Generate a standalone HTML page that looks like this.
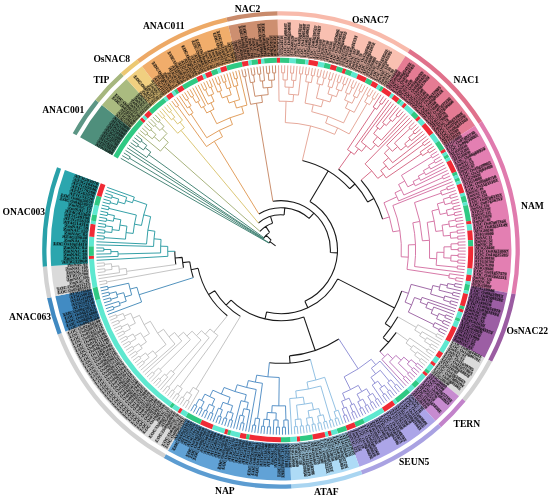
<!DOCTYPE html>
<html><head><meta charset="utf-8"><title>NAC phylogenetic tree</title>
<style>html,body{margin:0;padding:0;background:#fff}svg{display:block}</style></head>
<body>
<svg width="550" height="498" viewBox="0 0 550 498">
<rect width="550" height="498" fill="#fff"/>
<path d="M72.75 133.14A238.8 238.8 0 0 1 95.42 99.72L98.76 102.42A234.5 234.5 0 0 0 76.5 135.24Z" fill="#5c9685"/>
<path d="M80.08 137.25A230.4 230.4 0 0 1 101.95 105L130.7 128.29A193.4 193.4 0 0 0 112.34 155.35Z" fill="#4f8f7c"/>
<path d="M95.42 99.72A238.8 238.8 0 0 1 120.9 72.82L123.78 76.01A234.5 234.5 0 0 0 98.76 102.42Z" fill="#a6b77e"/>
<path d="M101.95 105A230.4 230.4 0 0 1 126.53 79.05L151.34 106.5A193.4 193.4 0 0 0 130.7 128.29Z" fill="#aabb80"/>
<path d="M120.9 72.82A238.8 238.8 0 0 1 136.95 59.54L139.55 62.97A234.5 234.5 0 0 0 123.78 76.01Z" fill="#ecc872"/>
<path d="M126.53 79.05A230.4 230.4 0 0 1 142.02 66.24L164.34 95.75A193.4 193.4 0 0 0 151.34 106.5Z" fill="#f0cf80"/>
<path d="M136.95 59.54A238.8 238.8 0 0 1 226.47 17.51L227.45 21.7A234.5 234.5 0 0 0 139.55 62.97Z" fill="#eda966"/>
<path d="M142.02 66.24A230.4 230.4 0 0 1 228.39 25.69L236.84 61.71A193.4 193.4 0 0 0 164.34 95.75Z" fill="#f1ad6b"/>
<path d="M226.47 17.51A238.8 238.8 0 0 1 277.67 11.22L277.73 15.52A234.5 234.5 0 0 0 227.45 21.7Z" fill="#c98b6c"/>
<path d="M228.39 25.69A230.4 230.4 0 0 1 277.78 19.62L278.3 56.62A193.4 193.4 0 0 0 236.84 61.71Z" fill="#cd8f70"/>
<path d="M277.67 11.22A238.8 238.8 0 0 1 410.01 49.05L407.69 52.67A234.5 234.5 0 0 0 277.73 15.52Z" fill="#f8baab"/>
<path d="M277.78 19.62A230.4 230.4 0 0 1 405.47 56.12L385.48 87.25A193.4 193.4 0 0 0 278.3 56.62Z" fill="#f9c0b1"/>
<path d="M410.01 49.05A238.8 238.8 0 0 1 482.18 121.34L478.56 123.66A234.5 234.5 0 0 0 407.69 52.67Z" fill="#e0718b"/>
<path d="M405.47 56.12A230.4 230.4 0 0 1 475.1 125.87L443.93 145.8A193.4 193.4 0 0 0 385.48 87.25Z" fill="#e57b93"/>
<path d="M482.18 121.34A238.8 238.8 0 0 1 515.65 294.34L511.42 293.54A234.5 234.5 0 0 0 478.56 123.66Z" fill="#e07bae"/>
<path d="M475.1 125.87A230.4 230.4 0 0 1 507.39 292.78L471.04 285.91A193.4 193.4 0 0 0 443.93 145.8Z" fill="#e37fb2"/>
<path d="M515.65 294.34A238.8 238.8 0 0 1 492.04 361.74L488.24 359.73A234.5 234.5 0 0 0 511.42 293.54Z" fill="#9b5ca2"/>
<path d="M507.39 292.78A230.4 230.4 0 0 1 484.62 357.81L451.92 340.5A193.4 193.4 0 0 0 471.04 285.91Z" fill="#9c5ea4"/>
<path d="M492.04 361.74A238.8 238.8 0 0 1 465.53 401.57L462.21 398.84A234.5 234.5 0 0 0 488.24 359.73Z" fill="#d2d2d2"/>
<path d="M484.62 357.81A230.4 230.4 0 0 1 459.04 396.24L430.45 372.76A193.4 193.4 0 0 0 451.92 340.5Z" fill="#dadada"/>
<path d="M465.53 401.57A238.8 238.8 0 0 1 441.1 427.18L438.22 423.99A234.5 234.5 0 0 0 462.21 398.84Z" fill="#c283ca"/>
<path d="M459.04 396.24A230.4 230.4 0 0 1 435.47 420.95L410.66 393.5A193.4 193.4 0 0 0 430.45 372.76Z" fill="#c78bd0"/>
<path d="M441.1 427.18A238.8 238.8 0 0 1 362.28 474.54L360.82 470.5A234.5 234.5 0 0 0 438.22 423.99Z" fill="#a9a2e2"/>
<path d="M435.47 420.95A230.4 230.4 0 0 1 359.42 466.64L346.83 431.85A193.4 193.4 0 0 0 410.66 393.5Z" fill="#aca5e8"/>
<path d="M362.28 474.54A238.8 238.8 0 0 1 291.42 488.57L291.23 484.28A234.5 234.5 0 0 0 360.82 470.5Z" fill="#a9d5f1"/>
<path d="M359.42 466.64A230.4 230.4 0 0 1 291.05 480.18L289.44 443.22A193.4 193.4 0 0 0 346.83 431.85Z" fill="#aedbf6"/>
<path d="M291.42 488.57A238.8 238.8 0 0 1 163.77 458.05L165.88 454.3A234.5 234.5 0 0 0 291.23 484.28Z" fill="#5c9cd1"/>
<path d="M291.05 480.18A230.4 230.4 0 0 1 167.9 450.73L186.06 418.49A193.4 193.4 0 0 0 289.44 443.22Z" fill="#61a2d6"/>
<path d="M163.77 458.05A238.8 238.8 0 0 1 57.62 334.41L61.64 332.89A234.5 234.5 0 0 0 165.88 454.3Z" fill="#d2d2d2"/>
<path d="M167.9 450.73A230.4 230.4 0 0 1 65.47 331.44L100.09 318.36A193.4 193.4 0 0 0 186.06 418.49Z" fill="#dadada"/>
<path d="M57.62 334.41A238.8 238.8 0 0 1 47.08 298.02L51.29 297.15A234.5 234.5 0 0 0 61.64 332.89Z" fill="#4089c1"/>
<path d="M65.47 331.44A230.4 230.4 0 0 1 55.31 296.33L91.55 288.89A193.4 193.4 0 0 0 100.09 318.36Z" fill="#418bc3"/>
<path d="M47.08 298.02A238.8 238.8 0 0 1 42.78 266.66L47.07 266.36A234.5 234.5 0 0 0 51.29 297.15Z" fill="#d2d2d2"/>
<path d="M55.31 296.33A230.4 230.4 0 0 1 51.16 266.07L88.07 263.49A193.4 193.4 0 0 0 91.55 288.89Z" fill="#dadada"/>
<path d="M42.78 266.66A238.8 238.8 0 0 1 57.03 167.15L61.07 168.64A234.5 234.5 0 0 0 47.07 266.36Z" fill="#29a1a9"/>
<path d="M51.16 266.07A230.4 230.4 0 0 1 64.91 170.07L99.61 182.9A193.4 193.4 0 0 0 88.07 263.49Z" fill="#2ba6ae"/>
<path d="M113.39 155.94A192.2 192.2 0 0 1 139.81 119.59L143.48 122.99A187.2 187.2 0 0 0 117.75 158.39Z" fill="#2fc983"/>
<path d="M139.81 119.59A192.2 192.2 0 0 1 142.01 117.25L145.63 120.7A187.2 187.2 0 0 0 143.48 122.99Z" fill="#f02a35"/>
<path d="M142.01 117.25A192.2 192.2 0 0 1 144.25 114.94L147.81 118.45A187.2 187.2 0 0 0 145.63 120.7Z" fill="#5ee8d0"/>
<path d="M144.25 114.94A192.2 192.2 0 0 1 148.85 110.44L152.29 114.07A187.2 187.2 0 0 0 147.81 118.45Z" fill="#f02a35"/>
<path d="M148.85 110.44A192.2 192.2 0 0 1 163.51 97.89L166.56 101.85A187.2 187.2 0 0 0 152.29 114.07Z" fill="#2fc983"/>
<path d="M163.51 97.89A192.2 192.2 0 0 1 166.07 95.95L169.06 99.96A187.2 187.2 0 0 0 166.56 101.85Z" fill="#5ee8d0"/>
<path d="M166.07 95.95A192.2 192.2 0 0 1 171.29 92.19L174.14 96.29A187.2 187.2 0 0 0 169.06 99.96Z" fill="#f02a35"/>
<path d="M171.29 92.19A192.2 192.2 0 0 1 173.95 90.37L176.73 94.53A187.2 187.2 0 0 0 174.14 96.29Z" fill="#5ee8d0"/>
<path d="M173.95 90.37A192.2 192.2 0 0 1 176.63 88.6L179.35 92.8A187.2 187.2 0 0 0 176.73 94.53Z" fill="#2fc983"/>
<path d="M176.63 88.6A192.2 192.2 0 0 1 182.09 85.2L184.67 89.49A187.2 187.2 0 0 0 179.35 92.8Z" fill="#f02a35"/>
<path d="M182.09 85.2A192.2 192.2 0 0 1 196.22 77.51L198.42 82A187.2 187.2 0 0 0 184.67 89.49Z" fill="#2fc983"/>
<path d="M196.22 77.51A192.2 192.2 0 0 1 202.04 74.77L204.09 79.33A187.2 187.2 0 0 0 198.42 82Z" fill="#f02a35"/>
<path d="M202.04 74.77A192.2 192.2 0 0 1 204.98 73.47L206.96 78.06A187.2 187.2 0 0 0 204.09 79.33Z" fill="#5ee8d0"/>
<path d="M204.98 73.47A192.2 192.2 0 0 1 210.93 71.03L212.75 75.68A187.2 187.2 0 0 0 206.96 78.06Z" fill="#f02a35"/>
<path d="M210.93 71.03A192.2 192.2 0 0 1 216.96 68.78L218.63 73.5A187.2 187.2 0 0 0 212.75 75.68Z" fill="#2fc983"/>
<path d="M216.96 68.78A192.2 192.2 0 0 1 220 67.74L221.59 72.48A187.2 187.2 0 0 0 218.63 73.5Z" fill="#5ee8d0"/>
<path d="M220 67.74A192.2 192.2 0 0 1 226.14 65.8L227.57 70.59A187.2 187.2 0 0 0 221.59 72.48Z" fill="#f02a35"/>
<path d="M226.14 65.8A192.2 192.2 0 0 1 241.73 61.85L242.75 66.75A187.2 187.2 0 0 0 227.57 70.59Z" fill="#2fc983"/>
<path d="M241.73 61.85A192.2 192.2 0 0 1 248.05 60.65L248.9 65.57A187.2 187.2 0 0 0 242.75 66.75Z" fill="#f02a35"/>
<path d="M248.05 60.65A192.2 192.2 0 0 1 251.22 60.12L252 65.06A187.2 187.2 0 0 0 248.9 65.57Z" fill="#5ee8d0"/>
<path d="M251.22 60.12A192.2 192.2 0 0 1 257.59 59.23L258.2 64.19A187.2 187.2 0 0 0 252 65.06Z" fill="#2fc983"/>
<path d="M257.59 59.23A192.2 192.2 0 0 1 260.79 58.87L261.32 63.84A187.2 187.2 0 0 0 258.2 64.19Z" fill="#f02a35"/>
<path d="M260.79 58.87A192.2 192.2 0 0 1 263.99 58.55L264.43 63.53A187.2 187.2 0 0 0 261.32 63.84Z" fill="#5ee8d0"/>
<path d="M263.99 58.55A192.2 192.2 0 0 1 276.84 57.85L276.95 62.84A187.2 187.2 0 0 0 264.43 63.53Z" fill="#2fc983"/>
<path d="M276.84 57.85A192.2 192.2 0 0 1 280.05 57.8L280.08 62.8A187.2 187.2 0 0 0 276.95 62.84Z" fill="#f02a35"/>
<path d="M280.05 57.8A192.2 192.2 0 0 1 289.7 58L289.48 62.99A187.2 187.2 0 0 0 280.08 62.8Z" fill="#2fc983"/>
<path d="M289.7 58A192.2 192.2 0 0 1 296.12 58.4L295.73 63.38A187.2 187.2 0 0 0 289.48 62.99Z" fill="#5ee8d0"/>
<path d="M296.12 58.4A192.2 192.2 0 0 1 305.72 59.4L305.08 64.36A187.2 187.2 0 0 0 295.73 63.38Z" fill="#2fc983"/>
<path d="M305.72 59.4A192.2 192.2 0 0 1 308.91 59.84L308.18 64.78A187.2 187.2 0 0 0 305.08 64.36Z" fill="#5ee8d0"/>
<path d="M308.91 59.84A192.2 192.2 0 0 1 318.42 61.48L317.44 66.38A187.2 187.2 0 0 0 308.18 64.78Z" fill="#f02a35"/>
<path d="M318.42 61.48A192.2 192.2 0 0 1 324.71 62.84L323.57 67.7A187.2 187.2 0 0 0 317.44 66.38Z" fill="#5ee8d0"/>
<path d="M324.71 62.84A192.2 192.2 0 0 1 330.95 64.4L329.65 69.23A187.2 187.2 0 0 0 323.57 67.7Z" fill="#2fc983"/>
<path d="M330.95 64.4A192.2 192.2 0 0 1 337.13 66.18L335.67 70.96A187.2 187.2 0 0 0 329.65 69.23Z" fill="#f02a35"/>
<path d="M337.13 66.18A192.2 192.2 0 0 1 343.25 68.16L341.63 72.89A187.2 187.2 0 0 0 335.67 70.96Z" fill="#2fc983"/>
<path d="M343.25 68.16A192.2 192.2 0 0 1 346.29 69.23L344.59 73.93A187.2 187.2 0 0 0 341.63 72.89Z" fill="#f02a35"/>
<path d="M346.29 69.23A192.2 192.2 0 0 1 352.3 71.51L350.45 76.16A187.2 187.2 0 0 0 344.59 73.93Z" fill="#2fc983"/>
<path d="M352.3 71.51A192.2 192.2 0 0 1 358.23 74L356.23 78.58A187.2 187.2 0 0 0 350.45 76.16Z" fill="#5ee8d0"/>
<path d="M358.23 74A192.2 192.2 0 0 1 366.97 78.1L364.73 82.57A187.2 187.2 0 0 0 356.23 78.58Z" fill="#f02a35"/>
<path d="M366.97 78.1A192.2 192.2 0 0 1 372.68 81.07L370.29 85.47A187.2 187.2 0 0 0 364.73 82.57Z" fill="#2fc983"/>
<path d="M372.68 81.07A192.2 192.2 0 0 1 378.28 84.24L375.75 88.55A187.2 187.2 0 0 0 370.29 85.47Z" fill="#f02a35"/>
<path d="M378.28 84.24A192.2 192.2 0 0 1 381.04 85.89L378.44 90.16A187.2 187.2 0 0 0 375.75 88.55Z" fill="#5ee8d0"/>
<path d="M381.04 85.89A192.2 192.2 0 0 1 383.77 87.58L381.1 91.81A187.2 187.2 0 0 0 378.44 90.16Z" fill="#2fc983"/>
<path d="M383.77 87.58A192.2 192.2 0 0 1 391.79 92.95L388.91 97.03A187.2 187.2 0 0 0 381.1 91.81Z" fill="#f02a35"/>
<path d="M391.79 92.95A192.2 192.2 0 0 1 394.41 94.82L391.46 98.86A187.2 187.2 0 0 0 388.91 97.03Z" fill="#5ee8d0"/>
<path d="M394.41 94.82A192.2 192.2 0 0 1 399.54 98.71L396.45 102.64A187.2 187.2 0 0 0 391.46 98.86Z" fill="#f02a35"/>
<path d="M399.54 98.71A192.2 192.2 0 0 1 402.05 100.71L398.9 104.6A187.2 187.2 0 0 0 396.45 102.64Z" fill="#2fc983"/>
<path d="M402.05 100.71A192.2 192.2 0 0 1 404.54 102.76L401.32 106.59A187.2 187.2 0 0 0 398.9 104.6Z" fill="#5ee8d0"/>
<path d="M404.54 102.76A192.2 192.2 0 0 1 406.98 104.85L403.71 108.62A187.2 187.2 0 0 0 401.32 106.59Z" fill="#f02a35"/>
<path d="M406.98 104.85A192.2 192.2 0 0 1 414.11 111.35L410.65 114.96A187.2 187.2 0 0 0 403.71 108.62Z" fill="#5ee8d0"/>
<path d="M414.11 111.35A192.2 192.2 0 0 1 418.68 115.89L415.09 119.38A187.2 187.2 0 0 0 410.65 114.96Z" fill="#2fc983"/>
<path d="M418.68 115.89A192.2 192.2 0 0 1 420.9 118.21L417.26 121.64A187.2 187.2 0 0 0 415.09 119.38Z" fill="#f02a35"/>
<path d="M420.9 118.21A192.2 192.2 0 0 1 425.23 122.97L421.48 126.27A187.2 187.2 0 0 0 417.26 121.64Z" fill="#5ee8d0"/>
<path d="M425.23 122.97A192.2 192.2 0 0 1 433.41 132.9L429.44 135.95A187.2 187.2 0 0 0 421.48 126.27Z" fill="#f02a35"/>
<path d="M433.41 132.9A192.2 192.2 0 0 1 439.09 140.7L434.98 143.54A187.2 187.2 0 0 0 429.44 135.95Z" fill="#5ee8d0"/>
<path d="M439.09 140.7A192.2 192.2 0 0 1 444.38 148.77L440.13 151.4A187.2 187.2 0 0 0 434.98 143.54Z" fill="#2fc983"/>
<path d="M444.38 148.77A192.2 192.2 0 0 1 446.05 151.52L441.76 154.08A187.2 187.2 0 0 0 440.13 151.4Z" fill="#f02a35"/>
<path d="M446.05 151.52A192.2 192.2 0 0 1 447.68 154.3L443.34 156.79A187.2 187.2 0 0 0 441.76 154.08Z" fill="#5ee8d0"/>
<path d="M447.68 154.3A192.2 192.2 0 0 1 449.26 157.1L444.88 159.52A187.2 187.2 0 0 0 443.34 156.79Z" fill="#2fc983"/>
<path d="M449.26 157.1A192.2 192.2 0 0 1 450.79 159.93L446.37 162.27A187.2 187.2 0 0 0 444.88 159.52Z" fill="#5ee8d0"/>
<path d="M450.79 159.93A192.2 192.2 0 0 1 456.43 171.49L451.87 173.53A187.2 187.2 0 0 0 446.37 162.27Z" fill="#f02a35"/>
<path d="M456.43 171.49A192.2 192.2 0 0 1 457.72 174.44L453.13 176.4A187.2 187.2 0 0 0 451.87 173.53Z" fill="#2fc983"/>
<path d="M457.72 174.44A192.2 192.2 0 0 1 458.96 177.4L454.33 179.29A187.2 187.2 0 0 0 453.13 176.4Z" fill="#5ee8d0"/>
<path d="M458.96 177.4A192.2 192.2 0 0 1 460.15 180.39L455.49 182.2A187.2 187.2 0 0 0 454.33 179.29Z" fill="#2fc983"/>
<path d="M460.15 180.39A192.2 192.2 0 0 1 461.29 183.4L456.6 185.13A187.2 187.2 0 0 0 455.49 182.2Z" fill="#5ee8d0"/>
<path d="M461.29 183.4A192.2 192.2 0 0 1 464.41 192.53L459.64 194.03A187.2 187.2 0 0 0 456.6 185.13Z" fill="#f02a35"/>
<path d="M464.41 192.53A192.2 192.2 0 0 1 465.34 195.61L460.55 197.03A187.2 187.2 0 0 0 459.64 194.03Z" fill="#5ee8d0"/>
<path d="M465.34 195.61A192.2 192.2 0 0 1 467.06 201.81L462.22 203.07A187.2 187.2 0 0 0 460.55 197.03Z" fill="#2fc983"/>
<path d="M467.06 201.81A192.2 192.2 0 0 1 467.84 204.93L462.98 206.11A187.2 187.2 0 0 0 462.22 203.07Z" fill="#5ee8d0"/>
<path d="M467.84 204.93A192.2 192.2 0 0 1 470.96 220.71L466.01 221.47A187.2 187.2 0 0 0 462.98 206.11Z" fill="#2fc983"/>
<path d="M470.96 220.71A192.2 192.2 0 0 1 471.42 223.89L466.47 224.57A187.2 187.2 0 0 0 466.01 221.47Z" fill="#f02a35"/>
<path d="M471.42 223.89A192.2 192.2 0 0 1 472.19 230.28L467.21 230.79A187.2 187.2 0 0 0 466.47 224.57Z" fill="#5ee8d0"/>
<path d="M472.19 230.28A192.2 192.2 0 0 1 472.93 239.9L467.94 240.17A187.2 187.2 0 0 0 467.21 230.79Z" fill="#f02a35"/>
<path d="M472.93 239.9A192.2 192.2 0 0 1 473.17 246.33L468.17 246.43A187.2 187.2 0 0 0 467.94 240.17Z" fill="#2fc983"/>
<path d="M473.17 246.33A192.2 192.2 0 0 1 472.28 268.82L467.3 268.33A187.2 187.2 0 0 0 468.17 246.43Z" fill="#f02a35"/>
<path d="M472.28 268.82A192.2 192.2 0 0 1 471.54 275.21L466.58 274.56A187.2 187.2 0 0 0 467.3 268.33Z" fill="#5ee8d0"/>
<path d="M471.54 275.21A192.2 192.2 0 0 1 470.59 281.58L465.66 280.75A187.2 187.2 0 0 0 466.58 274.56Z" fill="#f02a35"/>
<path d="M470.59 281.58A192.2 192.2 0 0 1 470.03 284.74L465.12 283.84A187.2 187.2 0 0 0 465.66 280.75Z" fill="#5ee8d0"/>
<path d="M470.03 284.74A192.2 192.2 0 0 1 468.76 291.05L463.88 289.98A187.2 187.2 0 0 0 465.12 283.84Z" fill="#2fc983"/>
<path d="M468.76 291.05A192.2 192.2 0 0 1 468.05 294.19L463.19 293.04A187.2 187.2 0 0 0 463.88 289.98Z" fill="#5ee8d0"/>
<path d="M468.05 294.19A192.2 192.2 0 0 1 464.68 306.6L459.9 305.13A187.2 187.2 0 0 0 463.19 293.04Z" fill="#f02a35"/>
<path d="M464.68 306.6A192.2 192.2 0 0 1 463.7 309.67L458.95 308.12A187.2 187.2 0 0 0 459.9 305.13Z" fill="#2fc983"/>
<path d="M463.7 309.67A192.2 192.2 0 0 1 462.68 312.72L457.95 311.09A187.2 187.2 0 0 0 458.95 308.12Z" fill="#f02a35"/>
<path d="M462.68 312.72A192.2 192.2 0 0 1 460.48 318.77L455.81 316.98A187.2 187.2 0 0 0 457.95 311.09Z" fill="#5ee8d0"/>
<path d="M460.48 318.77A192.2 192.2 0 0 1 459.3 321.76L454.66 319.89A187.2 187.2 0 0 0 455.81 316.98Z" fill="#2fc983"/>
<path d="M459.3 321.76A192.2 192.2 0 0 1 456.8 327.69L452.23 325.67A187.2 187.2 0 0 0 454.66 319.89Z" fill="#5ee8d0"/>
<path d="M456.8 327.69A192.2 192.2 0 0 1 449.69 342.11L445.3 339.71A187.2 187.2 0 0 0 452.23 325.67Z" fill="#f02a35"/>
<path d="M449.69 342.11A192.2 192.2 0 0 1 443.15 353.19L438.93 350.51A187.2 187.2 0 0 0 445.3 339.71Z" fill="#5ee8d0"/>
<path d="M443.15 353.19A192.2 192.2 0 0 1 439.61 358.56L435.48 355.74A187.2 187.2 0 0 0 438.93 350.51Z" fill="#f02a35"/>
<path d="M439.61 358.56A192.2 192.2 0 0 1 435.88 363.81L431.85 360.85A187.2 187.2 0 0 0 435.48 355.74Z" fill="#5ee8d0"/>
<path d="M435.88 363.81A192.2 192.2 0 0 1 433.96 366.38L429.98 363.36A187.2 187.2 0 0 0 431.85 360.85Z" fill="#f02a35"/>
<path d="M433.96 366.38A192.2 192.2 0 0 1 429.98 371.44L426.1 368.28A187.2 187.2 0 0 0 429.98 363.36Z" fill="#5ee8d0"/>
<path d="M429.98 371.44A192.2 192.2 0 0 1 427.92 373.91L424.1 370.69A187.2 187.2 0 0 0 426.1 368.28Z" fill="#2fc983"/>
<path d="M427.92 373.91A192.2 192.2 0 0 1 425.83 376.36L422.06 373.07A187.2 187.2 0 0 0 424.1 370.69Z" fill="#f02a35"/>
<path d="M425.83 376.36A192.2 192.2 0 0 1 419.3 383.47L415.71 379.99A187.2 187.2 0 0 0 422.06 373.07Z" fill="#5ee8d0"/>
<path d="M419.3 383.47A192.2 192.2 0 0 1 414.76 388.02L411.28 384.43A187.2 187.2 0 0 0 415.71 379.99Z" fill="#2fc983"/>
<path d="M414.76 388.02A192.2 192.2 0 0 1 410.06 392.42L406.71 388.71A187.2 187.2 0 0 0 411.28 384.43Z" fill="#5ee8d0"/>
<path d="M410.06 392.42A192.2 192.2 0 0 1 397.71 402.71L394.67 398.74A187.2 187.2 0 0 0 406.71 388.71Z" fill="#2fc983"/>
<path d="M397.71 402.71A192.2 192.2 0 0 1 395.13 404.64L392.17 400.62A187.2 187.2 0 0 0 394.67 398.74Z" fill="#5ee8d0"/>
<path d="M395.13 404.64A192.2 192.2 0 0 1 384.53 411.93L381.84 407.72A187.2 187.2 0 0 0 392.17 400.62Z" fill="#f02a35"/>
<path d="M384.53 411.93A192.2 192.2 0 0 1 364.89 422.92L362.71 418.43A187.2 187.2 0 0 0 381.84 407.72Z" fill="#5ee8d0"/>
<path d="M364.89 422.92A192.2 192.2 0 0 1 356.11 426.92L354.15 422.31A187.2 187.2 0 0 0 362.71 418.43Z" fill="#2fc983"/>
<path d="M356.11 426.92A192.2 192.2 0 0 1 347.13 430.46L345.41 425.77A187.2 187.2 0 0 0 354.15 422.31Z" fill="#f02a35"/>
<path d="M347.13 430.46A192.2 192.2 0 0 1 337.99 433.56L336.51 428.78A187.2 187.2 0 0 0 345.41 425.77Z" fill="#2fc983"/>
<path d="M337.99 433.56A192.2 192.2 0 0 1 331.82 435.36L330.5 430.54A187.2 187.2 0 0 0 336.51 428.78Z" fill="#5ee8d0"/>
<path d="M331.82 435.36A192.2 192.2 0 0 1 328.71 436.18L327.47 431.34A187.2 187.2 0 0 0 330.5 430.54Z" fill="#f02a35"/>
<path d="M328.71 436.18A192.2 192.2 0 0 1 325.58 436.96L324.42 432.09A187.2 187.2 0 0 0 327.47 431.34Z" fill="#5ee8d0"/>
<path d="M325.58 436.96A192.2 192.2 0 0 1 312.98 439.52L312.15 434.59A187.2 187.2 0 0 0 324.42 432.09Z" fill="#f02a35"/>
<path d="M312.98 439.52A192.2 192.2 0 0 1 300.23 441.24L299.73 436.26A187.2 187.2 0 0 0 312.15 434.59Z" fill="#2fc983"/>
<path d="M300.23 441.24A192.2 192.2 0 0 1 297.02 441.53L296.61 436.55A187.2 187.2 0 0 0 299.73 436.26Z" fill="#f02a35"/>
<path d="M297.02 441.53A192.2 192.2 0 0 1 290.6 441.96L290.35 436.97A187.2 187.2 0 0 0 296.61 436.55Z" fill="#5ee8d0"/>
<path d="M290.6 441.96A192.2 192.2 0 0 1 280.96 442.2L280.96 437.2A187.2 187.2 0 0 0 290.35 436.97Z" fill="#2fc983"/>
<path d="M280.96 442.2A192.2 192.2 0 0 1 248.94 439.51L249.77 434.58A187.2 187.2 0 0 0 280.96 437.2Z" fill="#f02a35"/>
<path d="M248.94 439.51A192.2 192.2 0 0 1 245.77 438.94L246.69 434.03A187.2 187.2 0 0 0 249.77 434.58Z" fill="#2fc983"/>
<path d="M245.77 438.94A192.2 192.2 0 0 1 239.46 437.66L240.55 432.78A187.2 187.2 0 0 0 246.69 434.03Z" fill="#f02a35"/>
<path d="M239.46 437.66A192.2 192.2 0 0 1 230.1 435.34L231.42 430.52A187.2 187.2 0 0 0 240.55 432.78Z" fill="#5ee8d0"/>
<path d="M230.1 435.34A192.2 192.2 0 0 1 227 434.46L228.41 429.66A187.2 187.2 0 0 0 231.42 430.52Z" fill="#2fc983"/>
<path d="M227 434.46A192.2 192.2 0 0 1 223.92 433.53L225.41 428.76A187.2 187.2 0 0 0 228.41 429.66Z" fill="#f02a35"/>
<path d="M223.92 433.53A192.2 192.2 0 0 1 211.77 429.3L213.57 424.64A187.2 187.2 0 0 0 225.41 428.76Z" fill="#5ee8d0"/>
<path d="M211.77 429.3A192.2 192.2 0 0 1 199.93 424.27L202.04 419.73A187.2 187.2 0 0 0 213.57 424.64Z" fill="#f02a35"/>
<path d="M199.93 424.27A192.2 192.2 0 0 1 185.65 416.88L188.13 412.54A187.2 187.2 0 0 0 202.04 419.73Z" fill="#2fc983"/>
<path d="M185.65 416.88A192.2 192.2 0 0 1 180.12 413.6L182.74 409.34A187.2 187.2 0 0 0 188.13 412.54Z" fill="#5ee8d0"/>
<path d="M180.12 413.6A192.2 192.2 0 0 1 177.39 411.88L180.09 407.67A187.2 187.2 0 0 0 182.74 409.34Z" fill="#f02a35"/>
<path d="M177.39 411.88A192.2 192.2 0 0 1 172.03 408.33L174.87 404.21A187.2 187.2 0 0 0 180.09 407.67Z" fill="#5ee8d0"/>
<path d="M172.03 408.33A192.2 192.2 0 0 1 169.4 406.48L172.3 402.41A187.2 187.2 0 0 0 174.87 404.21Z" fill="#2fc983"/>
<path d="M169.4 406.48A192.2 192.2 0 0 1 95.51 300.34L100.33 299.03A187.2 187.2 0 0 0 172.3 402.41Z" fill="#5ee8d0"/>
<path d="M95.51 300.34A192.2 192.2 0 0 1 92.56 287.82L97.46 286.83A187.2 187.2 0 0 0 100.33 299.03Z" fill="#2fc983"/>
<path d="M92.56 287.82A192.2 192.2 0 0 1 89.02 259.11L94.01 258.87A187.2 187.2 0 0 0 97.46 286.83Z" fill="#5ee8d0"/>
<path d="M89.02 259.11A192.2 192.2 0 0 1 88.89 255.89L93.89 255.74A187.2 187.2 0 0 0 94.01 258.87Z" fill="#f02a35"/>
<path d="M88.89 255.89A192.2 192.2 0 0 1 88.84 246.24L93.84 246.34A187.2 187.2 0 0 0 93.89 255.74Z" fill="#2fc983"/>
<path d="M88.84 246.24A192.2 192.2 0 0 1 89.27 236.6L94.26 236.95A187.2 187.2 0 0 0 93.84 246.34Z" fill="#5ee8d0"/>
<path d="M89.27 236.6A192.2 192.2 0 0 1 90.59 223.81L95.55 224.49A187.2 187.2 0 0 0 94.26 236.95Z" fill="#f02a35"/>
<path d="M90.59 223.81A192.2 192.2 0 0 1 91.06 220.62L96 221.39A187.2 187.2 0 0 0 95.55 224.49Z" fill="#5ee8d0"/>
<path d="M91.06 220.62A192.2 192.2 0 0 1 92.15 214.28L97.06 215.21A187.2 187.2 0 0 0 96 221.39Z" fill="#2fc983"/>
<path d="M92.15 214.28A192.2 192.2 0 0 1 94.18 204.85L99.04 206.02A187.2 187.2 0 0 0 97.06 215.21Z" fill="#5ee8d0"/>
<path d="M94.18 204.85A192.2 192.2 0 0 1 96.68 195.53L101.48 196.95A187.2 187.2 0 0 0 99.04 206.02Z" fill="#2fc983"/>
<path d="M96.68 195.53A192.2 192.2 0 0 1 100.74 183.32L105.43 185.05A187.2 187.2 0 0 0 101.48 196.95Z" fill="#f02a35"/>
<path d="M268.94 243.1A13.9 13.9 0 0 1 271.15 240.2M271.15 240.2L266.11 235.19M263.32 238.67A21 21 0 0 1 269.58 232.38M269.58 232.38L265.72 226.42M259.96 231.37A28.1 28.1 0 0 1 272.59 223.19M272.59 223.19L270.47 216.41M258.42 223A35.2 35.2 0 0 1 284.12 214.94M284.12 214.94L284.75 207.87M258.87 213.95A42.3 42.3 0 0 1 309.15 218.43M309.15 218.43L313.88 213.13M272.86 201.28A49.4 49.4 0 0 1 330.34 252.52M330.34 252.52L337.43 252.89M309.95 201.48A56.5 56.5 0 0 1 304.85 301.22M309.95 201.48L328.14 171M302.34 160.51A92 92 0 0 1 349.63 188.73M349.63 188.73L354.92 184M338.55 169.32A99.1 99.1 0 0 1 367.66 201.93M367.66 201.93L373.87 198.48M361.04 180.2A106.2 106.2 0 0 1 382.59 219.05M304.85 301.22L307.85 307.66M337.67 278.88A63.6 63.6 0 0 1 266.63 311.96M337.67 278.88L394.6 307.89M401.7 291.07A127.5 127.5 0 0 1 385.17 323.52M385.17 323.52L390.97 327.62M397.83 316.84A134.6 134.6 0 0 1 383.12 337.69M383.12 337.69L388.5 342.32M396.32 332.34A141.7 141.7 0 0 1 379.83 351.55M266.63 311.96L265.03 318.87M303.78 316.93A70.7 70.7 0 0 1 231.09 300.07M303.78 316.93L315.21 350.54M338.86 339.05A106.2 106.2 0 0 1 289.47 355.86M289.47 355.86L290.03 362.94M310.38 359.42A113.3 113.3 0 0 1 269.38 362.7M231.09 300.07L226.07 305.1M240.44 316.39A77.8 77.8 0 0 1 214.74 290.77M214.74 290.77L208.69 294.49M227.33 315.78A84.9 84.9 0 0 1 198.08 268.25M198.08 268.25L191.15 269.78M193.25 277.65A92 92 0 0 1 189.75 261.74M189.75 261.74L182.71 262.65M183.52 267.87A99.1 99.1 0 0 1 182.18 257.4M182.18 257.4L175.1 257.93M175.8 264.54A106.2 106.2 0 0 1 174.81 251.28M269.95 241.57L275.59 245.88" fill="none" stroke="#1a1a1a" stroke-width="1.1"/>
<path d="M268.94 243.1L120.69 158.27M269.11 242.8L129.46 158.16M128.7 159.43A177.2 177.2 0 0 1 130.23 156.89M128.7 159.43L122.25 155.6M130.23 156.89L123.85 152.95M263.32 238.67L125.5 150.34M263.51 238.37L127.19 147.75M263.96 237.72L148.75 154.71M146.79 157.5A163 163 0 0 1 150.77 151.97M146.79 157.5L128.92 145.19M150.77 151.97L145.1 147.7M143.41 149.99A170.1 170.1 0 0 1 146.83 145.44M143.41 149.99L137.67 145.81M136.8 147.01A177.2 177.2 0 0 1 138.54 144.62M136.8 147.01L130.7 142.66M138.54 144.62L132.51 140.16M146.83 145.44L141.23 141.07M140.33 142.25A177.2 177.2 0 0 1 142.15 139.91M140.33 142.25L134.37 137.69M142.15 139.91L136.27 135.25" fill="none" stroke="#377b6b" stroke-width="0.9"/>
<path d="M259.96 231.37L164.29 146.64M160.48 151.11A155.9 155.9 0 0 1 168.26 142.32M160.48 151.11L138.21 132.84M168.26 142.32L163.13 137.42M159.43 141.42A163 163 0 0 1 166.96 133.53M159.43 141.42L154.13 136.7M152.25 138.83A170.1 170.1 0 0 1 156.04 134.59M152.25 138.83L146.88 134.19M145.91 135.32A177.2 177.2 0 0 1 147.85 133.08M145.91 135.32L140.19 130.47M147.85 133.08L142.22 128.13M156.04 134.59L150.83 129.77M149.83 130.86A177.2 177.2 0 0 1 151.84 128.69M149.83 130.86L144.27 125.82M151.84 128.69L146.37 123.55M166.96 133.53L161.99 128.46M159.98 130.47A170.1 170.1 0 0 1 164.05 126.49M159.98 130.47L154.93 125.48M153.89 126.54A177.2 177.2 0 0 1 155.97 124.43M153.89 126.54L148.51 121.32M155.97 124.43L150.68 119.12M164.05 126.49L159.16 121.33M158.09 122.36A177.2 177.2 0 0 1 160.24 120.32M158.09 122.36L152.89 116.95M160.24 120.32L155.13 114.83" fill="none" stroke="#9eaa6e" stroke-width="0.9"/>
<path d="M258.42 223L181 130.4M177.66 133.27A155.9 155.9 0 0 1 184.41 127.62M177.66 133.27L163.54 117.33M162.43 118.31A177.2 177.2 0 0 1 164.65 116.35M162.43 118.31L157.41 112.74M164.65 116.35L159.73 110.69M184.41 127.62L180.01 122.05M177.62 123.98A163 163 0 0 1 182.44 120.17M177.62 123.98L173.12 118.49M171.48 119.85A170.1 170.1 0 0 1 174.78 117.14M171.48 119.85L162.08 108.68M174.78 117.14L170.35 111.6M169.19 112.53A177.2 177.2 0 0 1 171.51 110.68M169.19 112.53L164.46 106.71M171.51 110.68L166.87 104.78M182.44 120.17L169.32 102.89" fill="none" stroke="#d8c166" stroke-width="0.9"/>
<path d="M258.87 213.95L214.31 141.33M206.48 146.54A127.5 127.5 0 0 1 222.49 136.72M206.48 146.54L177.43 106.22M176.23 107.09A177.2 177.2 0 0 1 178.64 105.36M176.23 107.09L171.8 101.04M178.64 105.36L174.31 99.23M222.49 136.72L219.24 130.41M206.73 137.74A134.6 134.6 0 0 1 232.46 124.46M206.73 137.74L191.06 114.06M189.08 115.39A163 163 0 0 1 193.06 112.76M189.08 115.39L176.84 97.47M193.06 112.76L189.23 106.78M187.44 107.94A170.1 170.1 0 0 1 191.04 105.64M187.44 107.94L179.41 95.75M191.04 105.64L187.28 99.61M186.03 100.4A177.2 177.2 0 0 1 188.55 98.83M186.03 100.4L182.01 94.07M188.55 98.83L184.63 92.43M232.46 124.46L229.89 117.84M216.77 123.69A141.7 141.7 0 0 1 243.55 113.34M216.77 123.69L210.33 111.04M206.72 112.93A155.9 155.9 0 0 1 213.99 109.24M206.72 112.93L203.34 106.69M201.25 107.84A163 163 0 0 1 205.45 105.57M201.25 107.84L197.78 101.65M195.92 102.71A170.1 170.1 0 0 1 199.65 100.62M195.92 102.71L192.37 96.56M191.09 97.31A177.2 177.2 0 0 1 193.66 95.82M191.09 97.31L187.28 90.84M193.66 95.82L189.96 89.3M199.65 100.62L192.66 87.79M205.45 105.57L195.39 86.34M213.99 109.24L210.94 102.82M207.88 104.32A163 163 0 0 1 214.03 101.39M207.88 104.32L198.14 84.93M214.03 101.39L211.12 94.92M208.53 96.11A170.1 170.1 0 0 1 213.72 93.77M208.53 96.11L205.51 89.69M204.17 90.32A177.2 177.2 0 0 1 206.85 89.06M204.17 90.32L200.92 83.57M206.85 89.06L203.71 82.25M213.72 93.77L210.91 87.25M209.55 87.84A177.2 177.2 0 0 1 212.28 86.67M209.55 87.84L206.53 80.98M212.28 86.67L209.37 79.76M243.55 113.34L241.67 106.49M236.44 108.03A148.8 148.8 0 0 1 246.95 105.15M236.44 108.03L234.32 101.25M229.06 103.01A155.9 155.9 0 0 1 239.64 99.69M229.06 103.01L226.69 96.31M222.21 97.97A163 163 0 0 1 231.21 94.79M222.21 97.97L219.65 91.35M217.67 92.13A170.1 170.1 0 0 1 221.65 90.59M217.67 92.13L212.23 78.58M221.65 90.59L219.17 83.94M217.78 84.46A177.2 177.2 0 0 1 220.56 83.42M217.78 84.46L215.11 77.45M220.56 83.42L218.01 76.37M231.21 94.79L229.05 88.03M227.02 88.69A170.1 170.1 0 0 1 231.08 87.39M227.02 88.69L224.76 81.96M223.36 82.44A177.2 177.2 0 0 1 226.17 81.5M223.36 82.44L220.92 75.34M226.17 81.5L223.85 74.36M231.08 87.39L226.8 73.43M239.64 99.69L235.87 86M233.81 86.58A170.1 170.1 0 0 1 237.93 85.44M233.81 86.58L229.76 72.55M237.93 85.44L236.13 78.57M234.7 78.96A177.2 177.2 0 0 1 237.57 78.2M234.7 78.96L232.74 71.72M237.57 78.2L235.73 70.93M246.95 105.15L238.73 70.2" fill="none" stroke="#df954e" stroke-width="0.9"/>
<path d="M272.86 201.28L256.49 103.23M250.6 104.34A148.8 148.8 0 0 1 262.42 102.37M250.6 104.34L244.79 76.54M243.34 76.85A177.2 177.2 0 0 1 246.25 76.24M243.34 76.85L241.75 69.52M246.25 76.24L244.78 68.89M262.42 102.37L261.53 95.32M254.91 96.3A155.9 155.9 0 0 1 268.18 94.63M254.91 96.3L252.54 82.3M250.43 82.67A170.1 170.1 0 0 1 254.65 81.95M250.43 82.67L247.81 68.31M254.65 81.95L253.55 74.94M252.08 75.18A177.2 177.2 0 0 1 255.01 74.72M252.08 75.18L250.86 67.78M255.01 74.72L253.91 67.3M268.18 94.63L267.59 87.55M263.18 87.98A163 163 0 0 1 272.02 87.25M263.18 87.98L262.41 80.92M260.28 81.17A170.1 170.1 0 0 1 264.53 80.7M260.28 81.17L259.42 74.12M257.95 74.31A177.2 177.2 0 0 1 260.89 73.94M257.95 74.31L256.97 66.87M260.89 73.94L260.04 66.49M264.53 80.7L263.12 66.17M272.02 87.25L271.63 80.16M268.78 80.34A170.1 170.1 0 0 1 274.47 80.03M268.78 80.34L268.28 73.26M266.8 73.37A177.2 177.2 0 0 1 269.75 73.16M266.8 73.37L266.2 65.89M269.75 73.16L269.28 65.67M274.47 80.03L274.2 72.93M272.72 72.99A177.2 177.2 0 0 1 275.68 72.88M272.72 72.99L272.37 65.5M275.68 72.88L275.45 65.38" fill="none" stroke="#c4825e" stroke-width="0.9"/>
<path d="M302.34 160.51L310.57 125.98M285.31 122.57A127.5 127.5 0 0 1 334.65 134.34M285.31 122.57L286.03 101.28M279.02 101.21A148.8 148.8 0 0 1 293.02 101.69M279.02 101.21L278.55 65.32M293.02 101.69L293.59 94.61M288.71 94.29A155.9 155.9 0 0 1 298.46 95.08M288.71 94.29L289.06 87.2M284.97 87.05A163 163 0 0 1 293.15 87.45M284.97 87.05L285.14 79.95M283.01 79.91A170.1 170.1 0 0 1 287.28 80.02M283.01 79.91L283.09 72.81M281.61 72.8A177.2 177.2 0 0 1 284.58 72.84M281.61 72.8L281.64 65.3M284.58 72.84L284.73 65.34M287.28 80.02L287.82 65.43M293.15 87.45L293.68 80.37M291.54 80.23A170.1 170.1 0 0 1 295.8 80.55M291.54 80.23L291.98 73.14M290.5 73.06A177.2 177.2 0 0 1 293.46 73.24M290.5 73.06L290.91 65.57M293.46 73.24L293.99 65.76M295.8 80.55L297.07 66M298.46 95.08L300.85 73.92M299.37 73.76A177.2 177.2 0 0 1 302.32 74.09M299.37 73.76L300.15 66.3M302.32 74.09L303.22 66.64M334.65 134.34L337.64 127.9M325.63 123.01A134.6 134.6 0 0 1 349.13 133.91M325.63 123.01L327.98 116.31M311.71 111.67A141.7 141.7 0 0 1 343.59 122.87M311.71 111.67L313.24 104.74M305.07 103.16A148.8 148.8 0 0 1 321.32 106.77M305.07 103.16L308.51 82.14M305.7 81.7A170.1 170.1 0 0 1 311.32 82.62M305.7 81.7L306.73 74.68M305.26 74.47A177.2 177.2 0 0 1 308.2 74.9M305.26 74.47L306.29 67.04M308.2 74.9L309.35 67.49M311.32 82.62L312.58 75.64M311.12 75.38A177.2 177.2 0 0 1 314.04 75.91M311.12 75.38L312.4 67.99M314.04 75.91L315.44 68.54M321.32 106.77L323.24 99.93M316.45 98.18A155.9 155.9 0 0 1 329.95 101.98M316.45 98.18L319.68 84.36M316.9 83.73A170.1 170.1 0 0 1 322.45 85.03M316.9 83.73L318.4 76.79M316.95 76.49A177.2 177.2 0 0 1 319.85 77.11M316.95 76.49L318.47 69.14M319.85 77.11L321.49 69.79M322.45 85.03L324.18 78.14M322.74 77.79A177.2 177.2 0 0 1 325.62 78.51M322.74 77.79L324.51 70.5M325.62 78.51L327.5 71.25M329.95 101.98L332.18 95.24M327.95 93.91A163 163 0 0 1 336.37 96.69M327.95 93.91L330 87.11M327.95 86.51A170.1 170.1 0 0 1 332.04 87.74M327.95 86.51L329.91 79.68M328.48 79.28A177.2 177.2 0 0 1 331.33 80.1M328.48 79.28L330.49 72.05M331.33 80.1L333.46 72.91M332.04 87.74L336.42 73.81M336.37 96.69L338.78 90.01M336.09 89.07A170.1 170.1 0 0 1 341.45 91M336.09 89.07L338.39 82.35M336.99 81.88A177.2 177.2 0 0 1 339.79 82.84M336.99 81.88L339.36 74.76M339.79 82.84L342.28 75.76M341.45 91L343.97 84.37M342.58 83.85A177.2 177.2 0 0 1 345.36 84.9M342.58 83.85L345.19 76.81M345.36 84.9L348.08 77.91M343.59 122.87L349.86 110.13M345.43 108.04A155.9 155.9 0 0 1 354.21 112.36M345.43 108.04L348.37 101.57M344.62 99.93A163 163 0 0 1 352.07 103.31M344.62 99.93L347.39 93.39M345.42 92.57A170.1 170.1 0 0 1 349.35 94.24M345.42 92.57L350.95 79.06M349.35 94.24L352.21 87.74M350.85 87.15A177.2 177.2 0 0 1 353.56 88.34M350.85 87.15L353.8 80.25M353.56 88.34L356.63 81.5M352.07 103.31L355.17 96.92M353.24 96A170.1 170.1 0 0 1 357.09 97.87M353.24 96L359.44 82.79M357.09 97.87L360.26 91.52M358.93 90.86A177.2 177.2 0 0 1 361.58 92.18M358.93 90.86L362.23 84.12M361.58 92.18L365 85.5M354.21 112.36L367.74 86.93M349.13 133.91L367.09 103.3M364.63 101.88A170.1 170.1 0 0 1 369.54 104.76M364.63 101.88L368.12 95.69M366.82 94.97A177.2 177.2 0 0 1 369.4 96.43M366.82 94.97L370.45 88.41M369.4 96.43L373.15 89.93M369.54 104.76L373.23 98.7M371.96 97.93A177.2 177.2 0 0 1 374.5 99.47M371.96 97.93L375.81 91.49M374.5 99.47L378.45 93.1" fill="none" stroke="#e39f90" stroke-width="0.9"/>
<path d="M338.55 169.32L350.92 151.98M347.49 149.63A120.4 120.4 0 0 1 354.25 154.45M347.49 149.63L374.94 108.19M373.15 107.03A170.1 170.1 0 0 1 376.72 109.38M373.15 107.03L381.06 94.75M376.72 109.38L380.71 103.52M379.48 102.69A177.2 177.2 0 0 1 381.93 104.36M379.48 102.69L383.65 96.45M381.93 104.36L386.2 98.19M354.25 154.45L358.57 148.81M355.37 146.43A127.5 127.5 0 0 1 361.7 151.29M355.37 146.43L388.73 99.97M361.7 151.29L366.2 145.8M361.33 142A134.6 134.6 0 0 1 370.89 149.82M361.33 142L391.23 101.8M370.89 149.82L375.63 144.53M372.93 142.16A141.7 141.7 0 0 1 378.28 146.97M372.93 142.16L377.53 136.76M373.63 133.55A148.8 148.8 0 0 1 381.33 140.11M373.63 133.55L378.05 127.99M376.12 126.48A155.9 155.9 0 0 1 379.95 129.53M376.12 126.48L393.69 103.66M379.95 129.53L384.46 124.04M382.6 122.54A163 163 0 0 1 386.29 125.57M382.6 122.54L396.13 105.57M386.29 125.57L390.88 120.15M389.24 118.78A170.1 170.1 0 0 1 392.5 121.54M389.24 118.78L398.53 107.52M392.5 121.54L397.15 116.18M396.03 115.21A177.2 177.2 0 0 1 398.27 117.15M396.03 115.21L400.89 109.5M398.27 117.15L403.23 111.53M381.33 140.11L405.53 113.59M378.28 146.97L407.8 115.7M361.04 180.2L371.74 170.86M365.11 163.85A120.4 120.4 0 0 1 377.79 178.39M365.11 163.85L410.03 117.84M377.79 178.39L383.49 174.16M380.68 170.49A127.5 127.5 0 0 1 386.18 177.93M380.68 170.49L386.23 166.07M383.23 162.45A134.6 134.6 0 0 1 389.09 169.79M383.23 162.45L388.62 157.83M384.4 153.11A141.7 141.7 0 0 1 392.64 162.73M384.4 153.11L389.58 148.25M386.71 145.28A148.8 148.8 0 0 1 392.36 151.3M386.71 145.28L412.22 120.02M392.36 151.3L397.67 146.59M394.48 143.1A155.9 155.9 0 0 1 400.75 150.18M394.48 143.1L409.98 128.5M408.96 127.42A177.2 177.2 0 0 1 410.99 129.58M408.96 127.42L414.38 122.23M410.99 129.58L416.5 124.48M400.75 150.18L406.21 145.63M404.66 143.81A163 163 0 0 1 407.72 147.48M404.66 143.81L410.05 139.18M408.65 137.57A170.1 170.1 0 0 1 411.43 140.81M408.65 137.57L413.98 132.88M412.99 131.77A177.2 177.2 0 0 1 414.95 134M412.99 131.77L418.58 126.77M414.95 134L420.62 129.09M411.43 140.81L422.63 131.44M407.72 147.48L424.59 133.83M392.64 162.73L426.51 136.25M389.09 169.79L423.3 144.41M422.41 143.22A177.2 177.2 0 0 1 424.18 145.6M422.41 143.22L428.4 138.7M424.18 145.6L430.24 141.18M386.18 177.93L421.32 153.85M420.1 152.1A170.1 170.1 0 0 1 422.52 155.62M420.1 152.1L432.04 143.69M422.52 155.62L428.42 151.68M427.59 150.45A177.2 177.2 0 0 1 429.24 152.92M427.59 150.45L433.8 146.24M429.24 152.92L435.51 148.81" fill="none" stroke="#d25c7a" stroke-width="0.9"/>
<path d="M382.59 219.05L389.38 216.98M383.98 202.75A113.3 113.3 0 0 1 392.83 231.8M383.98 202.75L396.89 196.83M394.98 192.87A127.5 127.5 0 0 1 398.65 200.86M394.98 192.87L401.33 189.69M398.58 184.48A134.6 134.6 0 0 1 403.86 195.02M398.58 184.48L404.78 181.02M401.45 175.37A141.7 141.7 0 0 1 407.84 186.82M401.45 175.37L431.63 156.67M430.84 155.41A177.2 177.2 0 0 1 432.41 157.93M430.84 155.41L437.19 151.41M432.41 157.93L438.81 154.04M407.84 186.82L414.19 183.66M413.1 181.51A148.8 148.8 0 0 1 415.25 185.83M413.1 181.51L419.4 178.24M418.26 176.08A155.9 155.9 0 0 1 420.51 180.42M418.26 176.08L424.51 172.71M423.36 170.62A163 163 0 0 1 425.63 174.82M423.36 170.62L429.56 167.16M428.51 165.3A170.1 170.1 0 0 1 430.59 169.03M428.51 165.3L434.67 161.76M433.93 160.48A177.2 177.2 0 0 1 435.4 163.05M433.93 160.48L440.4 156.69M435.4 163.05L441.94 159.37M430.59 169.03L443.43 162.08M425.63 174.82L444.88 164.81M420.51 180.42L446.28 167.57M415.25 185.83L447.64 170.34M403.86 195.02L442.74 177.62M442.13 176.27A177.2 177.2 0 0 1 443.34 178.97M442.13 176.27L448.95 173.14M443.34 178.97L450.21 175.97M398.65 200.86L451.43 178.81M392.83 231.8L399.84 230.66M392.86 205.46A120.4 120.4 0 0 1 401.21 256.77M392.86 205.46L452.6 181.67M401.21 256.77L408.3 257.17M408.4 244.9A127.5 127.5 0 0 1 407.02 269.37M408.4 244.9L415.49 244.62M412.83 222.84A134.6 134.6 0 0 1 414.58 266.54M412.83 222.84L419.78 221.4M414.53 202.57A141.7 141.7 0 0 1 422.4 240.78M414.53 202.57L441.29 193.07M440.56 191.06A170.1 170.1 0 0 1 441.99 195.08M440.56 191.06L447.22 188.6M446.7 187.21A177.2 177.2 0 0 1 447.73 189.99M446.7 187.21L453.72 184.55M447.73 189.99L454.79 187.45M441.99 195.08L455.81 190.37M422.4 240.78L429.48 240.32M427.22 222.41A148.8 148.8 0 0 1 429.56 258.36M427.22 222.41L434.2 221.1M431.92 210.91A155.9 155.9 0 0 1 435.79 231.41M431.92 210.91L438.79 209.13M437.34 203.88A163 163 0 0 1 440.07 214.44M437.34 203.88L444.15 201.87M443.32 199.14A170.1 170.1 0 0 1 444.93 204.6M443.32 199.14L450.09 197.02M449.65 195.61A177.2 177.2 0 0 1 450.53 198.44M449.65 195.61L456.78 193.3M450.53 198.44L457.71 196.25M444.93 204.6L451.77 202.71M451.37 201.28A177.2 177.2 0 0 1 452.16 204.14M451.37 201.28L458.58 199.22M452.16 204.14L459.41 202.2M440.07 214.44L447 212.89M446.36 210.12A170.1 170.1 0 0 1 447.6 215.67M446.36 210.12L453.26 208.45M452.91 207.01A177.2 177.2 0 0 1 453.6 209.89M452.91 207.01L460.18 205.19M453.6 209.89L460.91 208.2M447.6 215.67L454.55 214.24M454.25 212.79A177.2 177.2 0 0 1 454.85 215.69M454.25 212.79L461.58 211.21M454.85 215.69L462.21 214.24M435.79 231.41L442.84 230.57M442.1 225.16A163 163 0 0 1 443.4 235.99M442.1 225.16L449.11 224.08M448.66 221.27A170.1 170.1 0 0 1 449.52 226.9M448.66 221.27L455.65 220.07M455.4 218.61A177.2 177.2 0 0 1 455.9 221.53M455.4 218.61L462.78 217.28M455.9 221.53L463.3 220.33M449.52 226.9L456.56 225.93M456.35 224.46A177.2 177.2 0 0 1 456.75 227.4M456.35 224.46L463.77 223.38M456.75 227.4L464.19 226.44M443.4 235.99L450.47 235.38M450.2 232.55A170.1 170.1 0 0 1 450.69 238.22M450.2 232.55L457.26 231.82M457.11 230.35A177.2 177.2 0 0 1 457.41 233.3M457.11 230.35L464.56 229.51M457.41 233.3L464.88 232.59M450.69 238.22L457.77 237.73M457.67 236.25A177.2 177.2 0 0 1 457.87 239.21M457.67 236.25L465.14 235.67M457.87 239.21L465.36 238.75M429.56 258.36L436.65 258.76M436.88 252.24A155.9 155.9 0 0 1 436.15 265.27M436.88 252.24L443.98 252.35M443.97 246.89A163 163 0 0 1 443.81 257.8M443.97 246.89L451.07 246.75M450.99 243.91A170.1 170.1 0 0 1 451.1 249.6M450.99 243.91L458.09 243.65M458.03 242.17A177.2 177.2 0 0 1 458.13 245.14M458.03 242.17L465.52 241.84M458.13 245.14L465.63 244.93M451.1 249.6L458.2 249.58M458.19 248.1A177.2 177.2 0 0 1 458.2 251.07M458.19 248.1L465.69 248.02M458.2 251.07L465.7 251.11M443.81 257.8L450.91 258.14M451.02 255.29A170.1 170.1 0 0 1 450.75 260.98M451.02 255.29L458.11 255.52M458.15 254.03A177.2 177.2 0 0 1 458.06 257M458.15 254.03L465.65 254.2M458.06 257L465.56 257.29M450.75 260.98L457.83 261.44M457.92 259.96A177.2 177.2 0 0 1 457.73 262.92M457.92 259.96L465.41 260.38M457.73 262.92L465.21 263.47M436.15 265.27L457.35 267.35M457.49 265.88A177.2 177.2 0 0 1 457.2 268.83M457.49 265.88L464.96 266.55M457.2 268.83L464.65 269.62M414.58 266.54L464.3 272.7M407.02 269.37L449.13 275.84M449.44 273.72A170.1 170.1 0 0 1 448.79 277.94M449.44 273.72L463.89 275.76M448.79 277.94L455.79 279.11M456.03 277.65A177.2 177.2 0 0 1 455.54 280.57M456.03 277.65L463.44 278.82M455.54 280.57L462.93 281.87" fill="none" stroke="#d36a9e" stroke-width="0.9"/>
<path d="M401.7 291.07L408.43 293.36M411.14 284.36A134.6 134.6 0 0 1 405.09 302.14M411.14 284.36L431.73 289.8M432.8 285.53A155.9 155.9 0 0 1 430.55 294.04M432.8 285.53L439.71 287.14M440.38 284.15A163 163 0 0 1 438.98 290.13M440.38 284.15L447.33 285.64M447.76 283.55A170.1 170.1 0 0 1 446.86 287.72M447.76 283.55L454.72 284.95M455.01 283.49A177.2 177.2 0 0 1 454.42 286.4M455.01 283.49L462.37 284.91M454.42 286.4L461.76 287.94M446.86 287.72L461.1 290.96M438.98 290.13L452.75 293.62M453.11 292.18A177.2 177.2 0 0 1 452.38 295.06M453.11 292.18L460.39 293.97M452.38 295.06L459.63 296.96M430.55 294.04L444.17 298.05M444.76 296A170.1 170.1 0 0 1 443.56 300.1M444.76 296L458.82 299.95M443.56 300.1L450.34 302.19M450.77 300.77A177.2 177.2 0 0 1 449.9 303.6M450.77 300.77L457.96 302.92M449.9 303.6L457.05 305.87M405.09 302.14L411.64 304.89M414.5 297.5A141.7 141.7 0 0 1 408.36 312.11M414.5 297.5L421.19 299.88M422.06 297.38A148.8 148.8 0 0 1 420.28 302.36M422.06 297.38L456.09 308.81M420.28 302.36L426.93 304.86M427.93 302.11A155.9 155.9 0 0 1 425.87 307.6M427.93 302.11L455.08 311.73M425.87 307.6L432.47 310.22M433.69 307.04A163 163 0 0 1 431.17 313.38M433.69 307.04L454.02 314.64M431.17 313.38L437.71 316.14M438.8 313.51A170.1 170.1 0 0 1 436.59 318.75M438.8 313.51L445.39 316.16M445.93 314.78A177.2 177.2 0 0 1 444.83 317.53M445.93 314.78L452.91 317.52M444.83 317.53L451.76 320.39M436.59 318.75L443.08 321.62M443.67 320.27A177.2 177.2 0 0 1 442.47 322.98M443.67 320.27L450.56 323.24M442.47 322.98L449.31 326.07M408.36 312.11L433.89 324.56M434.81 322.64A170.1 170.1 0 0 1 432.94 326.48M434.81 322.64L448.01 328.87M432.94 326.48L439.28 329.67M439.94 328.34A177.2 177.2 0 0 1 438.61 330.99M439.94 328.34L446.67 331.66M438.61 330.99L445.28 334.42" fill="none" stroke="#965b9e" stroke-width="0.9"/>
<path d="M397.83 316.84L416.32 327.42M417.83 324.71A155.9 155.9 0 0 1 414.75 330.09M417.83 324.71L436.53 334.92M437.23 333.62A177.2 177.2 0 0 1 435.81 336.22M437.23 333.62L443.84 337.16M435.81 336.22L442.36 339.87M414.75 330.09L420.84 333.74M422.06 331.68A163 163 0 0 1 419.6 335.78M422.06 331.68L440.83 342.56M419.6 335.78L425.64 339.52M426.75 337.69A170.1 170.1 0 0 1 424.51 341.32M426.75 337.69L439.26 345.22M424.51 341.32L430.5 345.14M431.29 343.88A177.2 177.2 0 0 1 429.69 346.38M431.29 343.88L437.65 347.86M429.69 346.38L435.99 350.46M396.32 332.34L407.87 340.6M409.65 338.06A155.9 155.9 0 0 1 406.05 343.1M409.65 338.06L427.23 350.09M428.06 348.86A177.2 177.2 0 0 1 426.38 351.31M428.06 348.86L434.28 353.04M426.38 351.31L432.54 355.6M406.05 343.1L411.74 347.34M413.16 345.41A163 163 0 0 1 410.3 349.24M413.16 345.41L430.75 358.12M410.3 349.24L415.94 353.57M417.23 351.86A170.1 170.1 0 0 1 414.63 355.25M417.23 351.86L428.92 360.61M414.63 355.25L420.2 359.65M421.12 358.48A177.2 177.2 0 0 1 419.28 360.81M421.12 358.48L427.05 363.07M419.28 360.81L425.13 365.5M240.44 316.39L196.02 389.1M198.95 390.85A163 163 0 0 1 193.13 387.29M198.95 390.85L188.03 409.6M193.13 387.29L189.31 393.27M191.72 394.78A170.1 170.1 0 0 1 186.92 391.71M191.72 394.78L187.99 400.83M189.26 401.6A177.2 177.2 0 0 1 186.73 400.04M189.26 401.6L185.37 408.02M186.73 400.04L182.74 406.39M186.92 391.71L182.99 397.63M184.23 398.45A177.2 177.2 0 0 1 181.76 396.8M184.23 398.45L180.14 404.73M181.76 396.8L177.56 403.02M227.33 315.78L213.86 332.29M217.9 335.42A106.2 106.2 0 0 1 209.98 328.96M217.9 335.42L179.93 386.81M182.23 388.49A170.1 170.1 0 0 1 177.65 385.1M182.23 388.49L178.11 394.27M179.32 395.12A177.2 177.2 0 0 1 176.9 393.4M179.32 395.12L175.01 401.27M176.9 393.4L172.5 399.47M177.65 385.1L173.34 390.74M174.52 391.64A177.2 177.2 0 0 1 172.16 389.84M174.52 391.64L170.01 397.63M172.16 389.84L167.56 395.76M209.98 328.96L205.24 334.24M209.19 337.64A113.3 113.3 0 0 1 201.45 330.67M209.19 337.64L168.69 387.06M169.84 388A177.2 177.2 0 0 1 167.54 386.12M169.84 388L165.13 393.84M167.54 386.12L162.74 391.88M201.45 330.67L196.46 335.73M201.05 340.02A120.4 120.4 0 0 1 192.11 331.2M201.05 340.02L172.76 371.87M174.55 373.44A163 163 0 0 1 170.98 370.27M174.55 373.44L160.38 389.88M170.98 370.27L166.19 375.51M167.78 376.94A170.1 170.1 0 0 1 164.63 374.06M167.78 376.94L158.06 387.84M164.63 374.06L159.77 379.24M160.85 380.25A177.2 177.2 0 0 1 158.69 378.22M160.85 380.25L155.77 385.76M158.69 378.22L153.51 383.65M192.11 331.2L186.86 335.99M190.33 339.64A127.5 127.5 0 0 1 183.54 332.21M190.33 339.64L160.04 369.59M161.55 371.1A170.1 170.1 0 0 1 158.55 368.06M161.55 371.1L151.3 381.49M158.55 368.06L153.43 372.99M154.47 374.05A177.2 177.2 0 0 1 152.41 371.92M154.47 374.05L149.11 379.31M152.41 371.92L146.97 377.08M183.54 332.21L178.11 336.79M181.79 340.96A134.6 134.6 0 0 1 174.62 332.46M181.79 340.96L144.86 374.82M174.62 332.46L169.01 336.81M174.97 344A141.7 141.7 0 0 1 163.53 329.25M174.97 344L142.79 372.52M163.53 329.25L157.65 333.22M166.02 344.45A148.8 148.8 0 0 1 150.37 321.25M166.02 344.45L155.04 353.46M157.23 356.07A163 163 0 0 1 152.91 350.8M157.23 356.07L140.76 370.19M152.91 350.8L147.33 355.19M149.11 357.41A170.1 170.1 0 0 1 145.58 352.94M149.11 357.41L143.6 361.9M144.54 363.04A177.2 177.2 0 0 1 142.67 360.74M144.54 363.04L138.77 367.83M142.67 360.74L136.81 365.43M145.58 352.94L139.93 357.24M140.83 358.41A177.2 177.2 0 0 1 139.04 356.05M140.83 358.41L134.9 363M139.04 356.05L133.03 360.54M150.37 321.25L144.14 324.65M149.44 333.64A155.9 155.9 0 0 1 139.45 315.33M149.44 333.64L143.44 337.45M146.45 342A163 163 0 0 1 140.59 332.8M146.45 342L140.59 346.01M142.21 348.35A170.1 170.1 0 0 1 139 343.65M142.21 348.35L136.42 352.45M137.28 353.66A177.2 177.2 0 0 1 135.57 351.24M137.28 353.66L131.2 358.05M135.57 351.24L129.41 355.53M139 343.65L133.07 347.56M133.89 348.79A177.2 177.2 0 0 1 132.26 346.32M133.89 348.79L127.67 352.97M132.26 346.32L125.97 350.39M140.59 332.8L134.48 336.4M135.95 338.84A170.1 170.1 0 0 1 133.05 333.94M135.95 338.84L129.89 342.55M130.67 343.81A177.2 177.2 0 0 1 129.12 341.28M130.67 343.81L124.31 347.78M129.12 341.28L122.69 345.15M133.05 333.94L126.88 337.44M127.62 338.73A177.2 177.2 0 0 1 126.15 336.15M127.62 338.73L121.12 342.48M126.15 336.15L119.6 339.8M139.45 315.33L133 318.3M135.37 323.22A163 163 0 0 1 130.8 313.31M135.37 323.22L129.03 326.41M130.33 328.94A170.1 170.1 0 0 1 127.77 323.85M130.33 328.94L124.04 332.24M124.73 333.55A177.2 177.2 0 0 1 123.35 330.92M124.73 333.55L118.12 337.08M123.35 330.92L116.68 334.34M127.77 323.85L121.37 326.94M122.02 328.27A177.2 177.2 0 0 1 120.73 325.6M122.02 328.27L115.29 331.58M120.73 325.6L113.95 328.8M130.8 313.31L124.26 316.07M125.38 318.68A170.1 170.1 0 0 1 123.17 313.44M125.38 318.68L118.89 321.55M119.49 322.9A177.2 177.2 0 0 1 118.29 320.19M119.49 322.9L112.66 325.99M118.29 320.19L111.41 323.16M123.17 313.44L116.58 316.08M117.14 317.46A177.2 177.2 0 0 1 116.04 314.71M117.14 317.46L110.21 320.31M116.04 314.71L109.05 317.44M183.52 267.87L106.7 281.95M106.98 283.41A177.2 177.2 0 0 1 106.44 280.49M106.98 283.41L99.61 284.82M106.44 280.49L99.06 281.78M175.8 264.54L126.57 271.35M127 274.25A155.9 155.9 0 0 1 126.19 268.44M127 274.25L98.55 278.73M126.19 268.44L119.14 269.28M119.58 272.66A163 163 0 0 1 118.78 265.89M119.58 272.66L98.09 275.68M118.78 265.89L111.71 266.58M112.01 269.41A170.1 170.1 0 0 1 111.46 263.74M112.01 269.41L104.96 270.22M105.13 271.69A177.2 177.2 0 0 1 104.79 268.75M105.13 271.69L97.69 272.61M104.79 268.75L97.34 269.54M111.46 263.74L104.38 264.32M104.51 265.79A177.2 177.2 0 0 1 104.27 262.84M104.51 265.79L97.04 266.46M104.27 262.84L96.79 263.38" fill="none" stroke="#bdbdbd" stroke-width="0.9"/>
<path d="M379.83 351.55L384.78 356.64M387.64 353.78A148.8 148.8 0 0 1 381.84 359.42M387.64 353.78L392.73 358.73M395.86 355.41A155.9 155.9 0 0 1 389.5 361.95M395.86 355.41L401.1 360.21M403.82 357.16A163 163 0 0 1 398.29 363.19M403.82 357.16L409.17 361.83M411.03 359.67A170.1 170.1 0 0 1 407.29 363.96M411.03 359.67L416.46 364.24M417.41 363.11A177.2 177.2 0 0 1 415.5 365.37M417.41 363.11L423.18 367.89M415.5 365.37L421.19 370.26M407.29 363.96L412.56 368.71M413.55 367.61A177.2 177.2 0 0 1 411.56 369.81M413.55 367.61L419.16 372.59M411.56 369.81L417.08 374.88M398.29 363.19L408.51 373.05M409.53 371.98A177.2 177.2 0 0 1 407.48 374.11M409.53 371.98L414.97 377.14M407.48 374.11L412.83 379.37M389.5 361.95L404.32 377.25M405.38 376.21A177.2 177.2 0 0 1 403.25 378.28M405.38 376.21L410.64 381.55M403.25 378.28L408.42 383.71M381.84 359.42L406.17 385.82" fill="none" stroke="#b46bb6" stroke-width="0.9"/>
<path d="M338.86 339.05L358.2 368.82M371.22 359.27A141.7 141.7 0 0 1 344.18 376.83M371.22 359.27L375.74 364.74M379.99 361.09A148.8 148.8 0 0 1 371.35 368.23M379.99 361.09L403.88 387.9M371.35 368.23L375.67 373.87M380.26 370.22A155.9 155.9 0 0 1 370.93 377.34M380.26 370.22L389.3 381.17M390.94 379.8A170.1 170.1 0 0 1 387.65 382.52M390.94 379.8L395.53 385.21M396.66 384.25A177.2 177.2 0 0 1 394.39 386.17M396.66 384.25L401.55 389.93M394.39 386.17L399.19 391.93M387.65 382.52L396.8 393.89M370.93 377.34L375.03 383.14M377.79 381.15A163 163 0 0 1 372.22 385.08M377.79 381.15L382.01 386.86M384.29 385.15A170.1 170.1 0 0 1 379.71 388.53M384.29 385.15L388.6 390.79M389.77 389.89A177.2 177.2 0 0 1 387.42 391.69M389.77 389.89L394.38 395.81M387.42 391.69L391.92 397.68M379.71 388.53L383.83 394.31M385.03 393.45A177.2 177.2 0 0 1 382.61 395.17M385.03 393.45L389.43 399.52M382.61 395.17L386.92 401.31M372.22 385.08L384.37 403.07M344.18 376.83L350.51 389.54M358.28 385.4A155.9 155.9 0 0 1 342.52 393.25M358.28 385.4L361.8 391.56M366.49 388.78A163 163 0 0 1 357.02 394.19M366.49 388.78L370.22 394.83M372.63 393.31A170.1 170.1 0 0 1 367.78 396.3M372.63 393.31L376.45 399.29M377.7 398.49A177.2 177.2 0 0 1 375.2 400.09M377.7 398.49L381.79 404.77M375.2 400.09L379.19 406.44M367.78 396.3L371.4 402.4M372.68 401.64A177.2 177.2 0 0 1 370.12 403.16M372.68 401.64L376.56 408.06M370.12 403.16L373.9 409.64M357.02 394.19L360.33 400.47M362.84 399.12A170.1 170.1 0 0 1 357.8 401.78M362.84 399.12L366.25 405.35M367.55 404.63A177.2 177.2 0 0 1 364.95 406.05M367.55 404.63L371.21 411.17M364.95 406.05L368.5 412.66M357.8 401.78L361 408.11M362.32 407.44A177.2 177.2 0 0 1 359.68 408.78M362.32 407.44L365.77 414.1M359.68 408.78L363.01 415.5M342.52 393.25L345.33 399.77M349.06 398.11A163 163 0 0 1 341.54 401.34M349.06 398.11L352.03 404.56M353.96 403.66A170.1 170.1 0 0 1 350.08 405.44M353.96 403.66L360.23 416.84M350.08 405.44L352.97 411.93M354.32 411.32A177.2 177.2 0 0 1 351.61 412.52M354.32 411.32L357.42 418.15M351.61 412.52L354.6 419.4M341.54 401.34L344.18 407.93M346.16 407.12A170.1 170.1 0 0 1 342.19 408.71M346.16 407.12L351.75 420.61M342.19 408.71L344.75 415.34M346.13 414.8A177.2 177.2 0 0 1 343.36 415.86M346.13 414.8L348.89 421.77M343.36 415.86L346 422.88" fill="none" stroke="#8888d2" stroke-width="0.9"/>
<path d="M310.38 359.42L315.91 379.99M324.66 377.32A134.6 134.6 0 0 1 307 382.07M324.66 377.32L336.18 410.9M338.19 410.2A170.1 170.1 0 0 1 334.15 411.58M338.19 410.2L343.1 423.95M334.15 411.58L336.37 418.33M337.78 417.86A177.2 177.2 0 0 1 334.96 418.78M337.78 417.86L340.18 424.96M334.96 418.78L337.24 425.93M307 382.07L308.37 389.03M320.75 386.01A141.7 141.7 0 0 1 295.76 390.93M320.75 386.01L330.7 420.09M332.13 419.66A177.2 177.2 0 0 1 329.28 420.5M332.13 419.66L334.29 426.85M329.28 420.5L331.32 427.71M295.76 390.93L296.5 397.99M303.3 397.12A148.8 148.8 0 0 1 289.68 398.55M303.3 397.12L304.36 404.14M312.07 402.77A155.9 155.9 0 0 1 296.59 405.12M312.07 402.77L313.48 409.73M318.81 408.55A163 163 0 0 1 308.12 410.73M318.81 408.55L320.46 415.46M323.22 414.78A170.1 170.1 0 0 1 317.68 416.1M323.22 414.78L324.98 421.65M326.42 421.28A177.2 177.2 0 0 1 323.55 422.02M326.42 421.28L328.34 428.53M323.55 422.02L325.35 429.3M317.68 416.1L319.21 423.03M320.66 422.7A177.2 177.2 0 0 1 317.77 423.34M320.66 422.7L322.34 430.01M317.77 423.34L319.32 430.68M308.12 410.73L309.3 417.73M312.1 417.23A170.1 170.1 0 0 1 306.49 418.18M312.1 417.23L313.4 424.21M314.86 423.94A177.2 177.2 0 0 1 311.94 424.48M314.86 423.94L316.29 431.3M311.94 424.48L313.25 431.86M306.49 418.18L307.55 425.2M309.02 424.97A177.2 177.2 0 0 1 306.09 425.42M309.02 424.97L310.2 432.38M306.09 425.42L307.15 432.84M296.59 405.12L298.02 419.25M300.85 418.94A170.1 170.1 0 0 1 295.18 419.51M300.85 418.94L301.67 425.99M303.15 425.81A177.2 177.2 0 0 1 300.2 426.16M303.15 425.81L304.08 433.25M300.2 426.16L301.01 433.61M295.18 419.51L295.77 426.58M297.25 426.45A177.2 177.2 0 0 1 294.29 426.7M297.25 426.45L297.94 433.92M294.29 426.7L294.86 434.18M289.68 398.55L291.77 434.39" fill="none" stroke="#87bae0" stroke-width="0.9"/>
<path d="M269.38 362.7L267.92 376.83M279.24 377.49A127.5 127.5 0 0 1 256.71 375.17M279.24 377.49L278.84 405.89M285.53 405.83A155.9 155.9 0 0 1 272.16 405.65M285.53 405.83L285.94 420.03M288.08 419.95A170.1 170.1 0 0 1 283.81 420.08M288.08 419.95L288.68 434.54M283.81 420.08L283.93 427.18M285.41 427.15A177.2 177.2 0 0 1 282.44 427.19M285.41 427.15L285.59 434.64M282.44 427.19L282.5 434.69M272.16 405.65L271.76 412.74M276.19 412.93A163 163 0 0 1 267.34 412.43M276.19 412.93L275.98 420.03M278.11 420.08A170.1 170.1 0 0 1 273.85 419.95M278.11 420.08L277.99 427.17M279.48 427.19A177.2 177.2 0 0 1 276.51 427.14M279.48 427.19L279.41 434.69M276.51 427.14L276.32 434.64M273.85 419.95L273.23 434.54M267.34 412.43L266.74 419.5M269.58 419.72A170.1 170.1 0 0 1 263.91 419.24M269.58 419.72L269.1 426.8M270.58 426.89A177.2 177.2 0 0 1 267.63 426.69M270.58 426.89L270.14 434.38M267.63 426.69L267.06 434.17M263.91 419.24L263.19 426.3M264.67 426.45A177.2 177.2 0 0 1 261.72 426.15M264.67 426.45L263.98 433.91M261.72 426.15L260.9 433.6M256.71 375.17L255.36 382.14M262.44 383.31A134.6 134.6 0 0 1 248.35 380.58M262.44 383.31L257.55 418.48M259.66 418.76A170.1 170.1 0 0 1 255.43 418.17M259.66 418.76L257.83 433.24M255.43 418.17L254.37 425.19M255.83 425.4A177.2 177.2 0 0 1 252.9 424.96M255.83 425.4L254.77 432.83M252.9 424.96L251.71 432.36M248.35 380.58L246.63 387.47M256.19 389.51A141.7 141.7 0 0 1 237.22 384.77M256.19 389.51L248.66 431.85M237.22 384.77L235.03 391.52M246.27 394.69A148.8 148.8 0 0 1 224.08 387.48M246.27 394.69L244.61 401.59M248.27 402.42A155.9 155.9 0 0 1 240.97 400.67M248.27 402.42L246.77 409.37M249.78 409.98A163 163 0 0 1 243.78 408.69M249.78 409.98L245.63 431.28M243.78 408.69L242.16 415.61M244.24 416.08A170.1 170.1 0 0 1 240.08 415.11M244.24 416.08L242.71 423.01M244.16 423.33A177.2 177.2 0 0 1 241.26 422.69M244.16 423.33L242.6 430.66M241.26 422.69L239.58 430M240.08 415.11L236.57 429.28M240.97 400.67L233.58 428.51M224.08 387.48L221.36 394.04M230.05 397.34A155.9 155.9 0 0 1 212.89 390.23M230.05 397.34L227.73 404.05M232.59 405.65A163 163 0 0 1 222.93 402.3M232.59 405.65L230.49 412.43M233.21 413.25A170.1 170.1 0 0 1 227.77 411.56M233.21 413.25L231.22 420.06M232.64 420.47A177.2 177.2 0 0 1 229.8 419.64M232.64 420.47L230.6 427.69M229.8 419.64L227.63 426.82M227.77 411.56L225.55 418.3M226.96 418.76A177.2 177.2 0 0 1 224.15 417.83M226.96 418.76L224.68 425.9M224.15 417.83L221.74 424.94M222.93 402.3L220.4 408.94M222.4 409.69A170.1 170.1 0 0 1 218.41 408.16M222.4 409.69L219.95 416.35M221.35 416.86A177.2 177.2 0 0 1 218.56 415.83M221.35 416.86L218.82 423.92M218.56 415.83L215.92 422.85M218.41 408.16L213.03 421.74M212.89 390.23L209.78 396.62M214.73 398.92A163 163 0 0 1 204.92 394.15M214.73 398.92L211.85 405.41M214.46 406.54A170.1 170.1 0 0 1 209.25 404.23M214.46 406.54L211.68 413.08M213.05 413.65A177.2 177.2 0 0 1 210.32 412.49M213.05 413.65L210.17 420.58M210.32 412.49L207.32 419.37M209.25 404.23L206.26 410.67M207.61 411.29A177.2 177.2 0 0 1 204.92 410.04M207.61 411.29L204.5 418.11M204.92 410.04L201.7 416.81M204.92 394.15L201.6 400.43M204.13 401.74A170.1 170.1 0 0 1 199.1 399.08M204.13 401.74L200.92 408.07M202.25 408.74A177.2 177.2 0 0 1 199.6 407.4M202.25 408.74L198.92 415.46M199.6 407.4L196.16 414.06M199.1 399.08L195.68 405.31M196.98 406.01A177.2 177.2 0 0 1 194.38 404.59M196.98 406.01L193.42 412.62M194.38 404.59L190.71 411.13" fill="none" stroke="#4687c2" stroke-width="0.9"/>
<path d="M193.25 277.65L139.08 294.72M141.59 302.01A148.8 148.8 0 0 1 136.96 287.32M141.59 302.01L107.95 314.56M136.96 287.32L130.08 289.1M131.71 294.91A155.9 155.9 0 0 1 128.68 283.23M131.71 294.91L124.91 296.95M126.24 301.18A163 163 0 0 1 123.69 292.69M126.24 301.18L119.5 303.41M120.19 305.43A170.1 170.1 0 0 1 118.85 301.38M120.19 305.43L113.47 307.75M113.96 309.15A177.2 177.2 0 0 1 113 306.34M113.96 309.15L106.89 311.65M113 306.34L105.89 308.73M118.85 301.38L104.93 305.79M123.69 292.69L116.84 294.55M117.61 297.29A170.1 170.1 0 0 1 116.12 291.8M117.61 297.29L110.79 299.27M111.2 300.69A177.2 177.2 0 0 1 110.38 297.84M111.2 300.69L104.02 302.84M110.38 297.84L103.16 299.87M116.12 291.8L109.23 293.54M109.6 294.98A177.2 177.2 0 0 1 108.87 292.1M109.6 294.98L102.35 296.88M108.87 292.1L101.59 293.89M128.68 283.23L107.87 287.77M108.19 289.22A177.2 177.2 0 0 1 107.56 286.32M108.19 289.22L100.88 290.88M107.56 286.32L100.22 287.86" fill="none" stroke="#3d86b5" stroke-width="0.9"/>
<path d="M174.81 251.28L167.71 251.36M167.88 256.32A113.3 113.3 0 0 1 167.76 246.41M167.88 256.32L96.59 260.3M167.76 246.41L160.66 246.18M160.64 252.94A120.4 120.4 0 0 1 161.06 239.44M160.64 252.94L118.05 253.98M118.12 256.36A163 163 0 0 1 118.01 251.59M118.12 256.36L96.44 257.21M118.01 251.59L110.91 251.66M110.94 253.79A170.1 170.1 0 0 1 110.9 249.52M110.94 253.79L96.35 254.12M110.9 249.52L103.8 249.5M103.8 250.99A177.2 177.2 0 0 1 103.81 248.02M103.8 250.99L96.3 251.03M103.81 248.02L96.31 247.94M161.06 239.44L153.99 238.82M153.55 246.44A127.5 127.5 0 0 1 154.89 231.24M153.55 246.44L96.37 244.85M154.89 231.24L147.87 230.19M146.53 243.99A134.6 134.6 0 0 1 150.61 216.6M146.53 243.99L96.48 241.76M150.61 216.6L143.73 214.84M141.45 225.42A141.7 141.7 0 0 1 146.81 204.47M141.45 225.42L134.46 224.19M133.13 233.43A148.8 148.8 0 0 1 136.36 215.04M133.13 233.43L126.07 232.64M125.48 239.13A155.9 155.9 0 0 1 126.93 226.17M125.48 239.13L104.23 237.65M104.13 239.13A177.2 177.2 0 0 1 104.34 236.17M104.13 239.13L96.65 238.67M104.34 236.17L96.86 235.58M126.93 226.17L119.92 225.09M119.17 230.49A163 163 0 0 1 120.84 219.71M119.17 230.49L112.12 229.64M111.81 232.47A170.1 170.1 0 0 1 112.49 226.82M111.81 232.47L104.74 231.74M104.6 233.22A177.2 177.2 0 0 1 104.9 230.27M104.6 233.22L97.13 232.51M104.9 230.27L97.45 229.43M112.49 226.82L105.45 225.85M105.26 227.32A177.2 177.2 0 0 1 105.66 224.38M105.26 227.32L97.82 226.36M105.66 224.38L98.24 223.3M120.84 219.71L113.86 218.39M113.36 221.19A170.1 170.1 0 0 1 114.42 215.6M113.36 221.19L106.36 219.99M106.11 221.45A177.2 177.2 0 0 1 106.62 218.53M106.11 221.45L98.71 220.24M106.62 218.53L99.24 217.2M114.42 215.6L107.46 214.16M107.17 215.61A177.2 177.2 0 0 1 107.77 212.71M107.17 215.61L99.81 214.16M107.77 212.71L100.44 211.13M136.36 215.04L108.76 208.37M108.42 209.82A177.2 177.2 0 0 1 109.11 206.93M108.42 209.82L101.11 208.11M109.11 206.93L101.84 205.11M146.81 204.47L133.37 199.91M132.45 202.7A155.9 155.9 0 0 1 134.34 197.14M132.45 202.7L125.68 200.54M124.68 203.8A163 163 0 0 1 126.75 197.31M124.68 203.8L117.87 201.79M117.09 204.53A170.1 170.1 0 0 1 118.7 199.07M117.09 204.53L110.25 202.63M109.86 204.06A177.2 177.2 0 0 1 110.65 201.2M109.86 204.06L102.61 202.12M110.65 201.2L103.44 199.14M118.7 199.07L111.93 196.94M111.49 198.36A177.2 177.2 0 0 1 112.38 195.53M111.49 198.36L104.32 196.17M112.38 195.53L105.24 193.22M126.75 197.31L106.22 190.29M134.34 197.14L107.24 187.37" fill="none" stroke="#1e959d" stroke-width="0.9"/>
<g font-family="'Liberation Serif',serif" font-weight="bold" font-size="4.1" fill="#0c0c0c" lengthAdjust="spacingAndGlyphs">
<text transform="translate(112.45 153.55) rotate(29.78)" text-anchor="end" dy="1.3" textLength="19" lengthAdjust="spacingAndGlyphs">AT5G34480</text>
<text transform="translate(114.08 150.74) rotate(30.74)" text-anchor="end" dy="1.3" textLength="19" lengthAdjust="spacingAndGlyphs">AT3G70470</text>
<text transform="translate(115.77 147.96) rotate(31.7)" text-anchor="end" dy="1.3" textLength="19" lengthAdjust="spacingAndGlyphs">AT1G62030</text>
<text transform="translate(117.5 145.21) rotate(32.66)" text-anchor="end" dy="1.3" textLength="19" lengthAdjust="spacingAndGlyphs">AT2G07790</text>
<text transform="translate(119.28 142.49) rotate(33.62)" text-anchor="end" dy="1.3" textLength="19" lengthAdjust="spacingAndGlyphs">AT2G15830</text>
<text transform="translate(121.1 139.8) rotate(34.57)" text-anchor="end" dy="1.3" textLength="19" lengthAdjust="spacingAndGlyphs">AT3G62480</text>
<text transform="translate(122.96 137.13) rotate(35.53)" text-anchor="end" dy="1.3" textLength="19" lengthAdjust="spacingAndGlyphs">AT2G50900</text>
<text transform="translate(124.88 134.51) rotate(36.49)" text-anchor="end" dy="1.3" textLength="19" lengthAdjust="spacingAndGlyphs">AT5G14360</text>
<text transform="translate(126.83 131.91) rotate(37.45)" text-anchor="end" dy="1.3" textLength="19" lengthAdjust="spacingAndGlyphs">AT5G33680</text>
<text transform="translate(128.83 129.34) rotate(38.41)" text-anchor="end" dy="1.3" textLength="19" lengthAdjust="spacingAndGlyphs">AT1G29400</text>
<text transform="translate(130.87 126.81) rotate(39.37)" text-anchor="end" dy="1.3" textLength="19" lengthAdjust="spacingAndGlyphs">AT2G52040</text>
<text transform="translate(132.95 124.32) rotate(40.33)" text-anchor="end" dy="1.3" textLength="19" lengthAdjust="spacingAndGlyphs">AT1G19180</text>
<text transform="translate(135.08 121.86) rotate(41.29)" text-anchor="end" dy="1.3" textLength="19" lengthAdjust="spacingAndGlyphs">AT2G01230</text>
<text transform="translate(137.24 119.43) rotate(42.25)" text-anchor="end" dy="1.3" textLength="32.96" lengthAdjust="spacingAndGlyphs">LOC Os01g28453</text>
<text transform="translate(139.45 117.05) rotate(43.21)" text-anchor="end" dy="1.3" textLength="32.85" lengthAdjust="spacingAndGlyphs">LOC Os04g22739</text>
<text transform="translate(141.69 114.7) rotate(44.16)" text-anchor="end" dy="1.3" textLength="16.88" lengthAdjust="spacingAndGlyphs">ZmNAC 75</text>
<text transform="translate(143.98 112.38) rotate(45.12)" text-anchor="end" dy="1.3" textLength="17.32" lengthAdjust="spacingAndGlyphs">ZmNAC 51</text>
<text transform="translate(146.3 110.11) rotate(46.08)" text-anchor="end" dy="1.3" textLength="16.8" lengthAdjust="spacingAndGlyphs">ZmNAC 53</text>
<text transform="translate(148.66 107.87) rotate(47.04)" text-anchor="end" dy="1.3" textLength="17.1" lengthAdjust="spacingAndGlyphs">ZmNAC 51</text>
<text transform="translate(151.06 105.68) rotate(48)" text-anchor="end" dy="1.3" textLength="17.34" lengthAdjust="spacingAndGlyphs">ZmNAC 99</text>
<text transform="translate(153.49 103.52) rotate(48.96)" text-anchor="end" dy="1.3" textLength="16.85" lengthAdjust="spacingAndGlyphs">ZmNAC 93</text>
<text transform="translate(155.96 101.41) rotate(49.92)" text-anchor="end" dy="1.3" textLength="33.07" lengthAdjust="spacingAndGlyphs">LOC Os07g22752</text>
<text transform="translate(158.46 99.34) rotate(50.88)" text-anchor="end" dy="1.3" textLength="17.17" lengthAdjust="spacingAndGlyphs">ZmNAC 68</text>
<text transform="translate(161 97.31) rotate(51.84)" text-anchor="end" dy="1.3" textLength="16.82" lengthAdjust="spacingAndGlyphs">ZmNAC 78</text>
<text transform="translate(163.58 95.32) rotate(52.8)" text-anchor="end" dy="1.3" textLength="19" lengthAdjust="spacingAndGlyphs">AT5G45280</text>
<text transform="translate(166.18 93.38) rotate(53.75)" text-anchor="end" dy="1.3" textLength="19.5" lengthAdjust="spacingAndGlyphs">AT3G41110</text>
<text transform="translate(168.82 91.48) rotate(54.71)" text-anchor="end" dy="1.3" textLength="19.5" lengthAdjust="spacingAndGlyphs">AT3G25210</text>
<text transform="translate(171.49 89.62) rotate(55.67)" text-anchor="end" dy="1.3" textLength="32.85" lengthAdjust="spacingAndGlyphs">LOC Os08g62936</text>
<text transform="translate(174.19 87.81) rotate(56.63)" text-anchor="end" dy="1.3" textLength="17.72" lengthAdjust="spacingAndGlyphs">ZmNAC 15</text>
<text transform="translate(176.92 86.05) rotate(57.59)" text-anchor="end" dy="1.3" textLength="15.97" lengthAdjust="spacingAndGlyphs">ZmNAC 6</text>
<text transform="translate(179.68 84.33) rotate(58.55)" text-anchor="end" dy="1.3" textLength="19.5" lengthAdjust="spacingAndGlyphs">AT4G03360</text>
<text transform="translate(182.46 82.66) rotate(59.51)" text-anchor="end" dy="1.3" textLength="19.5" lengthAdjust="spacingAndGlyphs">AT4G76820</text>
<text transform="translate(185.28 81.03) rotate(60.47)" text-anchor="end" dy="1.3" textLength="33.27" lengthAdjust="spacingAndGlyphs">LOC Os01g60352</text>
<text transform="translate(188.12 79.45) rotate(61.43)" text-anchor="end" dy="1.3" textLength="19.5" lengthAdjust="spacingAndGlyphs">AT2G26750</text>
<text transform="translate(190.99 77.92) rotate(62.39)" text-anchor="end" dy="1.3" textLength="19.5" lengthAdjust="spacingAndGlyphs">AT2G61580</text>
<text transform="translate(193.88 76.44) rotate(63.35)" text-anchor="end" dy="1.3" textLength="19.5" lengthAdjust="spacingAndGlyphs">AT3G69770</text>
<text transform="translate(196.8 75) rotate(64.3)" text-anchor="end" dy="1.3" textLength="32.59" lengthAdjust="spacingAndGlyphs">LOC Os05g61666</text>
<text transform="translate(199.74 73.62) rotate(65.26)" text-anchor="end" dy="1.3" textLength="19.5" lengthAdjust="spacingAndGlyphs">AT3G39770</text>
<text transform="translate(202.7 72.28) rotate(66.22)" text-anchor="end" dy="1.3" textLength="19.5" lengthAdjust="spacingAndGlyphs">AT1G28320</text>
<text transform="translate(205.69 71) rotate(67.18)" text-anchor="end" dy="1.3" textLength="32.69" lengthAdjust="spacingAndGlyphs">LOC Os06g68224</text>
<text transform="translate(208.69 69.76) rotate(68.14)" text-anchor="end" dy="1.3" textLength="32.53" lengthAdjust="spacingAndGlyphs">LOC Os10g48530</text>
<text transform="translate(211.72 68.58) rotate(69.1)" text-anchor="end" dy="1.3" textLength="17.6" lengthAdjust="spacingAndGlyphs">ZmNAC 88</text>
<text transform="translate(214.77 67.44) rotate(70.06)" text-anchor="end" dy="1.3" textLength="17.85" lengthAdjust="spacingAndGlyphs">ZmNAC 24</text>
<text transform="translate(217.83 66.36) rotate(71.02)" text-anchor="end" dy="1.3" textLength="17.65" lengthAdjust="spacingAndGlyphs">ZmNAC 82</text>
<text transform="translate(220.91 65.33) rotate(71.98)" text-anchor="end" dy="1.3" textLength="17.76" lengthAdjust="spacingAndGlyphs">ZmNAC 21</text>
<text transform="translate(224.01 64.35) rotate(72.94)" text-anchor="end" dy="1.3" textLength="32.86" lengthAdjust="spacingAndGlyphs">LOC Os11g20512</text>
<text transform="translate(227.13 63.42) rotate(73.89)" text-anchor="end" dy="1.3" textLength="33.3" lengthAdjust="spacingAndGlyphs">LOC Os12g41541</text>
<text transform="translate(230.26 62.55) rotate(74.85)" text-anchor="end" dy="1.3" textLength="17.36" lengthAdjust="spacingAndGlyphs">ZmNAC 42</text>
<text transform="translate(233.4 61.72) rotate(75.81)" text-anchor="end" dy="1.3" textLength="19.5" lengthAdjust="spacingAndGlyphs">AT5G70930</text>
<text transform="translate(236.56 60.95) rotate(76.77)" text-anchor="end" dy="1.3" textLength="19.5" lengthAdjust="spacingAndGlyphs">AT5G46060</text>
<text transform="translate(239.73 60.24) rotate(77.73)" text-anchor="end" dy="1.3" textLength="19.57" lengthAdjust="spacingAndGlyphs">ZmNAC 117</text>
<text transform="translate(242.91 59.57) rotate(78.69)" text-anchor="end" dy="1.3" textLength="20" lengthAdjust="spacingAndGlyphs">AT1G65690</text>
<text transform="translate(246.1 58.96) rotate(79.65)" text-anchor="end" dy="1.3" textLength="33.21" lengthAdjust="spacingAndGlyphs">LOC Os06g28139</text>
<text transform="translate(249.31 58.4) rotate(80.61)" text-anchor="end" dy="1.3" textLength="33.27" lengthAdjust="spacingAndGlyphs">LOC Os03g18403</text>
<text transform="translate(252.52 57.9) rotate(81.57)" text-anchor="end" dy="1.3" textLength="19.65" lengthAdjust="spacingAndGlyphs">ZmNAC 106</text>
<text transform="translate(255.74 57.45) rotate(82.53)" text-anchor="end" dy="1.3" textLength="19.45" lengthAdjust="spacingAndGlyphs">ZmNAC 112</text>
<text transform="translate(258.96 57.05) rotate(83.48)" text-anchor="end" dy="1.3" textLength="17.96" lengthAdjust="spacingAndGlyphs">ZmNAC 16</text>
<text transform="translate(262.2 56.71) rotate(84.44)" text-anchor="end" dy="1.3" textLength="32.65" lengthAdjust="spacingAndGlyphs">LOC Os07g39641</text>
<text transform="translate(265.43 56.42) rotate(85.4)" text-anchor="end" dy="1.3" textLength="32.74" lengthAdjust="spacingAndGlyphs">LOC Os03g60395</text>
<text transform="translate(268.68 56.19) rotate(86.36)" text-anchor="end" dy="1.3" textLength="18.29" lengthAdjust="spacingAndGlyphs">ZmNAC 44</text>
<text transform="translate(271.92 56.01) rotate(87.32)" text-anchor="end" dy="1.3" textLength="20" lengthAdjust="spacingAndGlyphs">AT4G42640</text>
<text transform="translate(275.17 55.89) rotate(88.28)" text-anchor="end" dy="1.3" textLength="20" lengthAdjust="spacingAndGlyphs">AT3G62610</text>
<text transform="translate(278.42 55.82) rotate(89.24)" text-anchor="end" dy="1.3" textLength="20" lengthAdjust="spacingAndGlyphs">AT2G15750</text>
<text transform="translate(281.67 55.8) rotate(270.2)" dy="1.3" textLength="20" lengthAdjust="spacingAndGlyphs">AT5G24510</text>
<text transform="translate(284.92 55.84) rotate(271.16)" dy="1.3" textLength="32.64" lengthAdjust="spacingAndGlyphs">LOC Os11g66447</text>
<text transform="translate(288.17 55.93) rotate(272.12)" dy="1.3" textLength="33.46" lengthAdjust="spacingAndGlyphs">LOC Os06g24608</text>
<text transform="translate(291.42 56.08) rotate(273.07)" dy="1.3" textLength="20" lengthAdjust="spacingAndGlyphs">AT3G68520</text>
<text transform="translate(294.66 56.28) rotate(274.03)" dy="1.3" textLength="18.33" lengthAdjust="spacingAndGlyphs">ZmNAC 93</text>
<text transform="translate(297.9 56.54) rotate(274.99)" dy="1.3" textLength="32.47" lengthAdjust="spacingAndGlyphs">LOC Os02g47622</text>
<text transform="translate(301.14 56.85) rotate(275.95)" dy="1.3" textLength="32.85" lengthAdjust="spacingAndGlyphs">LOC Os12g05498</text>
<text transform="translate(304.37 57.21) rotate(276.91)" dy="1.3" textLength="32.99" lengthAdjust="spacingAndGlyphs">LOC Os05g48635</text>
<text transform="translate(307.59 57.63) rotate(277.87)" dy="1.3" textLength="20" lengthAdjust="spacingAndGlyphs">AT3G64650</text>
<text transform="translate(310.81 58.1) rotate(278.83)" dy="1.3" textLength="32.43" lengthAdjust="spacingAndGlyphs">LOC Os05g39515</text>
<text transform="translate(314.01 58.63) rotate(279.79)" dy="1.3" textLength="32.91" lengthAdjust="spacingAndGlyphs">LOC Os06g24415</text>
<text transform="translate(317.21 59.21) rotate(280.75)" dy="1.3" textLength="20" lengthAdjust="spacingAndGlyphs">AT1G63160</text>
<text transform="translate(320.4 59.84) rotate(281.71)" dy="1.3" textLength="20" lengthAdjust="spacingAndGlyphs">AT3G61670</text>
<text transform="translate(323.58 60.52) rotate(282.66)" dy="1.3" textLength="20" lengthAdjust="spacingAndGlyphs">AT5G47730</text>
<text transform="translate(326.74 61.26) rotate(283.62)" dy="1.3" textLength="20" lengthAdjust="spacingAndGlyphs">AT3G54530</text>
<text transform="translate(329.9 62.06) rotate(284.58)" dy="1.3" textLength="33.49" lengthAdjust="spacingAndGlyphs">LOC Os06g23606</text>
<text transform="translate(333.03 62.9) rotate(285.54)" dy="1.3" textLength="32.53" lengthAdjust="spacingAndGlyphs">LOC Os12g59954</text>
<text transform="translate(336.16 63.8) rotate(286.5)" dy="1.3" textLength="33.12" lengthAdjust="spacingAndGlyphs">LOC Os06g44822</text>
<text transform="translate(339.27 64.75) rotate(287.46)" dy="1.3" textLength="20" lengthAdjust="spacingAndGlyphs">AT5G22780</text>
<text transform="translate(342.36 65.75) rotate(288.42)" dy="1.3" textLength="20" lengthAdjust="spacingAndGlyphs">AT3G63550</text>
<text transform="translate(345.43 66.8) rotate(289.38)" dy="1.3" textLength="32.55" lengthAdjust="spacingAndGlyphs">LOC Os05g11333</text>
<text transform="translate(348.49 67.91) rotate(290.34)" dy="1.3" textLength="19.75" lengthAdjust="spacingAndGlyphs">ZmNAC 107</text>
<text transform="translate(351.53 69.06) rotate(291.3)" dy="1.3" textLength="19.94" lengthAdjust="spacingAndGlyphs">ZmNAC 108</text>
<text transform="translate(354.55 70.27) rotate(292.25)" dy="1.3" textLength="17.92" lengthAdjust="spacingAndGlyphs">ZmNAC 70</text>
<text transform="translate(357.55 71.52) rotate(293.21)" dy="1.3" textLength="32.41" lengthAdjust="spacingAndGlyphs">LOC Os12g04620</text>
<text transform="translate(360.52 72.83) rotate(294.17)" dy="1.3" textLength="32.5" lengthAdjust="spacingAndGlyphs">LOC Os04g21974</text>
<text transform="translate(363.48 74.18) rotate(295.13)" dy="1.3" textLength="20" lengthAdjust="spacingAndGlyphs">AT5G24690</text>
<text transform="translate(366.41 75.59) rotate(296.09)" dy="1.3" textLength="20" lengthAdjust="spacingAndGlyphs">AT2G06480</text>
<text transform="translate(369.32 77.04) rotate(297.05)" dy="1.3" textLength="18.12" lengthAdjust="spacingAndGlyphs">ZmNAC 43</text>
<text transform="translate(372.2 78.55) rotate(298.01)" dy="1.3" textLength="32.42" lengthAdjust="spacingAndGlyphs">LOC Os01g18501</text>
<text transform="translate(375.06 80.1) rotate(298.97)" dy="1.3" textLength="32.5" lengthAdjust="spacingAndGlyphs">LOC Os02g42595</text>
<text transform="translate(377.89 81.69) rotate(299.93)" dy="1.3" textLength="19.7" lengthAdjust="spacingAndGlyphs">ZmNAC 124</text>
<text transform="translate(380.69 83.34) rotate(300.89)" dy="1.3" textLength="18.35" lengthAdjust="spacingAndGlyphs">ZmNAC 10</text>
<text transform="translate(383.46 85.03) rotate(301.85)" dy="1.3" textLength="18.05" lengthAdjust="spacingAndGlyphs">ZmNAC 90</text>
<text transform="translate(386.21 86.77) rotate(302.8)" dy="1.3" textLength="20" lengthAdjust="spacingAndGlyphs">AT5G10430</text>
<text transform="translate(388.93 88.55) rotate(303.76)" dy="1.3" textLength="20" lengthAdjust="spacingAndGlyphs">AT3G01080</text>
<text transform="translate(391.62 90.38) rotate(304.72)" dy="1.3" textLength="32.88" lengthAdjust="spacingAndGlyphs">LOC Os06g54133</text>
<text transform="translate(394.27 92.26) rotate(305.68)" dy="1.3" textLength="33.17" lengthAdjust="spacingAndGlyphs">LOC Os05g54745</text>
<text transform="translate(396.9 94.17) rotate(306.64)" dy="1.3" textLength="17.86" lengthAdjust="spacingAndGlyphs">ZmNAC 96</text>
<text transform="translate(399.49 96.14) rotate(307.6)" dy="1.3" textLength="20" lengthAdjust="spacingAndGlyphs">AT3G13420</text>
<text transform="translate(402.05 98.14) rotate(308.56)" dy="1.3" textLength="33.1" lengthAdjust="spacingAndGlyphs">LOC Os05g68193</text>
<text transform="translate(404.57 100.19) rotate(309.52)" dy="1.3" textLength="32.61" lengthAdjust="spacingAndGlyphs">LOC Os06g39429</text>
<text transform="translate(407.06 102.28) rotate(310.48)" dy="1.3" textLength="33.13" lengthAdjust="spacingAndGlyphs">LOC Os06g17929</text>
<text transform="translate(409.52 104.41) rotate(311.44)" dy="1.3" textLength="20" lengthAdjust="spacingAndGlyphs">AT5G71560</text>
<text transform="translate(411.94 106.58) rotate(312.39)" dy="1.3" textLength="20" lengthAdjust="spacingAndGlyphs">AT2G21540</text>
<text transform="translate(414.32 108.79) rotate(313.35)" dy="1.3" textLength="20" lengthAdjust="spacingAndGlyphs">AT2G18430</text>
<text transform="translate(416.66 111.04) rotate(314.31)" dy="1.3" textLength="33.55" lengthAdjust="spacingAndGlyphs">LOC Os10g12905</text>
<text transform="translate(418.97 113.33) rotate(315.27)" dy="1.3" textLength="32.47" lengthAdjust="spacingAndGlyphs">LOC Os06g01124</text>
<text transform="translate(421.24 115.66) rotate(316.23)" dy="1.3" textLength="20" lengthAdjust="spacingAndGlyphs">AT3G75160</text>
<text transform="translate(423.47 118.03) rotate(317.19)" dy="1.3" textLength="20" lengthAdjust="spacingAndGlyphs">AT3G74960</text>
<text transform="translate(425.65 120.43) rotate(318.15)" dy="1.3" textLength="33.07" lengthAdjust="spacingAndGlyphs">LOC Os07g57256</text>
<text transform="translate(427.8 122.87) rotate(319.11)" dy="1.3" textLength="33.13" lengthAdjust="spacingAndGlyphs">LOC Os07g30666</text>
<text transform="translate(429.91 125.34) rotate(320.07)" dy="1.3" textLength="20" lengthAdjust="spacingAndGlyphs">AT4G50770</text>
<text transform="translate(431.98 127.85) rotate(321.03)" dy="1.3" textLength="20" lengthAdjust="spacingAndGlyphs">AT2G79090</text>
<text transform="translate(434 130.4) rotate(321.98)" dy="1.3" textLength="17.89" lengthAdjust="spacingAndGlyphs">ZmNAC 78</text>
<text transform="translate(435.98 132.97) rotate(322.94)" dy="1.3" textLength="32.72" lengthAdjust="spacingAndGlyphs">LOC Os08g33908</text>
<text transform="translate(437.92 135.58) rotate(323.9)" dy="1.3" textLength="33.59" lengthAdjust="spacingAndGlyphs">LOC Os07g03578</text>
<text transform="translate(439.81 138.23) rotate(324.86)" dy="1.3" textLength="33.6" lengthAdjust="spacingAndGlyphs">LOC Os06g41303</text>
<text transform="translate(441.66 140.9) rotate(325.82)" dy="1.3" textLength="20" lengthAdjust="spacingAndGlyphs">AT3G19780</text>
<text transform="translate(443.46 143.61) rotate(326.78)" dy="1.3" textLength="20" lengthAdjust="spacingAndGlyphs">AT1G59120</text>
<text transform="translate(445.22 146.34) rotate(327.74)" dy="1.3" textLength="19" lengthAdjust="spacingAndGlyphs">AT1G18880</text>
<text transform="translate(446.93 149.1) rotate(328.7)" dy="1.3" textLength="32.55" lengthAdjust="spacingAndGlyphs">LOC Os07g02730</text>
<text transform="translate(448.6 151.89) rotate(329.66)" dy="1.3" textLength="33.25" lengthAdjust="spacingAndGlyphs">LOC Os08g36885</text>
<text transform="translate(450.22 154.71) rotate(330.62)" dy="1.3" textLength="19" lengthAdjust="spacingAndGlyphs">AT4G05810</text>
<text transform="translate(451.79 157.56) rotate(331.57)" dy="1.3" textLength="19" lengthAdjust="spacingAndGlyphs">AT3G21280</text>
<text transform="translate(453.31 160.43) rotate(332.53)" dy="1.3" textLength="19" lengthAdjust="spacingAndGlyphs">AT4G80690</text>
<text transform="translate(454.79 163.33) rotate(333.49)" dy="1.3" textLength="33.54" lengthAdjust="spacingAndGlyphs">LOC Os08g68924</text>
<text transform="translate(456.21 166.25) rotate(334.45)" dy="1.3" textLength="16.94" lengthAdjust="spacingAndGlyphs">ZmNAC 31</text>
<text transform="translate(457.59 169.19) rotate(335.41)" dy="1.3" textLength="17.17" lengthAdjust="spacingAndGlyphs">ZmNAC 33</text>
<text transform="translate(458.92 172.16) rotate(336.37)" dy="1.3" textLength="16.83" lengthAdjust="spacingAndGlyphs">ZmNAC 87</text>
<text transform="translate(460.19 175.15) rotate(337.33)" dy="1.3" textLength="32.84" lengthAdjust="spacingAndGlyphs">LOC Os10g39905</text>
<text transform="translate(461.42 178.16) rotate(338.29)" dy="1.3" textLength="33.21" lengthAdjust="spacingAndGlyphs">LOC Os12g04488</text>
<text transform="translate(462.6 181.19) rotate(339.25)" dy="1.3" textLength="19" lengthAdjust="spacingAndGlyphs">AT3G78430</text>
<text transform="translate(463.73 184.24) rotate(340.21)" dy="1.3" textLength="19" lengthAdjust="spacingAndGlyphs">AT1G34080</text>
<text transform="translate(464.8 187.3) rotate(341.16)" dy="1.3" textLength="33.11" lengthAdjust="spacingAndGlyphs">LOC Os09g60718</text>
<text transform="translate(465.82 190.39) rotate(342.12)" dy="1.3" textLength="33.33" lengthAdjust="spacingAndGlyphs">LOC Os11g15103</text>
<text transform="translate(466.8 193.49) rotate(343.08)" dy="1.3" textLength="16.85" lengthAdjust="spacingAndGlyphs">ZmNAC 49</text>
<text transform="translate(467.72 196.61) rotate(344.04)" dy="1.3" textLength="18.61" lengthAdjust="spacingAndGlyphs">ZmNAC 110</text>
<text transform="translate(468.58 199.74) rotate(345)" dy="1.3" textLength="18.92" lengthAdjust="spacingAndGlyphs">ZmNAC 124</text>
<text transform="translate(469.4 202.89) rotate(345.96)" dy="1.3" textLength="33.1" lengthAdjust="spacingAndGlyphs">LOC Os07g63353</text>
<text transform="translate(470.16 206.05) rotate(346.92)" dy="1.3" textLength="32.94" lengthAdjust="spacingAndGlyphs">LOC Os07g26751</text>
<text transform="translate(470.87 209.22) rotate(347.88)" dy="1.3" textLength="18.64" lengthAdjust="spacingAndGlyphs">ZmNAC 120</text>
<text transform="translate(471.53 212.4) rotate(348.84)" dy="1.3" textLength="19" lengthAdjust="spacingAndGlyphs">AT1G57730</text>
<text transform="translate(472.13 215.6) rotate(349.8)" dy="1.3" textLength="18.99" lengthAdjust="spacingAndGlyphs">ZmNAC 121</text>
<text transform="translate(472.68 218.8) rotate(350.75)" dy="1.3" textLength="19" lengthAdjust="spacingAndGlyphs">AT4G72970</text>
<text transform="translate(473.17 222.01) rotate(351.71)" dy="1.3" textLength="17.14" lengthAdjust="spacingAndGlyphs">ZmNAC 40</text>
<text transform="translate(473.61 225.23) rotate(352.67)" dy="1.3" textLength="32.42" lengthAdjust="spacingAndGlyphs">LOC Os07g07364</text>
<text transform="translate(474 228.46) rotate(353.63)" dy="1.3" textLength="33.36" lengthAdjust="spacingAndGlyphs">LOC Os02g31149</text>
<text transform="translate(474.34 231.69) rotate(354.59)" dy="1.3" textLength="19" lengthAdjust="spacingAndGlyphs">AT1G09240</text>
<text transform="translate(474.61 234.93) rotate(355.55)" dy="1.3" textLength="19" lengthAdjust="spacingAndGlyphs">AT4G10000</text>
<text transform="translate(474.84 238.17) rotate(356.51)" dy="1.3" textLength="17" lengthAdjust="spacingAndGlyphs">ZmNAC 13</text>
<text transform="translate(475.01 241.42) rotate(357.47)" dy="1.3" textLength="17.06" lengthAdjust="spacingAndGlyphs">ZmNAC 32</text>
<text transform="translate(475.13 244.67) rotate(358.43)" dy="1.3" textLength="16.93" lengthAdjust="spacingAndGlyphs">ZmNAC 29</text>
<text transform="translate(475.19 247.92) rotate(359.39)" dy="1.3" textLength="19" lengthAdjust="spacingAndGlyphs">AT3G58400</text>
<text transform="translate(475.2 251.17) rotate(0.35)" dy="1.3" textLength="32.93" lengthAdjust="spacingAndGlyphs">LOC Os03g24997</text>
<text transform="translate(475.15 254.42) rotate(1.3)" dy="1.3" textLength="32.79" lengthAdjust="spacingAndGlyphs">LOC Os10g25285</text>
<text transform="translate(475.05 257.67) rotate(2.26)" dy="1.3" textLength="19" lengthAdjust="spacingAndGlyphs">AT2G09810</text>
<text transform="translate(474.89 260.92) rotate(3.22)" dy="1.3" textLength="19" lengthAdjust="spacingAndGlyphs">AT1G50700</text>
<text transform="translate(474.68 264.16) rotate(4.18)" dy="1.3" textLength="19" lengthAdjust="spacingAndGlyphs">AT5G76390</text>
<text transform="translate(474.42 267.4) rotate(5.14)" dy="1.3" textLength="19" lengthAdjust="spacingAndGlyphs">AT4G18600</text>
<text transform="translate(474.1 270.63) rotate(6.1)" dy="1.3" textLength="32.51" lengthAdjust="spacingAndGlyphs">LOC Os01g57579</text>
<text transform="translate(473.73 273.86) rotate(7.06)" dy="1.3" textLength="33.16" lengthAdjust="spacingAndGlyphs">LOC Os02g42231</text>
<text transform="translate(473.3 277.09) rotate(8.02)" dy="1.3" textLength="18.46" lengthAdjust="spacingAndGlyphs">ZmNAC 126</text>
<text transform="translate(472.82 280.3) rotate(8.98)" dy="1.3" textLength="17.27" lengthAdjust="spacingAndGlyphs">ZmNAC 96</text>
<text transform="translate(472.29 283.51) rotate(9.94)" dy="1.3" textLength="19" lengthAdjust="spacingAndGlyphs">AT3G20800</text>
<text transform="translate(471.7 286.7) rotate(10.89)" dy="1.3" textLength="23" lengthAdjust="spacingAndGlyphs">AT5G39040</text>
<text transform="translate(471.06 289.89) rotate(11.85)" dy="1.3" textLength="32.43" lengthAdjust="spacingAndGlyphs">LOC Os09g29913</text>
<text transform="translate(470.36 293.07) rotate(12.81)" dy="1.3" textLength="33.34" lengthAdjust="spacingAndGlyphs">LOC Os05g09281</text>
<text transform="translate(469.62 296.23) rotate(13.77)" dy="1.3" textLength="23" lengthAdjust="spacingAndGlyphs">AT3G38150</text>
<text transform="translate(468.82 299.38) rotate(14.73)" dy="1.3" textLength="23" lengthAdjust="spacingAndGlyphs">AT2G49650</text>
<text transform="translate(467.96 302.52) rotate(15.69)" dy="1.3" textLength="33.37" lengthAdjust="spacingAndGlyphs">LOC Os08g51974</text>
<text transform="translate(467.06 305.64) rotate(16.65)" dy="1.3" textLength="33" lengthAdjust="spacingAndGlyphs">LOC Os03g18194</text>
<text transform="translate(466.1 308.74) rotate(17.61)" dy="1.3" textLength="21.23" lengthAdjust="spacingAndGlyphs">ZmNAC 88</text>
<text transform="translate(465.09 311.83) rotate(18.57)" dy="1.3" textLength="20.95" lengthAdjust="spacingAndGlyphs">ZmNAC 10</text>
<text transform="translate(464.03 314.91) rotate(19.53)" dy="1.3" textLength="21.24" lengthAdjust="spacingAndGlyphs">ZmNAC 32</text>
<text transform="translate(462.92 317.96) rotate(20.48)" dy="1.3" textLength="23" lengthAdjust="spacingAndGlyphs">AT4G61630</text>
<text transform="translate(461.76 321) rotate(21.44)" dy="1.3" textLength="32.91" lengthAdjust="spacingAndGlyphs">LOC Os08g43373</text>
<text transform="translate(460.54 324.01) rotate(22.4)" dy="1.3" textLength="23" lengthAdjust="spacingAndGlyphs">AT5G04860</text>
<text transform="translate(459.28 327.01) rotate(23.36)" dy="1.3" textLength="23" lengthAdjust="spacingAndGlyphs">AT2G57270</text>
<text transform="translate(457.97 329.98) rotate(24.32)" dy="1.3" textLength="23" lengthAdjust="spacingAndGlyphs">AT1G11980</text>
<text transform="translate(456.6 332.93) rotate(25.28)" dy="1.3" textLength="20.94" lengthAdjust="spacingAndGlyphs">ZmNAC 55</text>
<text transform="translate(455.19 335.86) rotate(26.24)" dy="1.3" textLength="21.38" lengthAdjust="spacingAndGlyphs">ZmNAC 97</text>
<text transform="translate(453.73 338.76) rotate(27.2)" dy="1.3" textLength="21.04" lengthAdjust="spacingAndGlyphs">ZmNAC 61</text>
<text transform="translate(452.22 341.64) rotate(28.16)" dy="1.3" textLength="32.85" lengthAdjust="spacingAndGlyphs">LOC Os05g44681</text>
<text transform="translate(450.66 344.49) rotate(29.12)" dy="1.3" textLength="33.43" lengthAdjust="spacingAndGlyphs">LOC Os10g46701</text>
<text transform="translate(449.06 347.32) rotate(30.07)" dy="1.3" textLength="19.02" lengthAdjust="spacingAndGlyphs">ZmNAC 97</text>
<text transform="translate(447.4 350.12) rotate(31.03)" dy="1.3" textLength="19.2" lengthAdjust="spacingAndGlyphs">ZmNAC 92</text>
<text transform="translate(445.7 352.89) rotate(31.99)" dy="1.3" textLength="32.61" lengthAdjust="spacingAndGlyphs">LOC Os11g39785</text>
<text transform="translate(443.96 355.63) rotate(32.95)" dy="1.3" textLength="33.41" lengthAdjust="spacingAndGlyphs">LOC Os11g57805</text>
<text transform="translate(442.17 358.34) rotate(33.91)" dy="1.3" textLength="32.71" lengthAdjust="spacingAndGlyphs">LOC Os06g68828</text>
<text transform="translate(440.33 361.03) rotate(34.87)" dy="1.3" textLength="21" lengthAdjust="spacingAndGlyphs">AT5G29160</text>
<text transform="translate(438.45 363.68) rotate(35.83)" dy="1.3" textLength="32.46" lengthAdjust="spacingAndGlyphs">LOC Os12g24663</text>
<text transform="translate(436.53 366.3) rotate(36.79)" dy="1.3" textLength="33.57" lengthAdjust="spacingAndGlyphs">LOC Os07g09294</text>
<text transform="translate(434.56 368.88) rotate(37.75)" dy="1.3" textLength="32.61" lengthAdjust="spacingAndGlyphs">LOC Os02g05863</text>
<text transform="translate(432.55 371.44) rotate(38.71)" dy="1.3" textLength="21" lengthAdjust="spacingAndGlyphs">AT2G26630</text>
<text transform="translate(430.49 373.96) rotate(39.66)" dy="1.3" textLength="20.5" lengthAdjust="spacingAndGlyphs">AT4G46680</text>
<text transform="translate(428.4 376.44) rotate(40.62)" dy="1.3" textLength="20.5" lengthAdjust="spacingAndGlyphs">AT4G40390</text>
<text transform="translate(426.26 378.89) rotate(41.58)" dy="1.3" textLength="33.54" lengthAdjust="spacingAndGlyphs">LOC Os10g57183</text>
<text transform="translate(424.08 381.3) rotate(42.54)" dy="1.3" textLength="33.58" lengthAdjust="spacingAndGlyphs">LOC Os06g62023</text>
<text transform="translate(421.87 383.68) rotate(43.5)" dy="1.3" textLength="20.5" lengthAdjust="spacingAndGlyphs">AT2G21270</text>
<text transform="translate(419.61 386.02) rotate(44.46)" dy="1.3" textLength="20.5" lengthAdjust="spacingAndGlyphs">AT4G62550</text>
<text transform="translate(417.31 388.32) rotate(45.42)" dy="1.3" textLength="33.13" lengthAdjust="spacingAndGlyphs">LOC Os03g34301</text>
<text transform="translate(414.98 390.58) rotate(46.38)" dy="1.3" textLength="20.5" lengthAdjust="spacingAndGlyphs">AT2G38620</text>
<text transform="translate(412.61 392.81) rotate(47.34)" dy="1.3" textLength="20.5" lengthAdjust="spacingAndGlyphs">AT1G46120</text>
<text transform="translate(410.2 394.99) rotate(48.3)" dy="1.3" textLength="19.81" lengthAdjust="spacingAndGlyphs">ZmNAC 95</text>
<text transform="translate(407.75 397.13) rotate(49.25)" dy="1.3" textLength="19.84" lengthAdjust="spacingAndGlyphs">ZmNAC 16</text>
<text transform="translate(405.27 399.23) rotate(50.21)" dy="1.3" textLength="32.65" lengthAdjust="spacingAndGlyphs">LOC Os12g03849</text>
<text transform="translate(402.76 401.29) rotate(51.17)" dy="1.3" textLength="32.87" lengthAdjust="spacingAndGlyphs">LOC Os11g60855</text>
<text transform="translate(400.21 403.31) rotate(52.13)" dy="1.3" textLength="33.13" lengthAdjust="spacingAndGlyphs">LOC Os08g21443</text>
<text transform="translate(397.63 405.28) rotate(53.09)" dy="1.3" textLength="22" lengthAdjust="spacingAndGlyphs">AT3G39150</text>
<text transform="translate(395.01 407.21) rotate(54.05)" dy="1.3" textLength="22" lengthAdjust="spacingAndGlyphs">AT2G22390</text>
<text transform="translate(392.36 409.1) rotate(55.01)" dy="1.3" textLength="22" lengthAdjust="spacingAndGlyphs">AT1G76320</text>
<text transform="translate(389.69 410.94) rotate(55.97)" dy="1.3" textLength="22" lengthAdjust="spacingAndGlyphs">AT1G53560</text>
<text transform="translate(386.98 412.74) rotate(56.93)" dy="1.3" textLength="33.56" lengthAdjust="spacingAndGlyphs">LOC Os12g48743</text>
<text transform="translate(384.24 414.49) rotate(57.89)" dy="1.3" textLength="32.83" lengthAdjust="spacingAndGlyphs">LOC Os11g41873</text>
<text transform="translate(381.47 416.19) rotate(58.85)" dy="1.3" textLength="32.57" lengthAdjust="spacingAndGlyphs">LOC Os03g62346</text>
<text transform="translate(378.67 417.85) rotate(59.8)" dy="1.3" textLength="22" lengthAdjust="spacingAndGlyphs">AT1G62340</text>
<text transform="translate(375.85 419.46) rotate(60.76)" dy="1.3" textLength="22" lengthAdjust="spacingAndGlyphs">AT2G24020</text>
<text transform="translate(373 421.02) rotate(61.72)" dy="1.3" textLength="21.74" lengthAdjust="spacingAndGlyphs">ZmNAC 111</text>
<text transform="translate(370.13 422.54) rotate(62.68)" dy="1.3" textLength="22" lengthAdjust="spacingAndGlyphs">AT4G08970</text>
<text transform="translate(367.23 424.01) rotate(63.64)" dy="1.3" textLength="22" lengthAdjust="spacingAndGlyphs">AT4G23250</text>
<text transform="translate(364.3 425.43) rotate(64.6)" dy="1.3" textLength="32.56" lengthAdjust="spacingAndGlyphs">LOC Os01g05360</text>
<text transform="translate(361.35 426.8) rotate(65.56)" dy="1.3" textLength="32.5" lengthAdjust="spacingAndGlyphs">LOC Os09g69018</text>
<text transform="translate(358.38 428.12) rotate(66.52)" dy="1.3" textLength="33.07" lengthAdjust="spacingAndGlyphs">LOC Os10g46876</text>
<text transform="translate(355.39 429.39) rotate(67.48)" dy="1.3" textLength="20.22" lengthAdjust="spacingAndGlyphs">ZmNAC 19</text>
<text transform="translate(352.38 430.61) rotate(68.44)" dy="1.3" textLength="21.44" lengthAdjust="spacingAndGlyphs">ZmNAC 126</text>
<text transform="translate(349.35 431.78) rotate(69.39)" dy="1.3" textLength="21.67" lengthAdjust="spacingAndGlyphs">ZmNAC 121</text>
<text transform="translate(346.29 432.89) rotate(70.35)" dy="1.3" textLength="23" lengthAdjust="spacingAndGlyphs">AT2G07610</text>
<text transform="translate(343.22 433.96) rotate(71.31)" dy="1.3" textLength="23" lengthAdjust="spacingAndGlyphs">AT1G07270</text>
<text transform="translate(340.14 434.98) rotate(72.27)" dy="1.3" textLength="23" lengthAdjust="spacingAndGlyphs">AT4G59440</text>
<text transform="translate(337.03 435.94) rotate(73.23)" dy="1.3" textLength="33.24" lengthAdjust="spacingAndGlyphs">LOC Os05g07729</text>
<text transform="translate(333.91 436.85) rotate(74.19)" dy="1.3" textLength="33.32" lengthAdjust="spacingAndGlyphs">LOC Os01g26493</text>
<text transform="translate(330.78 437.71) rotate(75.15)" dy="1.3" textLength="23" lengthAdjust="spacingAndGlyphs">AT5G53730</text>
<text transform="translate(327.63 438.52) rotate(76.11)" dy="1.3" textLength="23" lengthAdjust="spacingAndGlyphs">AT2G12050</text>
<text transform="translate(324.47 439.27) rotate(77.07)" dy="1.3" textLength="32.86" lengthAdjust="spacingAndGlyphs">LOC Os06g15153</text>
<text transform="translate(321.29 439.97) rotate(78.03)" dy="1.3" textLength="33.46" lengthAdjust="spacingAndGlyphs">LOC Os02g22225</text>
<text transform="translate(318.11 440.62) rotate(78.98)" dy="1.3" textLength="23" lengthAdjust="spacingAndGlyphs">AT2G03280</text>
<text transform="translate(314.91 441.22) rotate(79.94)" dy="1.3" textLength="23" lengthAdjust="spacingAndGlyphs">AT3G64770</text>
<text transform="translate(311.71 441.76) rotate(80.9)" dy="1.3" textLength="23" lengthAdjust="spacingAndGlyphs">AT4G69460</text>
<text transform="translate(308.49 442.24) rotate(81.86)" dy="1.3" textLength="32.6" lengthAdjust="spacingAndGlyphs">LOC Os11g18398</text>
<text transform="translate(305.27 442.68) rotate(82.82)" dy="1.3" textLength="33.26" lengthAdjust="spacingAndGlyphs">LOC Os12g02619</text>
<text transform="translate(302.04 443.06) rotate(83.78)" dy="1.3" textLength="33.33" lengthAdjust="spacingAndGlyphs">LOC Os05g59856</text>
<text transform="translate(298.81 443.38) rotate(84.74)" dy="1.3" textLength="21.33" lengthAdjust="spacingAndGlyphs">ZmNAC 58</text>
<text transform="translate(295.57 443.65) rotate(85.7)" dy="1.3" textLength="23" lengthAdjust="spacingAndGlyphs">AT4G12480</text>
<text transform="translate(292.33 443.87) rotate(86.66)" dy="1.3" textLength="23" lengthAdjust="spacingAndGlyphs">AT4G42000</text>
<text transform="translate(289.08 444.03) rotate(87.62)" dy="1.3" textLength="23" lengthAdjust="spacingAndGlyphs">AT5G11740</text>
<text transform="translate(285.83 444.14) rotate(88.57)" dy="1.3" textLength="23" lengthAdjust="spacingAndGlyphs">AT1G57180</text>
<text transform="translate(282.58 444.19) rotate(89.53)" dy="1.3" textLength="32.99" lengthAdjust="spacingAndGlyphs">LOC Os10g33163</text>
<text transform="translate(279.33 444.19) rotate(-89.51)" text-anchor="end" dy="1.3" textLength="32.52" lengthAdjust="spacingAndGlyphs">LOC Os05g09053</text>
<text transform="translate(276.08 444.14) rotate(-88.55)" text-anchor="end" dy="1.3" textLength="23" lengthAdjust="spacingAndGlyphs">AT2G07290</text>
<text transform="translate(272.83 444.03) rotate(-87.59)" text-anchor="end" dy="1.3" textLength="20.83" lengthAdjust="spacingAndGlyphs">ZmNAC 96</text>
<text transform="translate(269.59 443.86) rotate(-86.63)" text-anchor="end" dy="1.3" textLength="23" lengthAdjust="spacingAndGlyphs">AT3G50780</text>
<text transform="translate(266.34 443.65) rotate(-85.67)" text-anchor="end" dy="1.3" textLength="23" lengthAdjust="spacingAndGlyphs">AT3G18240</text>
<text transform="translate(263.1 443.37) rotate(-84.71)" text-anchor="end" dy="1.3" textLength="23" lengthAdjust="spacingAndGlyphs">AT1G07180</text>
<text transform="translate(259.87 443.05) rotate(-83.75)" text-anchor="end" dy="1.3" textLength="33.03" lengthAdjust="spacingAndGlyphs">LOC Os12g57045</text>
<text transform="translate(256.64 442.67) rotate(-82.79)" text-anchor="end" dy="1.3" textLength="32.61" lengthAdjust="spacingAndGlyphs">LOC Os05g14964</text>
<text transform="translate(253.42 442.23) rotate(-81.84)" text-anchor="end" dy="1.3" textLength="33.16" lengthAdjust="spacingAndGlyphs">LOC Os07g18071</text>
<text transform="translate(250.21 441.74) rotate(-80.88)" text-anchor="end" dy="1.3" textLength="23" lengthAdjust="spacingAndGlyphs">AT3G23190</text>
<text transform="translate(247 441.2) rotate(-79.92)" text-anchor="end" dy="1.3" textLength="23" lengthAdjust="spacingAndGlyphs">AT4G43360</text>
<text transform="translate(243.81 440.6) rotate(-78.96)" text-anchor="end" dy="1.3" textLength="23" lengthAdjust="spacingAndGlyphs">AT1G72090</text>
<text transform="translate(240.62 439.96) rotate(-78)" text-anchor="end" dy="1.3" textLength="23" lengthAdjust="spacingAndGlyphs">AT1G16940</text>
<text transform="translate(237.45 439.25) rotate(-77.04)" text-anchor="end" dy="1.3" textLength="23" lengthAdjust="spacingAndGlyphs">AT2G47810</text>
<text transform="translate(234.29 438.5) rotate(-76.08)" text-anchor="end" dy="1.3" textLength="23" lengthAdjust="spacingAndGlyphs">AT3G03170</text>
<text transform="translate(231.14 437.69) rotate(-75.12)" text-anchor="end" dy="1.3" textLength="32.5" lengthAdjust="spacingAndGlyphs">LOC Os04g57217</text>
<text transform="translate(228 436.83) rotate(-74.16)" text-anchor="end" dy="1.3" textLength="33.34" lengthAdjust="spacingAndGlyphs">LOC Os03g48501</text>
<text transform="translate(224.88 435.92) rotate(-73.2)" text-anchor="end" dy="1.3" textLength="23" lengthAdjust="spacingAndGlyphs">AT3G02630</text>
<text transform="translate(221.78 434.95) rotate(-72.25)" text-anchor="end" dy="1.3" textLength="23" lengthAdjust="spacingAndGlyphs">AT5G22380</text>
<text transform="translate(218.69 433.93) rotate(-71.29)" text-anchor="end" dy="1.3" textLength="23" lengthAdjust="spacingAndGlyphs">AT5G80410</text>
<text transform="translate(215.62 432.86) rotate(-70.33)" text-anchor="end" dy="1.3" textLength="23" lengthAdjust="spacingAndGlyphs">AT2G59480</text>
<text transform="translate(212.57 431.74) rotate(-69.37)" text-anchor="end" dy="1.3" textLength="23" lengthAdjust="spacingAndGlyphs">AT4G16490</text>
<text transform="translate(209.54 430.57) rotate(-68.41)" text-anchor="end" dy="1.3" textLength="23" lengthAdjust="spacingAndGlyphs">AT4G30920</text>
<text transform="translate(206.53 429.35) rotate(-67.45)" text-anchor="end" dy="1.3" textLength="32.67" lengthAdjust="spacingAndGlyphs">LOC Os08g57905</text>
<text transform="translate(203.53 428.08) rotate(-66.49)" text-anchor="end" dy="1.3" textLength="32.42" lengthAdjust="spacingAndGlyphs">LOC Os03g58858</text>
<text transform="translate(200.57 426.76) rotate(-65.53)" text-anchor="end" dy="1.3" textLength="32.61" lengthAdjust="spacingAndGlyphs">LOC Os01g22048</text>
<text transform="translate(197.62 425.39) rotate(-64.57)" text-anchor="end" dy="1.3" textLength="23" lengthAdjust="spacingAndGlyphs">AT4G79120</text>
<text transform="translate(194.69 423.97) rotate(-63.61)" text-anchor="end" dy="1.3" textLength="23" lengthAdjust="spacingAndGlyphs">AT2G55970</text>
<text transform="translate(191.79 422.5) rotate(-62.65)" text-anchor="end" dy="1.3" textLength="23" lengthAdjust="spacingAndGlyphs">AT1G05300</text>
<text transform="translate(188.92 420.98) rotate(-61.7)" text-anchor="end" dy="1.3" textLength="32.95" lengthAdjust="spacingAndGlyphs">LOC Os10g31910</text>
<text transform="translate(186.07 419.42) rotate(-60.74)" text-anchor="end" dy="1.3" textLength="23" lengthAdjust="spacingAndGlyphs">AT3G52470</text>
<text transform="translate(183.25 417.8) rotate(-59.78)" text-anchor="end" dy="1.3" textLength="34.6" lengthAdjust="spacingAndGlyphs">LOC Os08g29261</text>
<text transform="translate(180.45 416.14) rotate(-58.82)" text-anchor="end" dy="1.3" textLength="34.6" lengthAdjust="spacingAndGlyphs">LOC Os04g37312</text>
<text transform="translate(177.69 414.44) rotate(-57.86)" text-anchor="end" dy="1.3" textLength="16.9" lengthAdjust="spacingAndGlyphs">ZmNAC 78</text>
<text transform="translate(174.95 412.69) rotate(-56.9)" text-anchor="end" dy="1.3" textLength="34.6" lengthAdjust="spacingAndGlyphs">LOC Os09g68610</text>
<text transform="translate(172.24 410.89) rotate(-55.94)" text-anchor="end" dy="1.3" textLength="19" lengthAdjust="spacingAndGlyphs">AT2G49050</text>
<text transform="translate(169.56 409.05) rotate(-54.98)" text-anchor="end" dy="1.3" textLength="34.6" lengthAdjust="spacingAndGlyphs">LOC Os06g33537</text>
<text transform="translate(166.92 407.16) rotate(-54.02)" text-anchor="end" dy="1.3" textLength="17.12" lengthAdjust="spacingAndGlyphs">ZmNAC 16</text>
<text transform="translate(164.3 405.23) rotate(-53.06)" text-anchor="end" dy="1.3" textLength="34.6" lengthAdjust="spacingAndGlyphs">LOC Os10g65798</text>
<text transform="translate(161.72 403.25) rotate(-52.11)" text-anchor="end" dy="1.3" textLength="34.6" lengthAdjust="spacingAndGlyphs">LOC Os07g46766</text>
<text transform="translate(159.17 401.23) rotate(-51.15)" text-anchor="end" dy="1.3" textLength="34.6" lengthAdjust="spacingAndGlyphs">LOC Os03g19720</text>
<text transform="translate(156.66 399.17) rotate(-50.19)" text-anchor="end" dy="1.3" textLength="34.6" lengthAdjust="spacingAndGlyphs">LOC Os04g65240</text>
<text transform="translate(154.18 397.07) rotate(-49.23)" text-anchor="end" dy="1.3" textLength="34.6" lengthAdjust="spacingAndGlyphs">LOC Os07g05947</text>
<text transform="translate(151.74 394.93) rotate(-48.27)" text-anchor="end" dy="1.3" textLength="34.6" lengthAdjust="spacingAndGlyphs">LOC Os02g23224</text>
<text transform="translate(149.33 392.74) rotate(-47.31)" text-anchor="end" dy="1.3" textLength="34.6" lengthAdjust="spacingAndGlyphs">LOC Os07g13939</text>
<text transform="translate(146.96 390.52) rotate(-46.35)" text-anchor="end" dy="1.3" textLength="34.6" lengthAdjust="spacingAndGlyphs">LOC Os12g37889</text>
<text transform="translate(144.62 388.26) rotate(-45.39)" text-anchor="end" dy="1.3" textLength="34.6" lengthAdjust="spacingAndGlyphs">LOC Os04g43475</text>
<text transform="translate(142.33 385.96) rotate(-44.43)" text-anchor="end" dy="1.3" textLength="34.6" lengthAdjust="spacingAndGlyphs">LOC Os08g62622</text>
<text transform="translate(140.07 383.62) rotate(-43.47)" text-anchor="end" dy="1.3" textLength="34.6" lengthAdjust="spacingAndGlyphs">LOC Os09g12941</text>
<text transform="translate(137.86 381.24) rotate(-42.52)" text-anchor="end" dy="1.3" textLength="34.6" lengthAdjust="spacingAndGlyphs">LOC Os04g50340</text>
<text transform="translate(135.68 378.82) rotate(-41.56)" text-anchor="end" dy="1.3" textLength="34.6" lengthAdjust="spacingAndGlyphs">LOC Os12g02321</text>
<text transform="translate(133.54 376.37) rotate(-40.6)" text-anchor="end" dy="1.3" textLength="34.6" lengthAdjust="spacingAndGlyphs">LOC Os02g68075</text>
<text transform="translate(131.45 373.89) rotate(-39.64)" text-anchor="end" dy="1.3" textLength="34.6" lengthAdjust="spacingAndGlyphs">LOC Os10g25214</text>
<text transform="translate(129.4 371.37) rotate(-38.68)" text-anchor="end" dy="1.3" textLength="34.6" lengthAdjust="spacingAndGlyphs">LOC Os07g03912</text>
<text transform="translate(127.39 368.81) rotate(-37.72)" text-anchor="end" dy="1.3" textLength="34.6" lengthAdjust="spacingAndGlyphs">LOC Os06g04545</text>
<text transform="translate(125.42 366.23) rotate(-36.76)" text-anchor="end" dy="1.3" textLength="34.6" lengthAdjust="spacingAndGlyphs">LOC Os10g41904</text>
<text transform="translate(123.5 363.61) rotate(-35.8)" text-anchor="end" dy="1.3" textLength="34.6" lengthAdjust="spacingAndGlyphs">LOC Os09g51179</text>
<text transform="translate(121.62 360.95) rotate(-34.84)" text-anchor="end" dy="1.3" textLength="34.6" lengthAdjust="spacingAndGlyphs">LOC Os09g63403</text>
<text transform="translate(119.78 358.27) rotate(-33.88)" text-anchor="end" dy="1.3" textLength="34.6" lengthAdjust="spacingAndGlyphs">LOC Os09g53311</text>
<text transform="translate(117.99 355.56) rotate(-32.93)" text-anchor="end" dy="1.3" textLength="34.6" lengthAdjust="spacingAndGlyphs">LOC Os08g09012</text>
<text transform="translate(116.25 352.81) rotate(-31.97)" text-anchor="end" dy="1.3" textLength="34.6" lengthAdjust="spacingAndGlyphs">LOC Os09g20218</text>
<text transform="translate(114.55 350.04) rotate(-31.01)" text-anchor="end" dy="1.3" textLength="34.6" lengthAdjust="spacingAndGlyphs">LOC Os07g48552</text>
<text transform="translate(112.9 347.24) rotate(-30.05)" text-anchor="end" dy="1.3" textLength="34.6" lengthAdjust="spacingAndGlyphs">LOC Os10g03642</text>
<text transform="translate(111.3 344.41) rotate(-29.09)" text-anchor="end" dy="1.3" textLength="34.6" lengthAdjust="spacingAndGlyphs">LOC Os11g69446</text>
<text transform="translate(109.74 341.56) rotate(-28.13)" text-anchor="end" dy="1.3" textLength="34.6" lengthAdjust="spacingAndGlyphs">LOC Os04g38247</text>
<text transform="translate(108.23 338.68) rotate(-27.17)" text-anchor="end" dy="1.3" textLength="34.6" lengthAdjust="spacingAndGlyphs">LOC Os05g11190</text>
<text transform="translate(106.77 335.78) rotate(-26.21)" text-anchor="end" dy="1.3" textLength="34.6" lengthAdjust="spacingAndGlyphs">LOC Os01g12438</text>
<text transform="translate(105.36 332.85) rotate(-25.25)" text-anchor="end" dy="1.3" textLength="34.6" lengthAdjust="spacingAndGlyphs">LOC Os06g55146</text>
<text transform="translate(104 329.9) rotate(-24.29)" text-anchor="end" dy="1.3" textLength="34.6" lengthAdjust="spacingAndGlyphs">LOC Os05g02895</text>
<text transform="translate(102.68 326.92) rotate(-23.34)" text-anchor="end" dy="1.3" textLength="34.6" lengthAdjust="spacingAndGlyphs">LOC Os05g31724</text>
<text transform="translate(101.42 323.93) rotate(-22.38)" text-anchor="end" dy="1.3" textLength="34.6" lengthAdjust="spacingAndGlyphs">LOC Os02g05953</text>
<text transform="translate(100.21 320.91) rotate(-21.42)" text-anchor="end" dy="1.3" textLength="34.6" lengthAdjust="spacingAndGlyphs">LOC Os02g40399</text>
<text transform="translate(99.05 317.88) rotate(-20.46)" text-anchor="end" dy="1.3" textLength="32.63" lengthAdjust="spacingAndGlyphs">LOC Os06g28360</text>
<text transform="translate(97.94 314.82) rotate(-19.5)" text-anchor="end" dy="1.3" textLength="33.13" lengthAdjust="spacingAndGlyphs">LOC Os08g68723</text>
<text transform="translate(96.88 311.75) rotate(-18.54)" text-anchor="end" dy="1.3" textLength="32.62" lengthAdjust="spacingAndGlyphs">LOC Os02g16868</text>
<text transform="translate(95.87 308.66) rotate(-17.58)" text-anchor="end" dy="1.3" textLength="32.48" lengthAdjust="spacingAndGlyphs">LOC Os04g45821</text>
<text transform="translate(94.92 305.55) rotate(-16.62)" text-anchor="end" dy="1.3" textLength="32.83" lengthAdjust="spacingAndGlyphs">LOC Os09g56519</text>
<text transform="translate(94.01 302.43) rotate(-15.66)" text-anchor="end" dy="1.3" textLength="22" lengthAdjust="spacingAndGlyphs">AT1G52130</text>
<text transform="translate(93.16 299.29) rotate(-14.7)" text-anchor="end" dy="1.3" textLength="22" lengthAdjust="spacingAndGlyphs">AT5G28150</text>
<text transform="translate(92.36 296.14) rotate(-13.75)" text-anchor="end" dy="1.3" textLength="22" lengthAdjust="spacingAndGlyphs">AT4G43490</text>
<text transform="translate(91.62 292.98) rotate(-12.79)" text-anchor="end" dy="1.3" textLength="22" lengthAdjust="spacingAndGlyphs">AT5G50020</text>
<text transform="translate(90.92 289.8) rotate(-11.83)" text-anchor="end" dy="1.3" textLength="22" lengthAdjust="spacingAndGlyphs">AT1G28880</text>
<text transform="translate(90.28 286.62) rotate(-10.87)" text-anchor="end" dy="1.3" textLength="32.96" lengthAdjust="spacingAndGlyphs">LOC Os05g41052</text>
<text transform="translate(89.7 283.42) rotate(-9.91)" text-anchor="end" dy="1.3" textLength="33.04" lengthAdjust="spacingAndGlyphs">LOC Os05g11215</text>
<text transform="translate(89.16 280.21) rotate(-8.95)" text-anchor="end" dy="1.3" textLength="19.82" lengthAdjust="spacingAndGlyphs">ZmNAC 43</text>
<text transform="translate(88.69 277) rotate(-7.99)" text-anchor="end" dy="1.3" textLength="21.87" lengthAdjust="spacingAndGlyphs">ZmNAC 106</text>
<text transform="translate(88.26 273.77) rotate(-7.03)" text-anchor="end" dy="1.3" textLength="22" lengthAdjust="spacingAndGlyphs">AT1G75700</text>
<text transform="translate(87.89 270.55) rotate(-6.07)" text-anchor="end" dy="1.3" textLength="21.6" lengthAdjust="spacingAndGlyphs">ZmNAC 105</text>
<text transform="translate(87.57 267.31) rotate(-5.11)" text-anchor="end" dy="1.3" textLength="21.87" lengthAdjust="spacingAndGlyphs">ZmNAC 109</text>
<text transform="translate(87.31 264.07) rotate(-4.15)" text-anchor="end" dy="1.3" textLength="19.81" lengthAdjust="spacingAndGlyphs">ZmNAC 63</text>
<text transform="translate(87.1 260.83) rotate(-3.2)" text-anchor="end" dy="1.3" textLength="25" lengthAdjust="spacingAndGlyphs">AT3G12060</text>
<text transform="translate(86.95 257.58) rotate(-2.24)" text-anchor="end" dy="1.3" textLength="23.37" lengthAdjust="spacingAndGlyphs">ZmNAC 48</text>
<text transform="translate(86.85 254.33) rotate(-1.28)" text-anchor="end" dy="1.3" textLength="23.15" lengthAdjust="spacingAndGlyphs">ZmNAC 39</text>
<text transform="translate(86.8 251.08) rotate(-0.32)" text-anchor="end" dy="1.3" textLength="23.39" lengthAdjust="spacingAndGlyphs">ZmNAC 48</text>
<text transform="translate(86.81 247.83) rotate(0.64)" text-anchor="end" dy="1.3" textLength="23.39" lengthAdjust="spacingAndGlyphs">ZmNAC 84</text>
<text transform="translate(86.88 244.58) rotate(1.6)" text-anchor="end" dy="1.3" textLength="33.4" lengthAdjust="spacingAndGlyphs">LOC Os10g14410</text>
<text transform="translate(86.99 241.33) rotate(2.56)" text-anchor="end" dy="1.3" textLength="22.86" lengthAdjust="spacingAndGlyphs">ZmNAC 85</text>
<text transform="translate(87.17 238.09) rotate(3.52)" text-anchor="end" dy="1.3" textLength="25" lengthAdjust="spacingAndGlyphs">AT4G19040</text>
<text transform="translate(87.39 234.84) rotate(4.48)" text-anchor="end" dy="1.3" textLength="23.01" lengthAdjust="spacingAndGlyphs">ZmNAC 82</text>
<text transform="translate(87.67 231.61) rotate(5.44)" text-anchor="end" dy="1.3" textLength="24.54" lengthAdjust="spacingAndGlyphs">ZmNAC 120</text>
<text transform="translate(88.01 228.37) rotate(6.39)" text-anchor="end" dy="1.3" textLength="23.27" lengthAdjust="spacingAndGlyphs">ZmNAC 59</text>
<text transform="translate(88.4 225.14) rotate(7.35)" text-anchor="end" dy="1.3" textLength="25" lengthAdjust="spacingAndGlyphs">AT4G14210</text>
<text transform="translate(88.84 221.92) rotate(8.31)" text-anchor="end" dy="1.3" textLength="25" lengthAdjust="spacingAndGlyphs">AT2G15620</text>
<text transform="translate(89.34 218.71) rotate(9.27)" text-anchor="end" dy="1.3" textLength="25" lengthAdjust="spacingAndGlyphs">AT2G49190</text>
<text transform="translate(89.89 215.51) rotate(10.23)" text-anchor="end" dy="1.3" textLength="25" lengthAdjust="spacingAndGlyphs">AT4G43300</text>
<text transform="translate(90.49 212.32) rotate(11.19)" text-anchor="end" dy="1.3" textLength="22.92" lengthAdjust="spacingAndGlyphs">ZmNAC 27</text>
<text transform="translate(91.15 209.13) rotate(12.15)" text-anchor="end" dy="1.3" textLength="22.93" lengthAdjust="spacingAndGlyphs">ZmNAC 17</text>
<text transform="translate(91.86 205.96) rotate(13.11)" text-anchor="end" dy="1.3" textLength="32.53" lengthAdjust="spacingAndGlyphs">LOC Os04g28055</text>
<text transform="translate(92.62 202.8) rotate(14.07)" text-anchor="end" dy="1.3" textLength="32.54" lengthAdjust="spacingAndGlyphs">LOC Os06g50078</text>
<text transform="translate(93.44 199.65) rotate(15.03)" text-anchor="end" dy="1.3" textLength="25" lengthAdjust="spacingAndGlyphs">AT1G33220</text>
<text transform="translate(94.31 196.52) rotate(15.98)" text-anchor="end" dy="1.3" textLength="25" lengthAdjust="spacingAndGlyphs">AT5G62070</text>
<text transform="translate(95.23 193.4) rotate(16.94)" text-anchor="end" dy="1.3" textLength="25" lengthAdjust="spacingAndGlyphs">AT1G79260</text>
<text transform="translate(96.2 190.3) rotate(17.9)" text-anchor="end" dy="1.3" textLength="25" lengthAdjust="spacingAndGlyphs">AT1G65940</text>
<text transform="translate(97.23 187.22) rotate(18.86)" text-anchor="end" dy="1.3" textLength="25" lengthAdjust="spacingAndGlyphs">AT3G10460</text>
<text transform="translate(98.3 184.15) rotate(19.82)" text-anchor="end" dy="1.3" textLength="25" lengthAdjust="spacingAndGlyphs">AT3G03070</text>
</g>
<g opacity="0.22" shape-rendering="crispEdges"><path d="M94.55 145.37A213.8 213.8 0 0 1 96.33 142.26L113.95 152.54A193.4 193.4 0 0 0 112.34 155.35Z" fill="#000"/><path d="M96.33 142.26A213.8 213.8 0 0 1 98.16 139.19L115.6 149.76A193.4 193.4 0 0 0 113.95 152.54Z" fill="#000"/><path d="M98.16 139.19A213.8 213.8 0 0 1 100.04 136.14L117.3 147.01A193.4 193.4 0 0 0 115.6 149.76Z" fill="#000"/><path d="M100.04 136.14A213.8 213.8 0 0 1 101.97 133.13L119.05 144.28A193.4 193.4 0 0 0 117.3 147.01Z" fill="#000"/><path d="M101.97 133.13A213.8 213.8 0 0 1 103.95 130.15L120.84 141.59A193.4 193.4 0 0 0 119.05 144.28Z" fill="#000"/><path d="M103.95 130.15A213.8 213.8 0 0 1 105.98 127.2L122.68 138.92A193.4 193.4 0 0 0 120.84 141.59Z" fill="#000"/><path d="M105.98 127.2A213.8 213.8 0 0 1 108.06 124.29L124.56 136.29A193.4 193.4 0 0 0 122.68 138.92Z" fill="#000"/><path d="M108.06 124.29A213.8 213.8 0 0 1 110.19 121.42L126.49 133.68A193.4 193.4 0 0 0 124.56 136.29Z" fill="#000"/><path d="M110.19 121.42A213.8 213.8 0 0 1 112.37 118.57L128.46 131.11A193.4 193.4 0 0 0 126.49 133.68Z" fill="#000"/><path d="M112.37 118.57A213.8 213.8 0 0 1 114.59 115.77L130.47 128.58A193.4 193.4 0 0 0 128.46 131.11Z" fill="#000"/><path d="M114.59 115.77A213.8 213.8 0 0 1 116.86 113L132.52 126.08A193.4 193.4 0 0 0 130.47 128.58Z" fill="#000"/><path d="M116.86 113A213.8 213.8 0 0 1 119.17 110.28L134.62 123.61A193.4 193.4 0 0 0 132.52 126.08Z" fill="#000"/><path d="M119.17 110.28A213.8 213.8 0 0 1 121.54 107.59L136.75 121.18A193.4 193.4 0 0 0 134.62 123.61Z" fill="#000"/><path d="M111.13 98.29A227.76 227.76 0 0 1 113.69 95.47L138.93 118.78A193.4 193.4 0 0 0 136.75 121.18Z" fill="#000"/><path d="M113.77 95.54A227.65 227.65 0 0 1 116.38 92.76L141.14 116.42A193.4 193.4 0 0 0 138.93 118.78Z" fill="#000"/><path d="M127.92 103.79A211.68 211.68 0 0 1 130.39 101.25L143.4 114.1A193.4 193.4 0 0 0 141.14 116.42Z" fill="#000"/><path d="M130.08 100.94A212.12 212.12 0 0 1 132.6 98.44L145.69 111.81A193.4 193.4 0 0 0 143.4 114.1Z" fill="#000"/><path d="M132.96 98.81A211.6 211.6 0 0 1 135.51 96.35L148.02 109.57A193.4 193.4 0 0 0 145.69 111.81Z" fill="#000"/><path d="M135.3 96.13A211.9 211.9 0 0 1 137.9 93.72L150.39 107.36A193.4 193.4 0 0 0 148.02 109.57Z" fill="#000"/><path d="M137.74 93.54A212.14 212.14 0 0 1 140.38 91.17L152.8 105.2A193.4 193.4 0 0 0 150.39 107.36Z" fill="#000"/><path d="M140.7 91.53A211.65 211.65 0 0 1 143.38 89.21L155.24 103.07A193.4 193.4 0 0 0 152.8 105.2Z" fill="#000"/><path d="M132.83 76.89A227.87 227.87 0 0 1 135.75 74.43L157.72 100.99A193.4 193.4 0 0 0 155.24 103.07Z" fill="#000"/><path d="M145.88 86.68A211.97 211.97 0 0 1 148.63 84.44L160.23 98.94A193.4 193.4 0 0 0 157.72 100.99Z" fill="#000"/><path d="M148.85 84.71A211.62 211.62 0 0 1 151.63 82.52L162.77 96.94A193.4 193.4 0 0 0 160.23 98.94Z" fill="#000"/><path d="M150.3 80.8A213.8 213.8 0 0 1 153.15 78.64L165.35 94.99A193.4 193.4 0 0 0 162.77 96.94Z" fill="#000"/><path d="M152.86 78.23A214.3 214.3 0 0 1 155.75 76.11L167.96 93.07A193.4 193.4 0 0 0 165.35 94.99Z" fill="#000"/><path d="M155.75 76.11A214.3 214.3 0 0 1 158.68 74.04L170.61 91.2A193.4 193.4 0 0 0 167.96 93.07Z" fill="#000"/><path d="M151.05 63.08A227.65 227.65 0 0 1 154.2 60.93L173.28 89.38A193.4 193.4 0 0 0 170.61 91.2Z" fill="#000"/><path d="M162.63 73.5A212.52 212.52 0 0 1 165.6 71.54L175.98 87.6A193.4 193.4 0 0 0 173.28 89.38Z" fill="#000"/><path d="M166.55 73.01A210.77 210.77 0 0 1 169.53 71.12L178.72 85.86A193.4 193.4 0 0 0 175.98 87.6Z" fill="#000"/><path d="M167.66 68.12A214.3 214.3 0 0 1 170.72 66.25L181.48 84.17A193.4 193.4 0 0 0 178.72 85.86Z" fill="#000"/><path d="M170.72 66.25A214.3 214.3 0 0 1 173.81 64.43L184.27 82.53A193.4 193.4 0 0 0 181.48 84.17Z" fill="#000"/><path d="M166.93 52.51A228.07 228.07 0 0 1 170.25 50.63L187.08 80.93A193.4 193.4 0 0 0 184.27 82.53Z" fill="#000"/><path d="M176.93 62.66A214.3 214.3 0 0 1 180.08 60.95L189.93 79.39A193.4 193.4 0 0 0 187.08 80.93Z" fill="#000"/><path d="M180.08 60.95A214.3 214.3 0 0 1 183.26 59.29L192.79 77.89A193.4 193.4 0 0 0 189.93 79.39Z" fill="#000"/><path d="M183.26 59.29A214.3 214.3 0 0 1 186.47 57.68L195.69 76.43A193.4 193.4 0 0 0 192.79 77.89Z" fill="#000"/><path d="M180.69 45.93A227.39 227.39 0 0 1 184.12 44.28L198.6 75.03A193.4 193.4 0 0 0 195.69 76.43Z" fill="#000"/><path d="M189.7 56.12A214.3 214.3 0 0 1 192.96 54.62L201.54 73.68A193.4 193.4 0 0 0 198.6 75.03Z" fill="#000"/><path d="M192.96 54.62A214.3 214.3 0 0 1 196.24 53.17L204.51 72.37A193.4 193.4 0 0 0 201.54 73.68Z" fill="#000"/><path d="M191.03 41.06A227.49 227.49 0 0 1 194.53 39.59L207.49 71.11A193.4 193.4 0 0 0 204.51 72.37Z" fill="#000"/><path d="M194.59 39.73A227.33 227.33 0 0 1 198.12 38.31L210.49 69.91A193.4 193.4 0 0 0 207.49 71.11Z" fill="#000"/><path d="M203.57 52.21A212.4 212.4 0 0 1 206.89 50.95L213.52 68.75A193.4 193.4 0 0 0 210.49 69.91Z" fill="#000"/><path d="M206.8 50.71A212.65 212.65 0 0 1 210.15 49.5L216.56 67.65A193.4 193.4 0 0 0 213.52 68.75Z" fill="#000"/><path d="M210.21 49.69A212.45 212.45 0 0 1 213.58 48.53L219.62 66.6A193.4 193.4 0 0 0 216.56 67.65Z" fill="#000"/><path d="M213.54 48.42A212.56 212.56 0 0 1 216.92 47.32L222.7 65.6A193.4 193.4 0 0 0 219.62 66.6Z" fill="#000"/><path d="M212.37 32.93A227.66 227.66 0 0 1 216.02 31.81L225.8 64.65A193.4 193.4 0 0 0 222.7 65.6Z" fill="#000"/><path d="M215.89 31.39A228.1 228.1 0 0 1 219.56 30.34L228.91 63.75A193.4 193.4 0 0 0 225.8 64.65Z" fill="#000"/><path d="M223.85 45.68A212.16 212.16 0 0 1 227.28 44.75L232.03 62.9A193.4 193.4 0 0 0 228.91 63.75Z" fill="#000"/><path d="M226.74 42.68A214.3 214.3 0 0 1 230.22 41.8L235.17 62.11A193.4 193.4 0 0 0 232.03 62.9Z" fill="#000"/><path d="M230.22 41.8A214.3 214.3 0 0 1 233.71 40.98L238.32 61.37A193.4 193.4 0 0 0 235.17 62.11Z" fill="#000"/><path d="M233.69 40.91A214.37 214.37 0 0 1 237.2 40.15L241.48 60.68A193.4 193.4 0 0 0 238.32 61.37Z" fill="#000"/><path d="M237.11 39.73A214.8 214.8 0 0 1 240.64 39.03L244.66 60.05A193.4 193.4 0 0 0 241.48 60.68Z" fill="#000"/><path d="M238.15 26.05A228.01 228.01 0 0 1 241.91 25.37L247.84 59.46A193.4 193.4 0 0 0 244.66 60.05Z" fill="#000"/><path d="M241.9 25.31A228.07 228.07 0 0 1 245.66 24.68L251.04 58.94A193.4 193.4 0 0 0 247.84 59.46Z" fill="#000"/><path d="M247.77 38.14A214.45 214.45 0 0 1 251.32 37.61L254.24 58.46A193.4 193.4 0 0 0 251.04 58.94Z" fill="#000"/><path d="M251.35 37.81A214.25 214.25 0 0 1 254.91 37.34L257.45 58.04A193.4 193.4 0 0 0 254.24 58.46Z" fill="#000"/><path d="M255.09 38.82A212.76 212.76 0 0 1 258.63 38.42L260.66 57.67A193.4 193.4 0 0 0 257.45 58.04Z" fill="#000"/><path d="M257.08 23.81A227.45 227.45 0 0 1 260.87 23.44L263.89 57.36A193.4 193.4 0 0 0 260.66 57.67Z" fill="#000"/><path d="M260.86 23.36A227.54 227.54 0 0 1 264.66 23.05L267.11 57.1A193.4 193.4 0 0 0 263.89 57.36Z" fill="#000"/><path d="M265.7 37.46A213.09 213.09 0 0 1 269.26 37.24L270.34 56.89A193.4 193.4 0 0 0 267.11 57.1Z" fill="#000"/><path d="M269.16 35.53A214.8 214.8 0 0 1 272.75 35.36L273.58 56.74A193.4 193.4 0 0 0 270.34 56.89Z" fill="#000"/><path d="M272.75 35.36A214.8 214.8 0 0 1 276.35 35.25L276.81 56.65A193.4 193.4 0 0 0 273.58 56.74Z" fill="#000"/><path d="M276.35 35.25A214.8 214.8 0 0 1 279.94 35.2L280.05 56.6A193.4 193.4 0 0 0 276.81 56.65Z" fill="#000"/><path d="M279.94 35.2A214.8 214.8 0 0 1 283.54 35.21L283.29 56.61A193.4 193.4 0 0 0 280.05 56.6Z" fill="#000"/><path d="M283.69 22.58A227.44 227.44 0 0 1 287.49 22.65L286.52 56.68A193.4 193.4 0 0 0 283.29 56.61Z" fill="#000"/><path d="M287.52 21.83A228.26 228.26 0 0 1 291.34 21.97L289.76 56.8A193.4 193.4 0 0 0 286.52 56.68Z" fill="#000"/><path d="M290.73 35.42A214.8 214.8 0 0 1 294.32 35.61L292.99 56.97A193.4 193.4 0 0 0 289.76 56.8Z" fill="#000"/><path d="M294.21 37.28A213.13 213.13 0 0 1 297.77 37.53L296.22 57.2A193.4 193.4 0 0 0 292.99 56.97Z" fill="#000"/><path d="M298.88 23.44A227.27 227.27 0 0 1 302.67 23.77L299.44 57.48A193.4 193.4 0 0 0 296.22 57.2Z" fill="#000"/><path d="M302.71 23.38A227.65 227.65 0 0 1 306.5 23.78L302.66 57.82A193.4 193.4 0 0 0 299.44 57.48Z" fill="#000"/><path d="M306.51 23.64A227.79 227.79 0 0 1 310.3 24.1L305.88 58.21A193.4 193.4 0 0 0 302.66 57.82Z" fill="#000"/><path d="M308.63 36.98A214.8 214.8 0 0 1 312.19 37.48L309.08 58.65A193.4 193.4 0 0 0 305.88 58.21Z" fill="#000"/><path d="M313.99 25.18A227.23 227.23 0 0 1 317.75 25.76L312.28 59.15A193.4 193.4 0 0 0 309.08 58.65Z" fill="#000"/><path d="M317.83 25.29A227.71 227.71 0 0 1 321.59 25.94L315.47 59.7A193.4 193.4 0 0 0 312.28 59.15Z" fill="#000"/><path d="M319.29 38.64A214.8 214.8 0 0 1 322.82 39.31L318.65 60.3A193.4 193.4 0 0 0 315.47 59.7Z" fill="#000"/><path d="M322.82 39.31A214.8 214.8 0 0 1 326.34 40.04L321.82 60.96A193.4 193.4 0 0 0 318.65 60.3Z" fill="#000"/><path d="M326.34 40.04A214.8 214.8 0 0 1 329.85 40.83L324.98 61.67A193.4 193.4 0 0 0 321.82 60.96Z" fill="#000"/><path d="M329.85 40.83A214.8 214.8 0 0 1 333.34 41.67L328.13 62.43A193.4 193.4 0 0 0 324.98 61.67Z" fill="#000"/><path d="M336.63 28.59A228.29 228.29 0 0 1 340.32 29.56L331.26 63.24A193.4 193.4 0 0 0 328.13 62.43Z" fill="#000"/><path d="M340.08 30.48A227.33 227.33 0 0 1 343.74 31.5L334.38 64.11A193.4 193.4 0 0 0 331.26 63.24Z" fill="#000"/><path d="M343.9 30.94A227.92 227.92 0 0 1 347.56 32.02L337.48 65.03A193.4 193.4 0 0 0 334.38 64.11Z" fill="#000"/><path d="M343.73 44.56A214.8 214.8 0 0 1 347.16 45.64L340.57 66A193.4 193.4 0 0 0 337.48 65.03Z" fill="#000"/><path d="M347.16 45.64A214.8 214.8 0 0 1 350.57 46.78L343.64 67.03A193.4 193.4 0 0 0 340.57 66Z" fill="#000"/><path d="M354.64 34.91A227.35 227.35 0 0 1 358.22 36.17L346.69 68.1A193.4 193.4 0 0 0 343.64 67.03Z" fill="#000"/><path d="M353.88 48.21A214.55 214.55 0 0 1 357.24 49.46L349.73 69.22A193.4 193.4 0 0 0 346.69 68.1Z" fill="#000"/><path d="M357.31 49.28A214.74 214.74 0 0 1 360.66 50.59L352.75 70.4A193.4 193.4 0 0 0 349.73 69.22Z" fill="#000"/><path d="M359.91 52.46A212.72 212.72 0 0 1 363.21 53.81L355.74 71.63A193.4 193.4 0 0 0 352.75 70.4Z" fill="#000"/><path d="M368.81 40.44A227.21 227.21 0 0 1 372.3 41.94L358.72 72.9A193.4 193.4 0 0 0 355.74 71.63Z" fill="#000"/><path d="M372.34 41.86A227.3 227.3 0 0 1 375.81 43.42L361.67 74.23A193.4 193.4 0 0 0 358.72 72.9Z" fill="#000"/><path d="M370.6 54.78A214.8 214.8 0 0 1 373.85 56.3L364.6 75.6A193.4 193.4 0 0 0 361.67 74.23Z" fill="#000"/><path d="M373.85 56.3A214.8 214.8 0 0 1 377.08 57.89L367.51 77.03A193.4 193.4 0 0 0 364.6 75.6Z" fill="#000"/><path d="M376.24 59.56A212.92 212.92 0 0 1 379.41 61.18L370.39 78.5A193.4 193.4 0 0 0 367.51 77.03Z" fill="#000"/><path d="M386.02 48.51A227.22 227.22 0 0 1 389.38 50.29L373.25 80.02A193.4 193.4 0 0 0 370.39 78.5Z" fill="#000"/><path d="M389.42 50.22A227.3 227.3 0 0 1 392.75 52.06L376.08 81.59A193.4 193.4 0 0 0 373.25 80.02Z" fill="#000"/><path d="M386.45 63.21A214.5 214.5 0 0 1 389.56 65L378.89 83.2A193.4 193.4 0 0 0 376.08 81.59Z" fill="#000"/><path d="M388.88 66.17A213.15 213.15 0 0 1 391.95 68L381.66 84.86A193.4 193.4 0 0 0 378.89 83.2Z" fill="#000"/><path d="M391.79 68.25A212.85 212.85 0 0 1 394.82 70.13L384.41 86.57A193.4 193.4 0 0 0 381.66 84.86Z" fill="#000"/><path d="M395.86 68.49A214.8 214.8 0 0 1 398.88 70.43L387.13 88.32A193.4 193.4 0 0 0 384.41 86.57Z" fill="#000"/><path d="M398.88 70.43A214.8 214.8 0 0 1 401.87 72.43L389.83 90.12A193.4 193.4 0 0 0 387.13 88.32Z" fill="#000"/><path d="M409.11 61.79A227.68 227.68 0 0 1 412.25 63.96L392.49 91.97A193.4 193.4 0 0 0 389.83 90.12Z" fill="#000"/><path d="M412.41 63.72A227.97 227.97 0 0 1 415.51 65.95L395.12 93.86A193.4 193.4 0 0 0 392.49 91.97Z" fill="#000"/><path d="M406.48 78.31A212.66 212.66 0 0 1 409.33 80.43L397.71 95.79A193.4 193.4 0 0 0 395.12 93.86Z" fill="#000"/><path d="M410.63 78.72A214.8 214.8 0 0 1 413.48 80.92L400.28 97.76A193.4 193.4 0 0 0 397.71 95.79Z" fill="#000"/><path d="M421.55 70.61A227.9 227.9 0 0 1 424.54 72.99L402.81 99.78A193.4 193.4 0 0 0 400.28 97.76Z" fill="#000"/><path d="M424.23 73.37A227.41 227.41 0 0 1 427.16 75.79L405.31 101.84A193.4 193.4 0 0 0 402.81 99.78Z" fill="#000"/><path d="M427.5 75.39A227.93 227.93 0 0 1 430.4 77.86L407.77 103.94A193.4 193.4 0 0 0 405.31 101.84Z" fill="#000"/><path d="M421.8 87.78A214.8 214.8 0 0 1 424.49 90.16L410.2 106.08A193.4 193.4 0 0 0 407.77 103.94Z" fill="#000"/><path d="M424.49 90.16A214.8 214.8 0 0 1 427.15 92.58L412.59 108.27A193.4 193.4 0 0 0 410.2 106.08Z" fill="#000"/><path d="M427.15 92.58A214.8 214.8 0 0 1 429.76 95.05L414.94 110.49A193.4 193.4 0 0 0 412.59 108.27Z" fill="#000"/><path d="M439.15 85.28A228.35 228.35 0 0 1 441.88 87.95L417.26 112.75A193.4 193.4 0 0 0 414.94 110.49Z" fill="#000"/><path d="M441.12 88.72A227.27 227.27 0 0 1 443.79 91.42L419.53 115.05A193.4 193.4 0 0 0 417.26 112.75Z" fill="#000"/><path d="M434.86 100.12A214.8 214.8 0 0 1 437.35 102.71L421.77 117.39A193.4 193.4 0 0 0 419.53 115.05Z" fill="#000"/><path d="M437.35 102.71A214.8 214.8 0 0 1 439.79 105.35L423.97 119.76A193.4 193.4 0 0 0 421.77 117.39Z" fill="#000"/><path d="M449.45 96.55A227.87 227.87 0 0 1 452 99.39L426.13 122.17A193.4 193.4 0 0 0 423.97 119.76Z" fill="#000"/><path d="M452.04 99.35A227.93 227.93 0 0 1 454.54 102.24L428.25 124.62A193.4 193.4 0 0 0 426.13 122.17Z" fill="#000"/><path d="M444.55 110.75A214.8 214.8 0 0 1 446.85 113.5L430.33 127.1A193.4 193.4 0 0 0 428.25 124.62Z" fill="#000"/><path d="M446.85 113.5A214.8 214.8 0 0 1 449.12 116.3L432.37 129.62A193.4 193.4 0 0 0 430.33 127.1Z" fill="#000"/><path d="M447.46 117.61A212.69 212.69 0 0 1 449.66 120.42L434.36 132.17A193.4 193.4 0 0 0 432.37 129.62Z" fill="#000"/><path d="M461.42 111.38A227.52 227.52 0 0 1 463.71 114.42L436.31 134.75A193.4 193.4 0 0 0 434.36 132.17Z" fill="#000"/><path d="M464.41 113.9A228.39 228.39 0 0 1 466.67 116.99L438.22 137.37A193.4 193.4 0 0 0 436.31 134.75Z" fill="#000"/><path d="M466.67 116.99A228.4 228.4 0 0 1 468.87 120.11L440.08 140.02A193.4 193.4 0 0 0 438.22 137.37Z" fill="#000"/><path d="M457.68 127.85A214.8 214.8 0 0 1 459.7 130.82L441.9 142.69A193.4 193.4 0 0 0 440.08 140.02Z" fill="#000"/><path d="M459.7 130.82A214.8 214.8 0 0 1 461.67 133.83L443.67 145.4A193.4 193.4 0 0 0 441.9 142.69Z" fill="#000"/><path d="M460.83 134.37A213.8 213.8 0 0 1 462.74 137.39L445.4 148.14A193.4 193.4 0 0 0 443.67 145.4Z" fill="#000"/><path d="M474.26 130.26A227.35 227.35 0 0 1 476.23 133.51L447.08 150.9A193.4 193.4 0 0 0 445.4 148.14Z" fill="#000"/><path d="M476.84 133.15A228.05 228.05 0 0 1 478.76 136.45L448.72 153.7A193.4 193.4 0 0 0 447.08 150.9Z" fill="#000"/><path d="M466.41 143.54A213.8 213.8 0 0 1 468.17 146.66L450.31 156.52A193.4 193.4 0 0 0 448.72 153.7Z" fill="#000"/><path d="M468.17 146.66A213.8 213.8 0 0 1 469.87 149.81L451.85 159.37A193.4 193.4 0 0 0 450.31 156.52Z" fill="#000"/><path d="M469.87 149.81A213.8 213.8 0 0 1 471.52 152.98L453.34 162.24A193.4 193.4 0 0 0 451.85 159.37Z" fill="#000"/><path d="M484.48 146.38A228.34 228.34 0 0 1 486.18 149.8L454.79 165.13A193.4 193.4 0 0 0 453.34 162.24Z" fill="#000"/><path d="M471.27 157.09A211.74 211.74 0 0 1 472.8 160.28L456.18 168.06A193.4 193.4 0 0 0 454.79 165.13Z" fill="#000"/><path d="M473 160.19A211.97 211.97 0 0 1 474.48 163.41L457.53 171A193.4 193.4 0 0 0 456.18 168.06Z" fill="#000"/><path d="M474.16 163.55A211.63 211.63 0 0 1 475.58 166.8L458.83 173.96A193.4 193.4 0 0 0 457.53 171Z" fill="#000"/><path d="M490.31 160.5A227.64 227.64 0 0 1 491.78 164.02L460.07 176.95A193.4 193.4 0 0 0 458.83 173.96Z" fill="#000"/><path d="M492.12 163.88A228.01 228.01 0 0 1 493.53 167.42L461.27 179.96A193.4 193.4 0 0 0 460.07 176.95Z" fill="#000"/><path d="M480.29 172.57A213.8 213.8 0 0 1 481.55 175.92L462.42 182.99A193.4 193.4 0 0 0 461.27 179.96Z" fill="#000"/><path d="M481.55 175.92A213.8 213.8 0 0 1 482.77 179.28L463.51 186.03A193.4 193.4 0 0 0 462.42 182.99Z" fill="#000"/><path d="M496.08 174.62A227.91 227.91 0 0 1 497.31 178.23L464.56 189.1A193.4 193.4 0 0 0 463.51 186.03Z" fill="#000"/><path d="M497.52 178.16A228.13 228.13 0 0 1 498.69 181.79L465.55 192.18A193.4 193.4 0 0 0 464.56 189.1Z" fill="#000"/><path d="M482.97 186.72A211.65 211.65 0 0 1 484 190.11L466.5 195.27A193.4 193.4 0 0 0 465.55 192.18Z" fill="#000"/><path d="M485.69 189.61A213.41 213.41 0 0 1 486.67 193.05L467.39 198.39A193.4 193.4 0 0 0 466.5 195.27Z" fill="#000"/><path d="M486.97 192.96A213.72 213.72 0 0 1 487.89 196.42L468.22 201.51A193.4 193.4 0 0 0 467.39 198.39Z" fill="#000"/><path d="M501.62 192.86A227.9 227.9 0 0 1 502.55 196.56L469.01 204.65A193.4 193.4 0 0 0 468.22 201.51Z" fill="#000"/><path d="M502.39 196.6A227.74 227.74 0 0 1 503.26 200.31L469.74 207.81A193.4 193.4 0 0 0 469.01 204.65Z" fill="#000"/><path d="M489.3 203.43A213.44 213.44 0 0 1 490.05 206.93L470.42 210.97A193.4 193.4 0 0 0 469.74 207.81Z" fill="#000"/><path d="M490.4 206.85A213.8 213.8 0 0 1 491.09 210.36L471.05 214.15A193.4 193.4 0 0 0 470.42 210.97Z" fill="#000"/><path d="M491.09 210.37A213.79 213.79 0 0 1 491.72 213.89L471.62 217.33A193.4 193.4 0 0 0 471.05 214.15Z" fill="#000"/><path d="M491.73 213.89A213.8 213.8 0 0 1 492.3 217.42L472.14 220.53A193.4 193.4 0 0 0 471.62 217.33Z" fill="#000"/><path d="M490.47 217.7A211.94 211.94 0 0 1 490.98 221.21L472.61 223.73A193.4 193.4 0 0 0 472.14 220.53Z" fill="#000"/><path d="M506.12 219.14A227.22 227.22 0 0 1 506.6 222.91L473.02 226.94A193.4 193.4 0 0 0 472.61 223.73Z" fill="#000"/><path d="M507.53 222.8A228.16 228.16 0 0 1 507.96 226.59L473.38 230.16A193.4 193.4 0 0 0 473.02 226.94Z" fill="#000"/><path d="M493.67 228.07A213.8 213.8 0 0 1 494.01 231.63L473.68 233.38A193.4 193.4 0 0 0 473.38 230.16Z" fill="#000"/><path d="M494.01 231.63A213.8 213.8 0 0 1 494.29 235.2L473.94 236.61A193.4 193.4 0 0 0 473.68 233.38Z" fill="#000"/><path d="M492.29 235.33A211.8 211.8 0 0 1 492.5 238.87L474.13 239.84A193.4 193.4 0 0 0 473.94 236.61Z" fill="#000"/><path d="M492.57 238.87A211.86 211.86 0 0 1 492.72 242.41L474.28 243.07A193.4 193.4 0 0 0 474.13 239.84Z" fill="#000"/><path d="M492.59 242.42A211.73 211.73 0 0 1 492.69 245.96L474.36 246.31A193.4 193.4 0 0 0 474.28 243.07Z" fill="#000"/><path d="M494.76 245.92A213.8 213.8 0 0 1 494.8 249.5L474.4 249.55A193.4 193.4 0 0 0 474.36 246.31Z" fill="#000"/><path d="M508.73 249.47A227.73 227.73 0 0 1 508.71 253.28L474.38 252.78A193.4 193.4 0 0 0 474.4 249.55Z" fill="#000"/><path d="M508.57 253.28A227.59 227.59 0 0 1 508.48 257.08L474.31 256.02A193.4 193.4 0 0 0 474.38 252.78Z" fill="#000"/><path d="M494.7 256.65A213.8 213.8 0 0 1 494.56 260.23L474.18 259.25A193.4 193.4 0 0 0 474.31 256.02Z" fill="#000"/><path d="M494.56 260.23A213.8 213.8 0 0 1 494.35 263.8L474 262.49A193.4 193.4 0 0 0 474.18 259.25Z" fill="#000"/><path d="M494.35 263.8A213.8 213.8 0 0 1 494.09 267.37L473.76 265.71A193.4 193.4 0 0 0 474 262.49Z" fill="#000"/><path d="M494.09 267.37A213.8 213.8 0 0 1 493.77 270.94L473.47 268.94A193.4 193.4 0 0 0 473.76 265.71Z" fill="#000"/><path d="M507.21 272.26A227.31 227.31 0 0 1 506.81 276.04L473.13 272.16A193.4 193.4 0 0 0 473.47 268.94Z" fill="#000"/><path d="M507.45 276.12A227.96 227.96 0 0 1 506.99 279.9L472.73 275.37A193.4 193.4 0 0 0 473.13 272.16Z" fill="#000"/><path d="M492.42 277.98A213.26 213.26 0 0 1 491.92 281.51L472.28 278.58A193.4 193.4 0 0 0 472.73 275.37Z" fill="#000"/><path d="M490.74 281.33A212.07 212.07 0 0 1 490.19 284.84L471.77 281.77A193.4 193.4 0 0 0 472.28 278.58Z" fill="#000"/><path d="M491.9 285.12A213.8 213.8 0 0 1 491.28 288.65L471.21 284.96A193.4 193.4 0 0 0 471.77 281.77Z" fill="#000"/><path d="M495.21 289.37A217.8 217.8 0 0 1 494.52 292.95L470.6 288.14A193.4 193.4 0 0 0 471.21 284.96Z" fill="#000"/><path d="M503.77 294.81A227.23 227.23 0 0 1 502.99 298.53L469.94 291.31A193.4 193.4 0 0 0 470.6 288.14Z" fill="#000"/><path d="M503.87 298.73A228.14 228.14 0 0 1 503.03 302.45L469.22 294.46A193.4 193.4 0 0 0 469.94 291.31Z" fill="#000"/><path d="M492.97 300.07A217.8 217.8 0 0 1 492.1 303.62L468.45 297.61A193.4 193.4 0 0 0 469.22 294.46Z" fill="#000"/><path d="M492.1 303.62A217.8 217.8 0 0 1 491.17 307.14L467.63 300.74A193.4 193.4 0 0 0 468.45 297.61Z" fill="#000"/><path d="M501.18 309.86A228.17 228.17 0 0 1 500.14 313.54L466.75 303.86A193.4 193.4 0 0 0 467.63 300.74Z" fill="#000"/><path d="M499.79 313.43A227.8 227.8 0 0 1 498.69 317.09L465.82 306.96A193.4 193.4 0 0 0 466.75 303.86Z" fill="#000"/><path d="M487.44 313.62A216.03 216.03 0 0 1 486.35 317.07L464.84 310.04A193.4 193.4 0 0 0 465.82 306.96Z" fill="#000"/><path d="M486.09 316.98A215.75 215.75 0 0 1 484.94 320.4L463.81 313.11A193.4 193.4 0 0 0 464.84 310.04Z" fill="#000"/><path d="M485.22 320.5A216.04 216.04 0 0 1 484.01 323.91L462.73 316.16A193.4 193.4 0 0 0 463.81 313.11Z" fill="#000"/><path d="M485.66 324.51A217.8 217.8 0 0 1 484.38 327.92L461.6 319.19A193.4 193.4 0 0 0 462.73 316.16Z" fill="#000"/><path d="M493.64 331.47A227.71 227.71 0 0 1 492.24 335.02L460.41 322.21A193.4 193.4 0 0 0 461.6 319.19Z" fill="#000"/><path d="M483.05 331.32A217.8 217.8 0 0 1 481.66 334.69L459.18 325.2A193.4 193.4 0 0 0 460.41 322.21Z" fill="#000"/><path d="M481.66 334.69A217.8 217.8 0 0 1 480.22 338.03L457.9 328.17A193.4 193.4 0 0 0 459.18 325.2Z" fill="#000"/><path d="M480.22 338.03A217.8 217.8 0 0 1 478.71 341.36L456.56 331.12A193.4 193.4 0 0 0 457.9 328.17Z" fill="#000"/><path d="M476.84 340.49A215.74 215.74 0 0 1 475.3 343.76L455.18 334.05A193.4 193.4 0 0 0 456.56 331.12Z" fill="#000"/><path d="M475.7 343.95A216.18 216.18 0 0 1 474.1 347.19L453.75 336.95A193.4 193.4 0 0 0 455.18 334.05Z" fill="#000"/><path d="M473.8 347.04A215.84 215.84 0 0 1 472.14 350.26L452.27 339.83A193.4 193.4 0 0 0 453.75 336.95Z" fill="#000"/><path d="M447.88 386.03A215.3 215.3 0 0 1 445.58 388.81L428.84 374.69A193.4 193.4 0 0 0 430.91 372.2Z" fill="#000"/><path d="M445.58 388.81A215.3 215.3 0 0 1 443.23 391.54L426.73 377.14A193.4 193.4 0 0 0 428.84 374.69Z" fill="#000"/><path d="M453.06 400.11A228.34 228.34 0 0 1 450.52 402.97L424.58 379.57A193.4 193.4 0 0 0 426.73 377.14Z" fill="#000"/><path d="M450.56 403A228.38 228.38 0 0 1 447.97 405.82L422.39 381.95A193.4 193.4 0 0 0 424.58 379.57Z" fill="#000"/><path d="M438.41 396.89A215.3 215.3 0 0 1 435.93 399.51L420.17 384.3A193.4 193.4 0 0 0 422.39 381.95Z" fill="#000"/><path d="M435.93 399.51A215.3 215.3 0 0 1 433.4 402.08L417.9 386.61A193.4 193.4 0 0 0 420.17 384.3Z" fill="#000"/><path d="M442.34 411A227.93 227.93 0 0 1 439.62 413.68L415.59 388.88A193.4 193.4 0 0 0 417.9 386.61Z" fill="#000"/><path d="M430.83 404.61A215.3 215.3 0 0 1 428.23 407.09L413.25 391.12A193.4 193.4 0 0 0 415.59 388.88Z" fill="#000"/><path d="M428.23 407.09A215.3 215.3 0 0 1 425.58 409.54L410.87 393.31A193.4 193.4 0 0 0 413.25 391.12Z" fill="#000"/><path d="M425.11 409.02A214.61 214.61 0 0 1 422.43 411.41L408.45 395.46A193.4 193.4 0 0 0 410.87 393.31Z" fill="#000"/><path d="M422.45 411.44A214.64 214.64 0 0 1 419.73 413.78L406 397.58A193.4 193.4 0 0 0 408.45 395.46Z" fill="#000"/><path d="M428.01 423.56A227.45 227.45 0 0 1 425.08 425.99L403.51 399.65A193.4 193.4 0 0 0 406 397.58Z" fill="#000"/><path d="M425.22 426.16A227.67 227.67 0 0 1 422.25 428.55L400.99 401.68A193.4 193.4 0 0 0 403.51 399.65Z" fill="#000"/><path d="M422.42 428.76A227.93 227.93 0 0 1 419.41 431.1L398.44 403.66A193.4 193.4 0 0 0 400.99 401.68Z" fill="#000"/><path d="M412.64 422.26A216.8 216.8 0 0 1 409.74 424.43L395.85 405.61A193.4 193.4 0 0 0 398.44 403.66Z" fill="#000"/><path d="M409.74 424.43A216.8 216.8 0 0 1 406.81 426.57L393.23 407.51A193.4 193.4 0 0 0 395.85 405.61Z" fill="#000"/><path d="M406.81 426.57A216.8 216.8 0 0 1 403.83 428.65L390.57 409.36A193.4 193.4 0 0 0 393.23 407.51Z" fill="#000"/><path d="M403.83 428.65A216.8 216.8 0 0 1 400.83 430.68L387.89 411.18A193.4 193.4 0 0 0 390.57 409.36Z" fill="#000"/><path d="M407.21 440.31A228.36 228.36 0 0 1 404.01 442.4L385.18 412.94A193.4 193.4 0 0 0 387.89 411.18Z" fill="#000"/><path d="M403.62 441.78A227.63 227.63 0 0 1 400.39 443.8L382.44 414.66A193.4 193.4 0 0 0 385.18 412.94Z" fill="#000"/><path d="M400.25 443.58A227.37 227.37 0 0 1 397 445.55L379.67 416.34A193.4 193.4 0 0 0 382.44 414.66Z" fill="#000"/><path d="M391.61 436.46A216.8 216.8 0 0 1 388.47 438.29L376.87 417.97A193.4 193.4 0 0 0 379.67 416.34Z" fill="#000"/><path d="M388.47 438.29A216.8 216.8 0 0 1 385.3 440.06L374.05 419.55A193.4 193.4 0 0 0 376.87 417.97Z" fill="#000"/><path d="M385.18 439.83A216.54 216.54 0 0 1 381.98 441.55L371.19 421.08A193.4 193.4 0 0 0 374.05 419.55Z" fill="#000"/><path d="M382.11 441.78A216.8 216.8 0 0 1 378.88 443.45L368.32 422.57A193.4 193.4 0 0 0 371.19 421.08Z" fill="#000"/><path d="M378.88 443.45A216.8 216.8 0 0 1 375.63 445.06L365.42 424A193.4 193.4 0 0 0 368.32 422.57Z" fill="#000"/><path d="M380.24 454.56A227.36 227.36 0 0 1 376.81 456.19L362.49 425.39A193.4 193.4 0 0 0 365.42 424Z" fill="#000"/><path d="M376.78 456.14A227.3 227.3 0 0 1 373.32 457.71L359.55 426.73A193.4 193.4 0 0 0 362.49 425.39Z" fill="#000"/><path d="M373.54 458.23A227.87 227.87 0 0 1 370.05 459.75L356.58 428.02A193.4 193.4 0 0 0 359.55 426.73Z" fill="#000"/><path d="M365.03 447.92A215.02 215.02 0 0 1 361.7 449.3L353.59 429.26A193.4 193.4 0 0 0 356.58 428.02Z" fill="#000"/><path d="M362.16 450.43A216.24 216.24 0 0 1 358.79 451.76L350.58 430.45A193.4 193.4 0 0 0 353.59 429.26Z" fill="#000"/><path d="M358.88 451.98A216.47 216.47 0 0 1 355.49 453.25L347.55 431.59A193.4 193.4 0 0 0 350.58 430.45Z" fill="#000"/><path d="M355.94 454.5A217.8 217.8 0 0 1 352.51 455.73L344.5 432.68A193.4 193.4 0 0 0 347.55 431.59Z" fill="#000"/><path d="M352.51 455.73A217.8 217.8 0 0 1 349.06 456.89L341.43 433.72A193.4 193.4 0 0 0 344.5 432.68Z" fill="#000"/><path d="M349.06 456.89A217.8 217.8 0 0 1 345.58 458L338.35 434.7A193.4 193.4 0 0 0 341.43 433.72Z" fill="#000"/><path d="M348.62 467.79A228.04 228.04 0 0 1 344.97 468.89L335.25 435.64A193.4 193.4 0 0 0 338.35 434.7Z" fill="#000"/><path d="M344.99 468.96A228.12 228.12 0 0 1 341.31 470L332.13 436.52A193.4 193.4 0 0 0 335.25 435.64Z" fill="#000"/><path d="M338.59 460.05A217.8 217.8 0 0 1 335.06 460.98L329.01 437.35A193.4 193.4 0 0 0 332.13 436.52Z" fill="#000"/><path d="M335.06 460.98A217.8 217.8 0 0 1 331.52 461.86L325.86 438.12A193.4 193.4 0 0 0 329.01 437.35Z" fill="#000"/><path d="M333.81 471.45A227.66 227.66 0 0 1 330.1 472.3L322.71 438.85A193.4 193.4 0 0 0 325.86 438.12Z" fill="#000"/><path d="M330.23 472.89A228.26 228.26 0 0 1 326.49 473.69L319.54 439.52A193.4 193.4 0 0 0 322.71 438.85Z" fill="#000"/><path d="M324.4 463.43A217.8 217.8 0 0 1 320.83 464.13L316.36 440.14A193.4 193.4 0 0 0 319.54 439.52Z" fill="#000"/><path d="M320.83 464.13A217.8 217.8 0 0 1 317.24 464.76L313.18 440.7A193.4 193.4 0 0 0 316.36 440.14Z" fill="#000"/><path d="M317.24 464.76A217.8 217.8 0 0 1 313.64 465.34L309.98 441.22A193.4 193.4 0 0 0 313.18 440.7Z" fill="#000"/><path d="M315.08 474.84A227.4 227.4 0 0 1 311.31 475.37L306.78 441.67A193.4 193.4 0 0 0 309.98 441.22Z" fill="#000"/><path d="M311.4 476.02A228.06 228.06 0 0 1 307.61 476.5L303.56 442.08A193.4 193.4 0 0 0 306.78 441.67Z" fill="#000"/><path d="M307.62 476.57A228.13 228.13 0 0 1 303.82 476.98L300.35 442.43A193.4 193.4 0 0 0 303.56 442.08Z" fill="#000"/><path d="M302.62 465.04A216.13 216.13 0 0 1 299.02 465.38L297.12 442.73A193.4 193.4 0 0 0 300.35 442.43Z" fill="#000"/><path d="M299.16 467.04A217.8 217.8 0 0 1 295.52 467.32L293.89 442.97A193.4 193.4 0 0 0 297.12 442.73Z" fill="#000"/><path d="M295.52 467.32A217.8 217.8 0 0 1 291.88 467.53L290.66 443.16A193.4 193.4 0 0 0 293.89 442.97Z" fill="#000"/><path d="M291.88 467.53A217.8 217.8 0 0 1 288.24 467.68L287.43 443.29A193.4 193.4 0 0 0 290.66 443.16Z" fill="#000"/><path d="M288.24 467.68A217.8 217.8 0 0 1 284.6 467.77L284.19 443.37A193.4 193.4 0 0 0 287.43 443.29Z" fill="#000"/><path d="M284.76 477.76A227.79 227.79 0 0 1 280.95 477.79L280.96 443.4A193.4 193.4 0 0 0 284.19 443.37Z" fill="#000"/><path d="M280.95 477.32A227.32 227.32 0 0 1 277.14 477.29L277.72 443.37A193.4 193.4 0 0 0 280.96 443.4Z" fill="#000"/><path d="M277.3 467.77A217.8 217.8 0 0 1 273.66 467.68L274.48 443.29A193.4 193.4 0 0 0 277.72 443.37Z" fill="#000"/><path d="M273.73 465.51A215.63 215.63 0 0 1 270.13 465.35L271.25 443.15A193.4 193.4 0 0 0 274.48 443.29Z" fill="#000"/><path d="M270.02 467.52A217.8 217.8 0 0 1 266.38 467.31L268.02 442.96A193.4 193.4 0 0 0 271.25 443.15Z" fill="#000"/><path d="M266.38 467.31A217.8 217.8 0 0 1 262.74 467.03L264.79 442.72A193.4 193.4 0 0 0 268.02 442.96Z" fill="#000"/><path d="M262.74 467.03A217.8 217.8 0 0 1 259.11 466.7L261.57 442.42A193.4 193.4 0 0 0 264.79 442.72Z" fill="#000"/><path d="M258.11 476.68A227.83 227.83 0 0 1 254.31 476.27L258.35 442.07A193.4 193.4 0 0 0 261.57 442.42Z" fill="#000"/><path d="M254.36 475.84A227.41 227.41 0 0 1 250.59 475.37L255.14 441.66A193.4 193.4 0 0 0 258.35 442.07Z" fill="#000"/><path d="M250.52 475.91A227.96 227.96 0 0 1 246.74 475.37L251.93 441.2A193.4 193.4 0 0 0 255.14 441.66Z" fill="#000"/><path d="M248.26 465.33A217.8 217.8 0 0 1 244.67 464.75L248.74 440.69A193.4 193.4 0 0 0 251.93 441.2Z" fill="#000"/><path d="M244.67 464.75A217.8 217.8 0 0 1 241.08 464.11L245.55 440.12A193.4 193.4 0 0 0 248.74 440.69Z" fill="#000"/><path d="M241.08 464.11A217.8 217.8 0 0 1 237.5 463.41L242.37 439.5A193.4 193.4 0 0 0 245.55 440.12Z" fill="#000"/><path d="M237.5 463.41A217.8 217.8 0 0 1 233.93 462.65L239.21 438.83A193.4 193.4 0 0 0 242.37 439.5Z" fill="#000"/><path d="M233.93 462.65A217.8 217.8 0 0 1 230.38 461.84L236.05 438.1A193.4 193.4 0 0 0 239.21 438.83Z" fill="#000"/><path d="M230.38 461.84A217.8 217.8 0 0 1 226.84 460.96L232.91 437.33A193.4 193.4 0 0 0 236.05 438.1Z" fill="#000"/><path d="M224.48 470.16A227.3 227.3 0 0 1 220.8 469.18L229.78 436.49A193.4 193.4 0 0 0 232.91 437.33Z" fill="#000"/><path d="M220.58 469.99A228.14 228.14 0 0 1 216.91 468.95L226.67 435.61A193.4 193.4 0 0 0 229.78 436.49Z" fill="#000"/><path d="M219.81 459.03A217.8 217.8 0 0 1 216.32 457.97L223.57 434.68A193.4 193.4 0 0 0 226.67 435.61Z" fill="#000"/><path d="M216.32 457.97A217.8 217.8 0 0 1 212.85 456.86L220.48 433.69A193.4 193.4 0 0 0 223.57 434.68Z" fill="#000"/><path d="M212.85 456.86A217.8 217.8 0 0 1 209.4 455.69L217.42 432.65A193.4 193.4 0 0 0 220.48 433.69Z" fill="#000"/><path d="M209.4 455.69A217.8 217.8 0 0 1 205.96 454.47L214.37 431.56A193.4 193.4 0 0 0 217.42 432.65Z" fill="#000"/><path d="M205.96 454.47A217.8 217.8 0 0 1 202.55 453.18L211.34 430.42A193.4 193.4 0 0 0 214.37 431.56Z" fill="#000"/><path d="M202.55 453.18A217.8 217.8 0 0 1 199.16 451.84L208.33 429.23A193.4 193.4 0 0 0 211.34 430.42Z" fill="#000"/><path d="M195.53 460.8A227.47 227.47 0 0 1 192.01 459.34L205.34 427.99A193.4 193.4 0 0 0 208.33 429.23Z" fill="#000"/><path d="M192.11 459.11A227.22 227.22 0 0 1 188.62 457.59L202.37 426.7A193.4 193.4 0 0 0 205.34 427.99Z" fill="#000"/><path d="M188.55 457.77A227.41 227.41 0 0 1 185.08 456.19L199.43 425.35A193.4 193.4 0 0 0 202.37 426.7Z" fill="#000"/><path d="M189.13 447.48A217.8 217.8 0 0 1 185.84 445.91L196.5 423.96A193.4 193.4 0 0 0 199.43 425.35Z" fill="#000"/><path d="M185.84 445.91A217.8 217.8 0 0 1 182.58 444.29L193.6 422.53A193.4 193.4 0 0 0 196.5 423.96Z" fill="#000"/><path d="M182.58 444.29A217.8 217.8 0 0 1 179.34 442.62L190.73 421.04A193.4 193.4 0 0 0 193.6 422.53Z" fill="#000"/><path d="M174.69 451.42A227.75 227.75 0 0 1 171.34 449.61L187.88 419.5A193.4 193.4 0 0 0 190.73 421.04Z" fill="#000"/><path d="M176.13 440.89A217.8 217.8 0 0 1 172.95 439.11L185.05 417.92A193.4 193.4 0 0 0 187.88 419.5Z" fill="#000"/><path d="M68.59 331.27A227.43 227.43 0 0 1 67.26 327.71L99.24 316.08A193.4 193.4 0 0 0 100.37 319.11Z" fill="#000"/><path d="M66.79 327.88A227.93 227.93 0 0 1 65.51 324.28L98.16 313.03A193.4 193.4 0 0 0 99.24 316.08Z" fill="#000"/><path d="M66 324.11A227.42 227.42 0 0 1 64.79 320.5L97.13 309.96A193.4 193.4 0 0 0 98.16 313.03Z" fill="#000"/><path d="M64.92 320.46A227.28 227.28 0 0 1 63.77 316.84L96.15 306.87A193.4 193.4 0 0 0 97.13 309.96Z" fill="#000"/><path d="M63.44 316.94A227.63 227.63 0 0 1 62.35 313.29L95.23 303.77A193.4 193.4 0 0 0 96.15 306.87Z" fill="#000"/><path d="M72.75 310.28A216.8 216.8 0 0 1 71.77 306.78L94.35 300.65A193.4 193.4 0 0 0 95.23 303.77Z" fill="#000"/><path d="M71.77 306.78A216.8 216.8 0 0 1 70.85 303.27L93.53 297.52A193.4 193.4 0 0 0 94.35 300.65Z" fill="#000"/><path d="M70.85 303.27A216.8 216.8 0 0 1 69.98 299.75L92.76 294.38A193.4 193.4 0 0 0 93.53 297.52Z" fill="#000"/><path d="M69.98 299.75A216.8 216.8 0 0 1 69.18 296.21L92.04 291.22A193.4 193.4 0 0 0 92.76 294.38Z" fill="#000"/><path d="M69.18 296.21A216.8 216.8 0 0 1 68.44 292.66L91.38 288.05A193.4 193.4 0 0 0 92.04 291.22Z" fill="#000"/><path d="M61.65 264.09A219.8 219.8 0 0 1 61.45 260.42L87.82 259.17A193.4 193.4 0 0 0 88 262.4Z" fill="#000"/><path d="M63.07 260.34A218.17 218.17 0 0 1 62.93 256.69L87.69 255.93A193.4 193.4 0 0 0 87.82 259.17Z" fill="#000"/><path d="M63.15 256.68A217.95 217.95 0 0 1 63.07 253.04L87.62 252.69A193.4 193.4 0 0 0 87.69 255.93Z" fill="#000"/><path d="M62.84 253.04A218.19 218.19 0 0 1 62.82 249.39L87.6 249.46A193.4 193.4 0 0 0 87.62 252.69Z" fill="#000"/><path d="M62.81 249.39A218.19 218.19 0 0 1 62.85 245.74L87.64 246.22A193.4 193.4 0 0 0 87.6 249.46Z" fill="#000"/><path d="M52.84 245.54A228.2 228.2 0 0 1 52.95 241.72L87.73 242.98A193.4 193.4 0 0 0 87.64 246.22Z" fill="#000"/><path d="M63.48 242.1A217.66 217.66 0 0 1 63.64 238.47L87.87 239.75A193.4 193.4 0 0 0 87.73 242.98Z" fill="#000"/><path d="M61.51 238.35A219.8 219.8 0 0 1 61.73 234.68L88.07 236.52A193.4 193.4 0 0 0 87.87 239.75Z" fill="#000"/><path d="M63.72 234.82A217.81 217.81 0 0 1 64 231.18L88.32 233.29A193.4 193.4 0 0 0 88.07 236.52Z" fill="#000"/><path d="M62.48 231.05A219.34 219.34 0 0 1 62.83 227.4L88.63 230.07A193.4 193.4 0 0 0 88.32 233.29Z" fill="#000"/><path d="M64.09 227.53A218.07 218.07 0 0 1 64.5 223.9L88.99 226.85A193.4 193.4 0 0 0 88.63 230.07Z" fill="#000"/><path d="M62.78 223.69A219.8 219.8 0 0 1 63.25 220.05L89.4 223.64A193.4 193.4 0 0 0 88.99 226.85Z" fill="#000"/><path d="M63.25 220.05A219.8 219.8 0 0 1 63.78 216.4L89.87 220.44A193.4 193.4 0 0 0 89.4 223.64Z" fill="#000"/><path d="M63.78 216.4A219.8 219.8 0 0 1 64.38 212.77L90.39 217.25A193.4 193.4 0 0 0 89.87 220.44Z" fill="#000"/><path d="M64.38 212.77A219.8 219.8 0 0 1 65.03 209.15L90.97 214.06A193.4 193.4 0 0 0 90.39 217.25Z" fill="#000"/><path d="M67.08 209.54A217.72 217.72 0 0 1 67.78 205.97L91.6 210.88A193.4 193.4 0 0 0 90.97 214.06Z" fill="#000"/><path d="M67.77 205.96A217.73 217.73 0 0 1 68.53 202.4L92.28 207.72A193.4 193.4 0 0 0 91.6 210.88Z" fill="#000"/><path d="M59.17 200.3A227.33 227.33 0 0 1 60.03 196.6L93.01 204.57A193.4 193.4 0 0 0 92.28 207.72Z" fill="#000"/><path d="M60.02 196.59A227.34 227.34 0 0 1 60.94 192.9L93.8 201.43A193.4 193.4 0 0 0 93.01 204.57Z" fill="#000"/><path d="M68.25 194.8A219.8 219.8 0 0 1 69.2 191.24L94.64 198.3A193.4 193.4 0 0 0 93.8 201.43Z" fill="#000"/><path d="M69.2 191.24A219.8 219.8 0 0 1 70.21 187.71L95.53 195.19A193.4 193.4 0 0 0 94.64 198.3Z" fill="#000"/><path d="M70.21 187.71A219.8 219.8 0 0 1 71.28 184.19L96.47 192.09A193.4 193.4 0 0 0 95.53 195.19Z" fill="#000"/><path d="M71.28 184.19A219.8 219.8 0 0 1 72.42 180.69L97.47 189.01A193.4 193.4 0 0 0 96.47 192.09Z" fill="#000"/><path d="M72.42 180.69A219.8 219.8 0 0 1 73.6 177.2L98.51 185.95A193.4 193.4 0 0 0 97.47 189.01Z" fill="#000"/><path d="M73.6 177.2A219.8 219.8 0 0 1 74.85 173.74L99.61 182.9A193.4 193.4 0 0 0 98.51 185.95Z" fill="#000"/></g>
<g opacity="0.2" shape-rendering="crispEdges"><path d="M482.6 355.74A227.65 227.65 0 0 1 480.8 359.1L450.74 342.69A193.4 193.4 0 0 0 452.27 339.83Z" fill="#000"/><path d="M481.31 359.38A228.23 228.23 0 0 1 479.46 362.72L449.17 345.51A193.4 193.4 0 0 0 450.74 342.69Z" fill="#000"/><path d="M466.93 355.6A213.82 213.82 0 0 1 465.13 358.7L447.55 348.32A193.4 193.4 0 0 0 449.17 345.51Z" fill="#000"/><path d="M465.29 358.79A214 214 0 0 1 463.44 361.86L445.88 351.09A193.4 193.4 0 0 0 447.55 348.32Z" fill="#000"/><path d="M474.87 368.86A227.41 227.41 0 0 1 472.85 372.09L444.16 353.83A193.4 193.4 0 0 0 445.88 351.09Z" fill="#000"/><path d="M473.53 372.52A228.21 228.21 0 0 1 471.45 375.73L442.4 356.55A193.4 193.4 0 0 0 444.16 353.83Z" fill="#000"/><path d="M470.87 375.34A227.51 227.51 0 0 1 468.74 378.5L440.6 359.24A193.4 193.4 0 0 0 442.4 356.55Z" fill="#000"/><path d="M459.08 371.89A215.8 215.8 0 0 1 457.02 374.85L438.75 361.89A193.4 193.4 0 0 0 440.6 359.24Z" fill="#000"/><path d="M466.36 381.48A227.26 227.26 0 0 1 464.14 384.57L436.85 364.52A193.4 193.4 0 0 0 438.75 361.89Z" fill="#000"/><path d="M465.03 385.22A228.37 228.37 0 0 1 462.74 388.29L434.91 367.11A193.4 193.4 0 0 0 436.85 364.52Z" fill="#000"/><path d="M461.98 387.7A227.41 227.41 0 0 1 459.65 390.71L432.93 369.67A193.4 193.4 0 0 0 434.91 367.11Z" fill="#000"/><path d="M450.53 383.53A215.8 215.8 0 0 1 448.27 386.35L430.91 372.2A193.4 193.4 0 0 0 432.93 369.67Z" fill="#000"/><path d="M167.19 449.18A229.4 229.4 0 0 1 163.88 447.25L182.26 416.29A193.4 193.4 0 0 0 185.05 417.92Z" fill="#000"/><path d="M163.88 447.25A229.4 229.4 0 0 1 160.59 445.26L179.49 414.62A193.4 193.4 0 0 0 182.26 416.29Z" fill="#000"/><path d="M169.88 430.2A211.7 211.7 0 0 1 166.88 428.31L176.75 412.89A193.4 193.4 0 0 0 179.49 414.62Z" fill="#000"/><path d="M157.34 443.22A229.4 229.4 0 0 1 154.12 441.12L174.03 411.13A193.4 193.4 0 0 0 176.75 412.89Z" fill="#000"/><path d="M162.75 428.12A213.8 213.8 0 0 1 159.79 426.12L171.35 409.31A193.4 193.4 0 0 0 174.03 411.13Z" fill="#000"/><path d="M150.94 438.97A229.4 229.4 0 0 1 147.8 436.77L168.7 407.46A193.4 193.4 0 0 0 171.35 409.31Z" fill="#000"/><path d="M157.95 422.54A211.92 211.92 0 0 1 155.08 420.45L166.08 405.55A193.4 193.4 0 0 0 168.7 407.46Z" fill="#000"/><path d="M144.69 434.51A229.4 229.4 0 0 1 141.62 432.2L163.49 403.61A193.4 193.4 0 0 0 166.08 405.55Z" fill="#000"/><path d="M141.62 432.2A229.4 229.4 0 0 1 138.59 429.84L160.94 401.62A193.4 193.4 0 0 0 163.49 403.61Z" fill="#000"/><path d="M138.59 429.84A229.4 229.4 0 0 1 135.6 427.44L158.42 399.59A193.4 193.4 0 0 0 160.94 401.62Z" fill="#000"/><path d="M135.6 427.44A229.4 229.4 0 0 1 132.65 424.98L155.93 397.52A193.4 193.4 0 0 0 158.42 399.59Z" fill="#000"/><path d="M132.65 424.98A229.4 229.4 0 0 1 129.74 422.47L153.48 395.4A193.4 193.4 0 0 0 155.93 397.52Z" fill="#000"/><path d="M129.74 422.47A229.4 229.4 0 0 1 126.88 419.91L151.06 393.25A193.4 193.4 0 0 0 153.48 395.4Z" fill="#000"/><path d="M126.88 419.91A229.4 229.4 0 0 1 124.06 417.31L148.69 391.05A193.4 193.4 0 0 0 151.06 393.25Z" fill="#000"/><path d="M124.06 417.31A229.4 229.4 0 0 1 121.28 414.66L146.34 388.82A193.4 193.4 0 0 0 148.69 391.05Z" fill="#000"/><path d="M121.28 414.66A229.4 229.4 0 0 1 118.54 411.96L144.04 386.55A193.4 193.4 0 0 0 146.34 388.82Z" fill="#000"/><path d="M118.54 411.96A229.4 229.4 0 0 1 115.86 409.22L141.77 384.24A193.4 193.4 0 0 0 144.04 386.55Z" fill="#000"/><path d="M115.86 409.22A229.4 229.4 0 0 1 113.21 406.44L139.54 381.89A193.4 193.4 0 0 0 141.77 384.24Z" fill="#000"/><path d="M113.21 406.44A229.4 229.4 0 0 1 110.62 403.61L137.36 379.5A193.4 193.4 0 0 0 139.54 381.89Z" fill="#000"/><path d="M110.62 403.61A229.4 229.4 0 0 1 108.07 400.73L135.21 377.08A193.4 193.4 0 0 0 137.36 379.5Z" fill="#000"/><path d="M108.07 400.73A229.4 229.4 0 0 1 105.57 397.82L133.1 374.62A193.4 193.4 0 0 0 135.21 377.08Z" fill="#000"/><path d="M105.57 397.82A229.4 229.4 0 0 1 103.12 394.86L131.04 372.13A193.4 193.4 0 0 0 133.1 374.62Z" fill="#000"/><path d="M103.12 394.86A229.4 229.4 0 0 1 100.72 391.86L129.02 369.6A193.4 193.4 0 0 0 131.04 372.13Z" fill="#000"/><path d="M100.72 391.86A229.4 229.4 0 0 1 98.38 388.83L127.03 367.04A193.4 193.4 0 0 0 129.02 369.6Z" fill="#000"/><path d="M98.38 388.83A229.4 229.4 0 0 1 96.08 385.75L125.1 364.45A193.4 193.4 0 0 0 127.03 367.04Z" fill="#000"/><path d="M96.08 385.75A229.4 229.4 0 0 1 93.83 382.64L123.2 361.82A193.4 193.4 0 0 0 125.1 364.45Z" fill="#000"/><path d="M93.83 382.64A229.4 229.4 0 0 1 91.64 379.48L121.35 359.16A193.4 193.4 0 0 0 123.2 361.82Z" fill="#000"/><path d="M91.64 379.48A229.4 229.4 0 0 1 89.5 376.3L119.55 356.48A193.4 193.4 0 0 0 121.35 359.16Z" fill="#000"/><path d="M89.5 376.3A229.4 229.4 0 0 1 87.41 373.07L117.79 353.76A193.4 193.4 0 0 0 119.55 356.48Z" fill="#000"/><path d="M87.41 373.07A229.4 229.4 0 0 1 85.38 369.82L116.08 351.01A193.4 193.4 0 0 0 117.79 353.76Z" fill="#000"/><path d="M85.38 369.82A229.4 229.4 0 0 1 83.4 366.53L114.41 348.24A193.4 193.4 0 0 0 116.08 351.01Z" fill="#000"/><path d="M83.4 366.53A229.4 229.4 0 0 1 81.48 363.2L112.79 345.44A193.4 193.4 0 0 0 114.41 348.24Z" fill="#000"/><path d="M81.48 363.2A229.4 229.4 0 0 1 79.61 359.85L111.21 342.61A193.4 193.4 0 0 0 112.79 345.44Z" fill="#000"/><path d="M79.61 359.85A229.4 229.4 0 0 1 77.8 356.46L109.69 339.75A193.4 193.4 0 0 0 111.21 342.61Z" fill="#000"/><path d="M77.8 356.46A229.4 229.4 0 0 1 76.05 353.04L108.21 336.87A193.4 193.4 0 0 0 109.69 339.75Z" fill="#000"/><path d="M76.05 353.04A229.4 229.4 0 0 1 74.35 349.6L106.78 333.97A193.4 193.4 0 0 0 108.21 336.87Z" fill="#000"/><path d="M74.35 349.6A229.4 229.4 0 0 1 72.71 346.13L105.4 331.04A193.4 193.4 0 0 0 106.78 333.97Z" fill="#000"/><path d="M72.71 346.13A229.4 229.4 0 0 1 71.13 342.63L104.07 328.09A193.4 193.4 0 0 0 105.4 331.04Z" fill="#000"/><path d="M71.13 342.63A229.4 229.4 0 0 1 69.61 339.1L102.78 325.12A193.4 193.4 0 0 0 104.07 328.09Z" fill="#000"/><path d="M69.61 339.1A229.4 229.4 0 0 1 68.15 335.55L101.55 322.13A193.4 193.4 0 0 0 102.78 325.12Z" fill="#000"/><path d="M68.15 335.55A229.4 229.4 0 0 1 66.75 331.98L100.37 319.11A193.4 193.4 0 0 0 101.55 322.13Z" fill="#000"/><path d="M57.69 294.81A227.76 227.76 0 0 1 56.97 291.07L90.77 284.87A193.4 193.4 0 0 0 91.38 288.05Z" fill="#000"/><path d="M56.89 291.09A227.84 227.84 0 0 1 56.24 287.33L90.21 281.69A193.4 193.4 0 0 0 90.77 284.87Z" fill="#000"/><path d="M69.28 285.16A214.62 214.62 0 0 1 68.73 281.61L89.71 278.49A193.4 193.4 0 0 0 90.21 281.69Z" fill="#000"/><path d="M66.7 281.91A216.67 216.67 0 0 1 66.19 278.32L89.26 275.28A193.4 193.4 0 0 0 89.71 278.49Z" fill="#000"/><path d="M66.06 278.34A216.8 216.8 0 0 1 65.62 274.74L88.86 272.07A193.4 193.4 0 0 0 89.26 275.28Z" fill="#000"/><path d="M66.01 274.69A216.4 216.4 0 0 1 65.63 271.09L88.52 268.85A193.4 193.4 0 0 0 88.86 272.07Z" fill="#000"/><path d="M65.36 271.12A216.67 216.67 0 0 1 65.04 267.51L88.23 265.63A193.4 193.4 0 0 0 88.52 268.85Z" fill="#000"/><path d="M67.1 267.34A214.61 214.61 0 0 1 66.84 263.76L88 262.4A193.4 193.4 0 0 0 88.23 265.63Z" fill="#000"/></g>
<g font-family="'Liberation Serif',serif" font-weight="bold" font-size="9.6" fill="#000">
<text x="42.2" y="112.5">ANAC001</text>
<text x="93.4" y="83.4">TIP</text>
<text x="93.4" y="61.6">OsNAC8</text>
<text x="142.9" y="29.3">ANAC011</text>
<text x="234.8" y="12">NAC2</text>
<text x="352" y="23">OsNAC7</text>
<text x="453.5" y="83">NAC1</text>
<text x="521" y="209">NAM</text>
<text x="506.5" y="334">OsNAC22</text>
<text x="453.5" y="426.5">TERN</text>
<text x="399" y="465">SEUN5</text>
<text x="314" y="495">ATAF</text>
<text x="215" y="494">NAP</text>
<text x="9" y="320">ANAC063</text>
<text x="2.5" y="215">ONAC003</text>
</g>
</svg>
</body></html>
